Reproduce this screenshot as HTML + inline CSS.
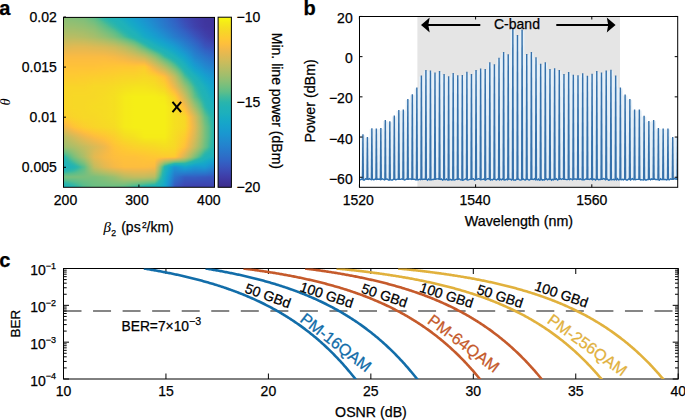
<!DOCTYPE html>
<html><head><meta charset="utf-8"><style>
html,body{margin:0;padding:0;background:#fff;}
#root{position:relative;width:685px;height:420px;overflow:hidden;background:#fff;font-family:"Liberation Sans",sans-serif;}
svg{position:absolute;left:0;top:0;}
text{font-family:"Liberation Sans",sans-serif;stroke:currentColor;stroke-width:0.25px;}
</style></head><body><div id="root">
<div style="position:absolute;left:63.50px;top:17.00px;width:151.00px;height:170.00px;overflow:hidden"><div style="height:1px;background:linear-gradient(90deg,#89bf76,#88bf77,#86bf77,#85bf78,#84bf78,#82bf79,#81bf79,#80bf7a,#7ebf7b,#7dbf7b,#7bbf7c,#76bf7e,#70bf81,#6abe83,#64be86,#5ebe89,#55bd8d,#48bb96,#3cb99e,#33b7a5,#2bb5ab,#26b4af,#23b3b2,#21b3b5,#20b2b7,#20b2b8,#1fb1ba,#1dafbd,#1baec0,#19acc2,#17aac5,#16a8c7,#16a6c9,#16a3cb,#16a1cd,#179ece,#189ccf,#1999cf,#1a96cf,#1c94d0,#1d91d0,#1e8ecf,#208bcf,#2188ce,#2385ce,#2481cd,#267ecd,#277bcc,#2878cb,#2a75ca,#2b71c9,#2d6dc8,#2f6ac7,#3066c5,#3263c4,#345ec2,#365abf,#3855bc,#3a51b9,#3c4db6,#3d49b3,#3d46b0,#3e44ae,#3e41ac,#3f3fa9,#3f3ca7,#3f3ba5,#4039a4,#4037a2,#3f369f,#3f359d,#3f359c,#3f349c,#3f349b,#3f349a,#3e3399)"></div><div style="height:1px;background:linear-gradient(90deg,#8bbf75,#8abf76,#89bf76,#87bf77,#86bf77,#85bf78,#84bf78,#82bf79,#81bf79,#80bf7a,#7ebf7b,#79bf7d,#74bf7f,#6ebf82,#69be84,#63be87,#5abd8b,#4fbc91,#42ba9a,#38b8a1,#2fb6a8,#2ab5ac,#25b4b0,#22b3b3,#20b2b5,#20b2b7,#20b2b8,#1eb0bb,#1cafbe,#1aadc1,#18abc3,#16a9c6,#16a7c8,#16a5ca,#16a2cc,#16a0ce,#179dce,#199acf,#1a98cf,#1b95d0,#1c92d0,#1e8fcf,#1f8ccf,#2189cf,#2286ce,#2483ce,#257fcd,#267ccc,#2879cb,#2976ca,#2b72c9,#2c6ec8,#2e6bc7,#3067c6,#3164c5,#3360c2,#355bc0,#3757bd,#3952ba,#3b4eb7,#3c4ab4,#3d47b1,#3d45af,#3e42ad,#3f3faa,#3f3da8,#3f3ba6,#4039a4,#4038a2,#3f36a0,#3f359e,#3f359d,#3f359c,#3f349b,#3f349a,#3e3399)"></div><div style="height:1px;background:linear-gradient(90deg,#8dbf75,#8cbf75,#8bbf75,#8abf76,#89bf76,#88bf77,#86bf77,#85bf78,#84bf78,#82bf79,#81bf79,#7cbf7b,#77bf7e,#72bf80,#6dbf82,#67be85,#5fbe89,#56bd8d,#49bb95,#3eb99d,#34b7a4,#2db6a9,#28b5ad,#24b4b1,#22b3b4,#20b2b6,#20b2b7,#1fb1b9,#1db0bc,#1baebf,#19acc2,#17aac5,#16a8c7,#16a6c9,#16a3cb,#16a1cd,#179fce,#189ccf,#1999cf,#1a96cf,#1c94d0,#1d91d0,#1f8dcf,#208acf,#2287ce,#2384ce,#2481cd,#267dcc,#277acb,#2977cb,#2a73ca,#2c70c9,#2e6cc7,#2f68c6,#3165c5,#3261c3,#345dc1,#3658be,#3854bb,#3a4fb8,#3c4bb5,#3d48b2,#3d46b0,#3e43ad,#3e40ab,#3f3ea8,#3f3ca6,#403aa5,#4038a3,#4037a0,#3f369e,#3f359d,#3f359c,#3f349b,#3f349a,#3f349a)"></div><div style="height:1px;background:linear-gradient(90deg,#8fbf74,#8ebf74,#8dbf74,#8cbf75,#8bbf75,#8abf76,#89bf76,#88bf77,#86bf77,#85bf78,#84bf78,#7fbf7a,#7abf7c,#76bf7e,#71bf80,#6cbf82,#63be86,#5bbd8b,#51bc90,#44ba98,#3ab8a0,#32b7a6,#2cb6aa,#27b4af,#23b3b2,#21b3b5,#20b2b7,#20b2b8,#1eb1ba,#1cafbd,#1aadc0,#18abc3,#16a9c6,#16a7c8,#16a5ca,#16a2cc,#16a0ce,#179dce,#199bcf,#1a98cf,#1b95d0,#1c92d0,#1e8fcf,#1f8ccf,#2188cf,#2285ce,#2482cd,#257ecd,#277bcc,#2878cb,#2a74ca,#2c71c9,#2d6dc8,#2f69c6,#3066c5,#3262c4,#345ec1,#3659bf,#3855bc,#3a51b9,#3c4cb6,#3d49b4,#3d47b1,#3e44ae,#3e41ab,#3f3ea9,#3f3ca7,#403aa5,#4038a3,#4037a1,#3f369e,#3f359d,#3f359c,#3f349c,#3f349b,#3f349a)"></div><div style="height:1px;background:linear-gradient(90deg,#91bf73,#90bf73,#8fbf74,#8ebf74,#8ebf74,#8dbf74,#8cbf75,#8abf76,#89bf76,#88bf77,#86bf77,#82bf79,#7ebf7b,#79bf7d,#75bf7f,#70bf80,#68be84,#60be88,#57bd8c,#4cbc93,#40ba9b,#37b8a2,#30b6a7,#2ab5ac,#26b4b0,#23b3b3,#20b2b5,#20b2b7,#20b2b8,#1eb0bb,#1baebe,#19acc2,#17aac5,#16a8c7,#16a6c9,#16a3cb,#16a1cd,#179fce,#189ccf,#1999cf,#1a96cf,#1c93d0,#1d90d0,#1f8dcf,#208acf,#2286ce,#2383ce,#2580cd,#267ccc,#2879cb,#2a75ca,#2b72c9,#2d6ec8,#2e6ac7,#3067c6,#3163c4,#335fc2,#355bbf,#3756bd,#3952ba,#3b4eb7,#3c4ab5,#3d48b2,#3d45af,#3e42ac,#3f3fa9,#3f3da7,#3f3ba5,#4039a4,#4037a1,#3f369f,#3f359e,#3f359d,#3f359c,#3f349b,#3f349a)"></div><div style="height:1px;background:linear-gradient(90deg,#93bf72,#92bf72,#91bf73,#91bf73,#90bf73,#90bf73,#8ebf74,#8dbf74,#8cbf75,#8abf76,#89bf76,#85bf78,#81bf79,#7dbf7b,#79bf7d,#75bf7f,#6dbf82,#65be86,#5cbe8a,#54bd8e,#47bb96,#3db99d,#35b7a3,#2eb6a9,#29b5ad,#25b4b1,#22b3b4,#20b2b6,#20b2b8,#1fb1ba,#1dafbd,#1aadc0,#18abc3,#16a9c6,#16a7c8,#16a5ca,#16a2cc,#16a0ce,#179dce,#199acf,#1a98cf,#1b95d0,#1d92d0,#1e8ecf,#208bcf,#2188ce,#2384ce,#2481cd,#267dcc,#287acb,#2976cb,#2b73ca,#2c6fc8,#2e6cc7,#2f68c6,#3164c5,#3360c3,#355cc0,#3758bd,#3953bb,#3b4fb8,#3c4cb6,#3d48b3,#3d45b0,#3e42ad,#3f3faa,#3f3da8,#3f3ba6,#4039a4,#4037a2,#3f369f,#3f369e,#3f359d,#3f359c,#3f349b,#3f349a)"></div><div style="height:1px;background:linear-gradient(90deg,#94bf71,#94bf72,#94bf72,#93bf72,#93bf72,#92bf72,#91bf73,#90bf73,#8ebf74,#8dbf74,#8cbf75,#88bf76,#85bf78,#81bf7a,#7dbf7b,#79bf7d,#71bf80,#69be84,#61be87,#59bd8b,#4fbc91,#44ba99,#3bb99f,#33b7a5,#2cb6aa,#27b4ae,#23b3b2,#21b3b5,#20b2b7,#20b2b8,#1eb0bb,#1baebe,#19acc2,#17aac5,#16a8c7,#16a6c9,#16a4cb,#16a1cd,#179fce,#189ccf,#1999cf,#1b96d0,#1c93d0,#1e90d0,#1f8ccf,#2189cf,#2285ce,#2482cd,#267ecd,#277bcc,#2977cb,#2a74ca,#2c70c9,#2d6dc8,#2f69c6,#3065c5,#3262c4,#345dc1,#3659be,#3855bb,#3a50b9,#3c4db6,#3d49b4,#3d46b1,#3e43ae,#3e40ab,#3f3ea8,#3f3ca6,#4039a4,#4038a2,#3f369f,#3f369e,#3f359d,#3f359c,#3f349c,#3f349b)"></div><div style="height:1px;background:linear-gradient(90deg,#96bf71,#96bf71,#96bf71,#95bf71,#95bf71,#95bf71,#93bf72,#92bf72,#91bf73,#90bf73,#8ebf74,#8bbf75,#88bf77,#84bf78,#81bf79,#7dbf7b,#76bf7e,#6ebf81,#66be85,#5ebe89,#57bd8d,#4cbc94,#41ba9b,#38b8a1,#31b7a7,#2bb5ab,#25b4b0,#22b3b3,#20b2b6,#20b2b7,#1fb1b9,#1dafbd,#1aadc0,#18abc3,#16a9c6,#16a7c8,#16a5ca,#16a2cc,#16a0ce,#179dce,#199acf,#1a97cf,#1b94d0,#1d91d0,#1f8dcf,#208acf,#2287ce,#2383ce,#257fcd,#277ccc,#2878cb,#2a75ca,#2b71c9,#2d6ec8,#2e6ac7,#3067c6,#3263c4,#335fc2,#355abf,#3756bc,#3952ba,#3b4eb7,#3c4ab4,#3d47b1,#3e44ae,#3e41ab,#3f3ea9,#3f3ca7,#403aa5,#4038a2,#3f36a0,#3f369f,#3f359e,#3f359d,#3f359c,#3f349b)"></div><div style="height:1px;background:linear-gradient(90deg,#98bf70,#98bf70,#98bf70,#98bf70,#97bf70,#97bf70,#96bf71,#95bf71,#93bf72,#92bf72,#91bf73,#8ebf74,#8bbf75,#88bf77,#85bf78,#82bf79,#7abf7c,#73bf7f,#6bbf83,#64be86,#5cbe8a,#54bd8e,#48bb96,#3eb99d,#36b8a3,#2fb6a8,#28b5ad,#24b4b1,#21b3b5,#20b2b7,#20b2b8,#1eb0bb,#1baebe,#19acc2,#17aac5,#16a8c7,#16a6c9,#16a4cb,#16a1cd,#179ece,#189bcf,#1a98cf,#1b95d0,#1c92d0,#1e8fcf,#208bcf,#2188ce,#2384ce,#2580cd,#267dcc,#2879cb,#2976ca,#2b72c9,#2c6fc8,#2e6bc7,#3068c6,#3164c5,#3360c3,#355cc0,#3757bd,#3953ba,#3b4fb8,#3c4bb5,#3d48b2,#3d45af,#3e41ac,#3f3fa9,#3f3ca7,#403aa5,#4038a3,#4037a0,#3f369f,#3f369e,#3f359d,#3f359c,#3f349b)"></div><div style="height:1px;background:linear-gradient(90deg,#9abf6f,#9abf6f,#9abf6f,#9abf6f,#9abf6f,#9abf6f,#99bf70,#97bf70,#96bf71,#95bf71,#93bf72,#91bf73,#8ebf74,#8bbf75,#89bf76,#86bf77,#7fbf7a,#78bf7d,#70bf81,#69be84,#61be88,#59bd8b,#50bc90,#45ba98,#3bb99f,#33b7a4,#2cb6aa,#26b4af,#22b3b3,#20b2b6,#20b2b7,#1fb1b9,#1dafbd,#1aadc0,#18abc3,#16a9c6,#16a7c8,#16a5ca,#16a2cc,#16a0ce,#179dce,#199acf,#1a97cf,#1c93d0,#1d90d0,#1f8ccf,#2189cf,#2285ce,#2482cd,#267ecc,#277acb,#2977cb,#2a73ca,#2c70c9,#2d6cc7,#2f69c6,#3165c5,#3261c4,#345dc1,#3659be,#3854bb,#3a50b9,#3c4cb6,#3d49b3,#3d45b0,#3e42ac,#3f3faa,#3f3da8,#3f3ba5,#4038a3,#4037a0,#3f369f,#3f369e,#3f359d,#3f359c,#3f349b)"></div><div style="height:1px;background:linear-gradient(90deg,#9dbf6e,#9dbf6e,#9dbf6e,#9dbf6e,#9dbf6e,#9dbf6e,#9bbf6f,#9abf6f,#99bf70,#98bf70,#96bf71,#94bf72,#91bf73,#8fbf74,#8cbf75,#89bf76,#83bf79,#7cbf7b,#75bf7f,#6ebf82,#66be85,#5fbe89,#57bd8c,#4dbc93,#42ba9a,#39b8a0,#30b7a7,#29b5ac,#24b4b1,#21b3b4,#20b2b7,#20b2b8,#1eb0bb,#1caebe,#19adc2,#17abc5,#16a8c7,#16a6c9,#16a4cb,#16a1cd,#179ece,#189bcf,#1a98cf,#1b95d0,#1d92d0,#1e8ecf,#208acf,#2287ce,#2383ce,#257fcd,#277ccc,#2878cb,#2a75ca,#2b72c9,#2d6ec8,#2e6ac7,#3067c6,#3263c4,#335fc2,#355abf,#3756bc,#3952ba,#3b4eb7,#3c4ab4,#3d47b1,#3e43ad,#3e41ab,#3f3ea9,#3f3ca6,#4039a4,#4037a1,#4037a0,#3f369f,#3f369e,#3f359d,#3f359c)"></div><div style="height:1px;background:linear-gradient(90deg,#a0be6d,#a0be6d,#a0be6d,#a0be6d,#a0be6d,#a0be6d,#9ebe6d,#9dbe6e,#9cbf6e,#9bbf6f,#99bf6f,#97bf70,#94bf71,#92bf72,#8fbf74,#8dbf75,#87bf77,#80bf7a,#79bf7d,#73bf80,#6cbf83,#64be86,#5dbe8a,#56bd8d,#4bbb94,#41ba9b,#36b8a3,#2eb6a9,#28b5ae,#23b3b2,#21b3b5,#20b2b7,#20b2b9,#1db0bc,#1baebf,#18acc3,#16aac6,#16a7c8,#16a5ca,#16a2cc,#16a0ce,#179dce,#199acf,#1a97cf,#1c94d0,#1d90d0,#1f8dcf,#2189cf,#2285ce,#2482cd,#267ecc,#277acc,#2977cb,#2a74ca,#2c70c9,#2d6cc7,#2f69c6,#3165c5,#3261c4,#345dc1,#3659be,#3855bb,#3a50b9,#3c4cb6,#3d49b3,#3d45af,#3e42ad,#3e40aa,#3f3da8,#3f3ba5,#4038a3,#4037a2,#4037a0,#3f369f,#3f359e,#3f359c)"></div><div style="height:1px;background:linear-gradient(90deg,#a3be6c,#a3be6c,#a3be6c,#a3be6c,#a3be6c,#a3be6c,#a1be6c,#a0be6d,#9fbe6d,#9ebe6e,#9dbf6e,#9abf6f,#98bf70,#95bf71,#93bf72,#90bf73,#8abf76,#84bf78,#7ebf7b,#77bf7d,#71bf80,#6abe84,#63be87,#5bbe8a,#54bd8e,#49bb95,#3db99e,#33b7a5,#2bb5ab,#26b4b0,#22b3b3,#20b2b6,#20b2b8,#1fb1ba,#1cafbd,#1aadc0,#17abc4,#16a9c7,#16a6c9,#16a4cb,#16a1cd,#179fce,#189ccf,#1998cf,#1b95d0,#1c92d0,#1e8fcf,#208bcf,#2188ce,#2384ce,#2580cd,#267dcc,#2879cb,#2976ca,#2b72c9,#2d6ec8,#2e6bc7,#3067c6,#3164c5,#3360c2,#355bc0,#3757bd,#3953ba,#3b4fb8,#3c4bb5,#3d47b1,#3e44af,#3e41ac,#3f3fa9,#3f3ca7,#4039a4,#4038a3,#4037a1,#3f36a0,#3f369e,#3f359d)"></div><div style="height:1px;background:linear-gradient(90deg,#a6be6b,#a6be6b,#a6be6b,#a6be6b,#a6be6b,#a6be6b,#a4be6b,#a3be6c,#a2be6c,#a1be6d,#a0be6d,#9dbe6e,#9bbf6f,#98bf70,#96bf71,#93bf72,#8ebf74,#88bf77,#82bf79,#7cbf7b,#76bf7e,#6fbf81,#68be84,#61be88,#5abd8b,#52bd8f,#45ba98,#39b8a0,#30b7a7,#29b5ac,#24b4b1,#21b3b4,#20b2b7,#20b2b8,#1eb0bb,#1caebe,#19acc2,#16aac6,#16a8c8,#16a5ca,#16a2cc,#16a0ce,#179dce,#199acf,#1a97cf,#1b94d0,#1d91d0,#1f8dcf,#208acf,#2286ce,#2482ce,#257fcd,#277bcc,#2878cb,#2a74ca,#2c70c9,#2d6dc8,#2f69c6,#3066c5,#3262c4,#345ec1,#3659bf,#3855bc,#3a51b9,#3c4db6,#3d49b3,#3d46b0,#3e43ae,#3e40ab,#3f3da8,#403aa5,#4039a4,#4038a3,#4037a1,#3f369f,#3f359d)"></div><div style="height:1px;background:linear-gradient(90deg,#a8be69,#a8be69,#a8be69,#a8be69,#a8be69,#a8be69,#a7be6a,#a6be6a,#a5be6b,#a4be6b,#a3be6c,#a0be6d,#9ebe6e,#9bbf6f,#99bf70,#96bf71,#91bf73,#8cbf75,#86bf77,#81bf7a,#7bbf7c,#74bf7f,#6ebf82,#67be85,#60be88,#59bd8b,#4dbc92,#41ba9b,#36b8a3,#2eb6a9,#28b5ae,#23b3b2,#21b3b5,#20b2b7,#20b2b9,#1db0bc,#1baec0,#18abc3,#16a9c7,#16a6c9,#16a4cb,#16a1cd,#169fce,#189ccf,#1999cf,#1b96d0,#1c93d0,#1e8fd0,#1f8ccf,#2188cf,#2385ce,#2481cd,#267dcc,#277acb,#2976cb,#2b72c9,#2c6fc8,#2e6bc7,#2f68c6,#3164c5,#3360c3,#355cc0,#3758bd,#3953bb,#3b4fb8,#3c4bb5,#3d48b2,#3d45af,#3e42ac,#3f3fa9,#3f3ca7,#403aa5,#4039a4,#4037a2,#3f36a0,#3f359e)"></div><div style="height:1px;background:linear-gradient(90deg,#abbe68,#abbe68,#abbe68,#abbe68,#abbe68,#abbe68,#aabe69,#a9be69,#a8be6a,#a7be6a,#a6be6b,#a3be6c,#a1be6d,#9ebe6d,#9cbf6e,#99bf6f,#95bf71,#90bf73,#8abf76,#85bf78,#80bf7a,#7abf7d,#73bf7f,#6dbf82,#66be85,#5fbe88,#56bd8d,#49bb95,#3db99e,#33b7a5,#2bb5ab,#26b4b0,#22b3b3,#20b2b6,#20b2b8,#1fb1ba,#1cafbe,#19adc1,#17aac5,#16a8c8,#16a5ca,#16a3cc,#16a1ce,#179ece,#189bcf,#1a98cf,#1b95d0,#1d92d0,#1e8ecf,#208acf,#2287ce,#2383ce,#257fcd,#277ccc,#2878cb,#2a74ca,#2b71c9,#2d6dc8,#2f6ac7,#3066c5,#3263c4,#345ec2,#365abf,#3856bc,#3a51b9,#3c4db7,#3c4ab4,#3d46b1,#3e43ae,#3e40ab,#3f3da8,#3f3ba6,#403aa4,#4038a3,#4037a0,#3f369e)"></div><div style="height:1px;background:linear-gradient(90deg,#aebe67,#aebe67,#aebe67,#aebe67,#aebe67,#aebe67,#adbe68,#acbe68,#abbe69,#aabe69,#a8be69,#a6be6a,#a4be6b,#a1be6c,#9fbe6d,#9dbf6e,#98bf70,#93bf72,#8fbf74,#8abf76,#85bf78,#7fbf7a,#79bf7d,#72bf80,#6cbf83,#65be86,#5cbe8a,#52bd8f,#45ba98,#39b8a0,#30b7a7,#29b5ac,#24b4b1,#21b3b4,#20b2b7,#20b2b8,#1eb0bb,#1baebf,#18acc3,#16a9c7,#16a6c9,#16a4cb,#16a2cc,#16a0ce,#189dcf,#199acf,#1a97cf,#1c94d0,#1d90d0,#1f8ccf,#2189cf,#2285ce,#2482cd,#267ecc,#277acb,#2976cb,#2b73ca,#2c6fc8,#2e6cc7,#2f68c6,#3165c5,#3261c3,#355cc0,#3758be,#3953bb,#3b4fb8,#3c4bb5,#3d48b2,#3d45af,#3e42ac,#3f3ea9,#3f3ca7,#403aa5,#4038a3,#4037a1,#3f369f)"></div><div style="height:1px;background:linear-gradient(90deg,#b1bd66,#b1bd66,#b1bd66,#b1bd66,#b1bd66,#b1bd66,#b0bd66,#afbe67,#aebe67,#adbe68,#abbe68,#a9be69,#a7be6a,#a4be6b,#a2be6c,#a0be6d,#9bbf6f,#97bf70,#93bf72,#8ebf74,#89bf76,#84bf78,#7ebf7b,#78bf7d,#72bf80,#6bbf83,#62be87,#59bd8b,#4dbc92,#41ba9b,#36b8a3,#2eb6a9,#28b5ae,#23b3b2,#21b3b5,#20b2b7,#1fb1b9,#1cafbd,#19adc1,#16aac5,#16a8c8,#16a5ca,#16a3cb,#16a1cd,#179ece,#189ccf,#1999cf,#1b95d0,#1c92d0,#1e8fcf,#208bcf,#2187ce,#2384ce,#2580cd,#277ccc,#2878cb,#2a75ca,#2b71c9,#2d6ec8,#2e6ac7,#3067c6,#3163c4,#335fc2,#365abf,#3856bc,#3a51b9,#3b4db7,#3c4ab4,#3d46b1,#3e43ad,#3e40aa,#3f3da8,#3f3ba6,#4039a4,#4037a2,#3f369f)"></div><div style="height:1px;background:linear-gradient(90deg,#b4bd65,#b4bd65,#b4bd65,#b4bd65,#b4bd65,#b4bd65,#b3bd65,#b2bd66,#b0bd66,#afbe67,#aebe67,#acbe68,#aabe69,#a7be6a,#a5be6b,#a3be6c,#9fbe6d,#9bbf6f,#96bf71,#92bf72,#8ebf74,#89bf76,#83bf79,#7dbf7b,#77bf7e,#71bf80,#68be84,#5fbe88,#56bd8d,#49bb95,#3db99e,#33b7a5,#2bb5ab,#26b4b0,#22b3b3,#20b2b6,#20b2b8,#1eb0bb,#1baebf,#18abc3,#16a9c7,#16a7c9,#16a5ca,#16a2cc,#16a0ce,#179dce,#199acf,#1a97cf,#1b94d0,#1d91d0,#1f8dcf,#2189cf,#2286ce,#2482cd,#267ecc,#287acb,#2977cb,#2a73ca,#2c70c9,#2d6cc7,#2f69c6,#3165c5,#3261c4,#345dc1,#3758be,#3953bb,#3a4fb8,#3c4cb6,#3d48b2,#3e44af,#3e41ab,#3f3fa9,#3f3ca7,#403aa5,#4038a3,#3f36a0)"></div><div style="height:1px;background:linear-gradient(90deg,#b7bd64,#b7bd64,#b7bd64,#b7bd64,#b7bd64,#b7bd64,#b6bd64,#b4bd65,#b3bd65,#b2bd66,#b1bd66,#afbe67,#adbe68,#aabe69,#a8be6a,#a6be6b,#a2be6c,#9ebe6e,#9abf6f,#96bf71,#93bf72,#8dbf74,#88bf77,#82bf79,#7dbf7b,#77bf7e,#6ebf81,#65be86,#5cbe8a,#52bd8f,#45ba98,#39b8a0,#30b7a7,#29b5ac,#24b4b1,#21b3b4,#20b2b7,#1fb1b9,#1cafbd,#19adc2,#16aac6,#16a8c8,#16a6c9,#16a4cb,#16a2cd,#169fce,#189ccf,#1999cf,#1b96d0,#1c93d0,#1e8fcf,#208bcf,#2188ce,#2384ce,#2580cd,#277bcc,#2878cb,#2975ca,#2b72c9,#2c6ec8,#2e6bc7,#3067c6,#3163c4,#335fc2,#365abf,#3855bc,#3a51b9,#3b4db7,#3c4ab4,#3d46b0,#3e42ad,#3e40aa,#3f3da8,#3f3ba6,#4038a3,#4037a0)"></div><div style="height:1px;background:linear-gradient(90deg,#babd62,#babd62,#babd62,#babd62,#babd62,#babd62,#b9bd63,#b8bd63,#b7bd64,#b6bd64,#b5bd64,#b3bd65,#b1bd66,#aebe67,#acbe68,#aabe69,#a7be6a,#a3be6c,#a0be6d,#9cbf6e,#99bf70,#94bf72,#8fbf74,#89bf76,#84bf78,#7fbf7a,#76bf7e,#6ebf82,#65be86,#5cbe8a,#52bd8f,#45ba98,#39b8a0,#30b7a7,#29b5ac,#24b4b1,#21b3b5,#20b2b7,#1eb1ba,#1baebf,#18acc3,#16aac6,#16a8c8,#16a6c9,#16a3cb,#16a1cd,#179fce,#189bcf,#1a98cf,#1b95d0,#1c92d0,#1e8ecf,#208acf,#2286ce,#2482ce,#267ecd,#277bcc,#2878cb,#2a75ca,#2b71c9,#2d6dc8,#2f6ac7,#3066c5,#3262c4,#345dc1,#3758be,#3854bb,#3a50b8,#3c4bb5,#3d48b2,#3e44ae,#3e41ac,#3f3fa9,#3f3ca7,#403aa5,#4037a2)"></div><div style="height:1px;background:linear-gradient(90deg,#bebc61,#bebc61,#bebc61,#bebc61,#bebc61,#bfbc61,#bebc61,#bdbd61,#bcbd62,#bbbd62,#babd62,#b8bd63,#b6bd64,#b4bd65,#b2bd66,#b0bd67,#adbe68,#a9be69,#a6be6a,#a3be6c,#a0be6d,#9bbf6f,#97bf71,#92bf72,#8dbf74,#88bf76,#81bf7a,#79bf7d,#70bf81,#68be84,#5fbe88,#56bd8d,#49bb95,#3db99e,#33b7a5,#2bb5ab,#25b4b1,#21b3b5,#20b2b7,#1eb1ba,#1baebf,#19acc2,#16aac5,#16a8c7,#16a6c9,#16a3cb,#16a1cd,#179ece,#189bcf,#1a98cf,#1b95d0,#1d91d0,#1f8dcf,#208acf,#2286ce,#2482cd,#267ecd,#277bcc,#2977cb,#2a74ca,#2c70c9,#2d6cc7,#2f68c6,#3164c5,#3360c3,#355bbf,#3756bd,#3952ba,#3b4eb7,#3c4ab4,#3d46b0,#3e43ae,#3e41ab,#3f3ea9,#3f3ca7,#4039a4)"></div><div style="height:1px;background:linear-gradient(90deg,#c2bc5f,#c2bc5f,#c2bc5f,#c2bc5f,#c3bc5f,#c3bc5f,#c2bc5f,#c1bc5f,#c1bc60,#c0bc60,#bfbc60,#bdbd61,#bbbd62,#b9bd63,#b7bd64,#b5bd64,#b2bd65,#b0bd67,#adbe68,#aabe69,#a7be6a,#a3be6c,#9fbe6d,#9abf6f,#96bf71,#92bf73,#8abf76,#83bf79,#7bbf7c,#73bf7f,#6bbf83,#62be87,#59bd8b,#4dbc92,#41ba9b,#36b8a3,#2bb5ab,#24b4b1,#21b3b5,#20b2b7,#1eb0bb,#1caebe,#19acc2,#17aac5,#16a8c8,#16a6ca,#16a3cb,#16a1cd,#179ece,#189bcf,#1a98cf,#1b94d0,#1d91d0,#1f8dcf,#2189cf,#2285ce,#2482cd,#267ecc,#277acc,#2977cb,#2a73ca,#2c6fc8,#2e6bc7,#3067c6,#3263c4,#345ec1,#3659be,#3855bb,#3a50b9,#3c4cb6,#3d48b2,#3d45af,#3e43ad,#3e40ab,#3f3ea9,#3f3ca6)"></div><div style="height:1px;background:linear-gradient(90deg,#c5bc5e,#c6bc5e,#c6bc5e,#c6bc5d,#c7bc5d,#c7bc5d,#c7bc5d,#c6bc5e,#c5bc5e,#c4bc5e,#c4bc5f,#c2bc5f,#c0bc60,#bebc61,#bdbd61,#bbbd62,#b8bd63,#b6bd64,#b3bd65,#b1bd66,#aebe67,#aabe69,#a6be6a,#a2be6c,#9ebe6d,#9abf6f,#94bf72,#8dbf75,#86bf77,#7fbf7a,#77bf7e,#6ebf81,#65be86,#5cbe8a,#52bd8f,#45ba98,#36b8a3,#2bb5ab,#24b4b1,#21b2b5,#20b2b8,#1eb1ba,#1cafbe,#19acc2,#16aac5,#16a8c8,#16a5ca,#16a3cc,#16a1cd,#179ece,#189bcf,#1a97cf,#1c94d0,#1d90d0,#1f8ccf,#2188cf,#2385ce,#2481cd,#267dcc,#2879cb,#2975ca,#2b71c9,#2d6dc8,#2f69c6,#3165c5,#3360c3,#355cc0,#3757bd,#3952ba,#3b4eb7,#3d49b4,#3d47b1,#3d45af,#3e42ad,#3e40ab,#3f3ea8)"></div><div style="height:1px;background:linear-gradient(90deg,#c9bc5c,#cabb5c,#cabb5c,#cbbb5c,#cbbb5c,#cbbb5b,#cbbb5c,#cabb5c,#cabb5c,#c9bc5c,#c9bc5d,#c7bc5d,#c5bc5e,#c4bc5f,#c2bc5f,#c0bc60,#bebc61,#bcbd62,#b9bd63,#b7bd64,#b5bd65,#b1bd66,#aebe67,#aabe69,#a7be6a,#a3be6c,#9dbf6e,#96bf71,#90bf73,#89bf76,#82bf79,#7abf7c,#71bf80,#68be84,#5fbe88,#56bd8d,#44ba99,#35b8a3,#2bb5ab,#24b4b1,#20b2b6,#20b2b8,#1eb1ba,#1caebe,#19acc2,#16aac6,#16a8c8,#16a5ca,#16a3cc,#16a1ce,#179ece,#199acf,#1a97cf,#1c94d0,#1e90d0,#1f8ccf,#2188cf,#2384ce,#2580cd,#277ccc,#2878cb,#2a74ca,#2c70c9,#2e6cc7,#3067c6,#3263c4,#345ec2,#365abf,#3855bc,#3a50b9,#3c4bb5,#3d49b3,#3d47b1,#3e44af,#3e42ad,#3e40ab)"></div><div style="height:1px;background:linear-gradient(90deg,#cdbb5b,#cdbb5b,#cebb5a,#cebb5a,#cfbb5a,#d0bb5a,#cfbb5a,#cfbb5a,#cebb5a,#cebb5a,#cdbb5b,#ccbb5b,#cabb5c,#c9bc5c,#c7bc5d,#c6bc5e,#c4bc5f,#c2bc5f,#c0bc60,#bdbc61,#bbbd62,#b8bd63,#b5bd64,#b2bd66,#aebe67,#abbe68,#a5be6b,#9fbe6d,#9abf6f,#93bf72,#8dbf74,#85bf78,#7dbf7b,#74bf7f,#6bbf83,#62be87,#56bd8d,#43ba99,#34b7a4,#2ab5ac,#23b3b2,#20b2b6,#20b2b8,#1eb0bb,#1baebf,#18acc3,#16aac6,#16a7c8,#16a5ca,#16a3cc,#16a0ce,#179dce,#199acf,#1a96cf,#1c93d0,#1e8fcf,#208bcf,#2287ce,#2383ce,#257fcd,#277acc,#2976cb,#2b72c9,#2d6ec8,#2f6ac7,#3165c5,#3261c3,#355cc0,#3757bd,#3952ba,#3b4db7,#3c4bb5,#3d49b3,#3d47b1,#3e44af,#3e42ad)"></div><div style="height:1px;background:linear-gradient(90deg,#d0bb59,#d1bb59,#d2bb59,#d2bb58,#d3bb58,#d4bb58,#d3bb58,#d3bb58,#d3bb58,#d2bb58,#d2bb59,#d1bb59,#cfbb5a,#cebb5a,#ccbb5b,#cbbb5c,#c9bc5c,#c7bc5d,#c6bc5e,#c4bc5f,#c2bc5f,#bfbc60,#bcbd62,#b9bd63,#b6bd64,#b3bd65,#aebe67,#a8be6a,#a3be6c,#9dbe6e,#97bf70,#90bf73,#88bf77,#80bf7a,#77bf7e,#6ebf81,#61be87,#55bd8e,#41ba9a,#33b7a5,#29b5ad,#23b3b2,#20b2b6,#20b2b8,#1db0bc,#1aadc0,#18acc3,#16aac6,#16a7c8,#16a5ca,#16a3cc,#16a0ce,#189dcf,#1999cf,#1b96d0,#1c92d0,#1e8ecf,#208acf,#2286ce,#2481cd,#267dcc,#2879cb,#2a75ca,#2c71c9,#2e6cc7,#3068c6,#3163c4,#345fc2,#365abf,#3854bb,#3a4fb8,#3c4db7,#3c4bb5,#3d49b3,#3d46b1,#3e44af)"></div><div style="height:1px;background:linear-gradient(90deg,#d4bb58,#d5ba57,#d6ba57,#d6ba57,#d7ba56,#d8ba56,#d8ba56,#d7ba56,#d7ba56,#d7ba57,#d7ba57,#d5ba57,#d4bb58,#d3bb58,#d1bb59,#d0bb59,#cfbb5a,#cdbb5b,#cbbb5b,#cabb5c,#c8bc5d,#c6bc5e,#c3bc5f,#c0bc60,#bebc61,#bbbd62,#b6bd64,#b1bd66,#acbe68,#a6be6a,#a1be6c,#9abf6f,#92bf72,#8abf76,#82bf79,#7abf7c,#6dbf82,#60be88,#52bd8f,#3fb99c,#31b7a6,#28b5ae,#22b3b3,#20b2b6,#20b2b8,#1cafbd,#1aadc0,#18abc4,#16a9c6,#16a7c8,#16a5ca,#16a2cc,#16a0ce,#189ccf,#1999cf,#1b95d0,#1d91d0,#1f8dcf,#2188cf,#2384ce,#257fcd,#277bcc,#2977cb,#2a73ca,#2c6ec8,#2e6ac7,#3066c5,#3261c3,#355cc0,#3757bd,#3a51b9,#3b4fb8,#3c4db7,#3c4bb5,#3d49b3,#3d47b1)"></div><div style="height:1px;background:linear-gradient(90deg,#d8ba56,#d9ba56,#d9ba55,#daba55,#dbba55,#dcba54,#dcba54,#dcba54,#dcba54,#dbba55,#dbba55,#daba55,#d9ba56,#d8ba56,#d7ba57,#d5ba57,#d4bb58,#d3bb58,#d1bb59,#d0bb5a,#cfbb5a,#ccbb5b,#cabb5c,#c7bc5d,#c5bc5e,#c2bc5f,#bebc61,#b9bd63,#b4bd65,#afbe67,#aabe69,#a3be6b,#9cbf6e,#95bf71,#8dbf74,#85bf78,#79bf7d,#6cbf83,#5fbe89,#4fbc91,#3db99e,#30b6a7,#27b4af,#21b3b4,#20b2b7,#1fb1ba,#1cafbd,#1aadc0,#18abc4,#16a9c7,#16a7c8,#16a4ca,#16a2cd,#169fce,#189ccf,#1a98cf,#1b94d0,#1e90d0,#208bcf,#2286ce,#2482cd,#267ecc,#2879cb,#2975ca,#2b71c9,#2d6cc7,#2f68c6,#3163c4,#345ec2,#3659be,#3953bb,#3a51b9,#3b4fb8,#3c4db7,#3c4bb5,#3d49b3)"></div><div style="height:1px;background:linear-gradient(90deg,#dbba55,#dcba54,#ddba54,#deba53,#dfba53,#e0ba52,#e0ba52,#e0ba52,#e0ba53,#e0ba53,#e0ba53,#dfba53,#deba54,#ddba54,#dcba54,#daba55,#d9ba55,#d8ba56,#d7ba56,#d6ba57,#d5ba57,#d3bb58,#d0bb59,#cebb5a,#ccbb5b,#cabb5c,#c6bc5e,#c1bc60,#bdbd61,#b8bd63,#b4bd65,#adbe68,#a6be6a,#9fbe6d,#97bf70,#90bf73,#84bf78,#77bf7e,#6abe83,#5dbe8a,#4cbc93,#3ab9a0,#2db6a9,#25b4b0,#21b3b5,#20b2b8,#1eb1ba,#1cafbd,#1aadc1,#18abc4,#16a9c7,#16a7c9,#16a4cb,#16a1cd,#179fce,#189bcf,#1a97cf,#1c93d0,#1e8ecf,#2189cf,#2384ce,#2580cd,#277ccc,#2878cb,#2a73ca,#2c6fc8,#2e6ac7,#3065c5,#3361c3,#355bc0,#3856bc,#3953bb,#3a51b9,#3b4fb8,#3c4db7,#3c4bb5)"></div><div style="height:1px;background:linear-gradient(90deg,#dfba53,#e0ba53,#e1ba52,#e1b952,#e2b951,#e3b951,#e3b951,#e3b951,#e3b951,#e3b951,#e3b951,#e2b951,#e1b952,#e1ba52,#e0ba53,#dfba53,#deba54,#ddba54,#dcba54,#dbba55,#daba55,#d8ba56,#d6ba57,#d4bb58,#d2bb59,#d0bb5a,#ccbb5b,#c7bc5d,#c3bc5f,#bfbc60,#bbbd62,#b4bd65,#aebe67,#a7be6a,#a0be6d,#99bf70,#8ebf74,#82bf79,#76bf7e,#69be84,#5bbe8a,#4abb95,#38b8a1,#2cb6ab,#24b4b1,#20b2b6,#20b2b8,#1fb1ba,#1cafbd,#1aadc0,#18abc4,#16a9c7,#16a6c9,#16a4cb,#16a1cd,#179ece,#199acf,#1b95d0,#1d91d0,#1f8ccf,#2287ce,#2483ce,#257ecd,#277acb,#2976ca,#2b71c9,#2d6cc7,#2f68c6,#3163c4,#345ec1,#3658be,#3756bc,#3854bb,#3952ba,#3a50b8,#3b4db7)"></div><div style="height:1px;background:linear-gradient(90deg,#e2b952,#e2b951,#e3b951,#e4b950,#e5b950,#e6b950,#e6b950,#e6b950,#e6b950,#e6b950,#e6b950,#e5b950,#e4b950,#e3b951,#e2b951,#e2b952,#e1ba52,#e0ba53,#dfba53,#deba53,#ddba54,#dbba55,#daba55,#d8ba56,#d6ba57,#d4bb58,#d0bb5a,#ccbb5b,#c8bc5d,#c4bc5e,#c0bc60,#babd62,#b4bd65,#aebe67,#a7be6a,#a1be6d,#97bf71,#8cbf75,#81bf7a,#75bf7e,#69be84,#5bbd8a,#49bb95,#38b8a1,#2cb5ab,#24b4b1,#21b3b5,#20b2b7,#1fb2b9,#1dafbc,#1aadc0,#17abc4,#16a9c7,#16a6c9,#16a3cb,#16a1cd,#189dcf,#1a98cf,#1c94d0,#1e8fcf,#208acf,#2286ce,#2481cd,#267dcc,#2878cb,#2a73ca,#2c6fc8,#2e6ac7,#3066c5,#3261c3,#355cc0,#3659be,#3757bd,#3855bb,#3952ba,#3a50b9)"></div><div style="height:1px;background:linear-gradient(90deg,#e5b950,#e5b950,#e6b950,#e7b94f,#e8b94f,#e8b94e,#e8b94e,#e8b94e,#e8b94e,#e8b94e,#e8b94e,#e8b94f,#e7b94f,#e6b950,#e5b950,#e5b950,#e4b951,#e3b951,#e2b951,#e2b952,#e1ba52,#dfba53,#ddba54,#dcba55,#daba55,#d8ba56,#d4bb58,#d1bb59,#cdbb5b,#c9bb5c,#c6bc5e,#c0bc60,#babd62,#b4bd65,#afbe67,#a8be69,#9fbe6d,#96bf71,#8cbf75,#81bf79,#76bf7e,#69be84,#5bbd8b,#49bb95,#38b8a1,#2cb5ab,#25b4b0,#21b3b4,#20b2b7,#20b2b9,#1dafbd,#1aadc0,#17abc4,#16a8c7,#16a6c9,#16a3cc,#169fce,#189bcf,#1a97cf,#1c92d0,#1f8dcf,#2189cf,#2384ce,#257fcd,#277acc,#2976ca,#2b71c9,#2d6dc8,#2f68c6,#3164c5,#335fc2,#355cc0,#365abf,#3758bd,#3855bc,#3953ba)"></div><div style="height:1px;background:linear-gradient(90deg,#e8b94f,#e8b94e,#e9b94e,#eab94e,#eab94d,#ebb94d,#ebb94d,#ebb94d,#ebb94d,#ebb94d,#ebb94d,#eab94d,#eab94e,#e9b94e,#e8b94e,#e8b94f,#e7b94f,#e6b94f,#e6b950,#e5b950,#e4b950,#e3b951,#e1b952,#dfba53,#deba54,#dcba54,#d9ba56,#d5ba57,#d2bb59,#cebb5a,#cbbb5c,#c6bc5e,#c0bc60,#bbbd62,#b6bd64,#b0bd66,#a7be6a,#9fbe6d,#96bf71,#8cbf75,#83bf79,#76bf7e,#68be84,#5bbd8b,#49bb95,#38b8a1,#2db6a9,#26b4b0,#21b3b4,#20b2b7,#1fb1b9,#1cafbd,#1aadc1,#17abc5,#16a8c8,#16a5ca,#16a2cd,#179ece,#199acf,#1b95d0,#1d90d0,#1f8ccf,#2287ce,#2482cd,#267dcc,#2878cb,#2a74ca,#2c6fc8,#2e6bc7,#3067c6,#3262c4,#3360c3,#345dc1,#355abf,#3758be,#3855bc)"></div><div style="height:1px;background:linear-gradient(90deg,#ebb94d,#ebb94d,#ecb94d,#ecb94c,#edb94c,#edb94c,#edb94c,#edb94c,#edb94c,#edb94c,#edb94c,#edb94c,#ecb94c,#ecb94d,#ebb94d,#ebb94d,#eab94d,#eab94e,#e9b94e,#e9b94e,#e8b94f,#e6b94f,#e5b950,#e3b951,#e2b952,#e0ba52,#ddba54,#daba55,#d7ba57,#d3bb58,#d0bb59,#cbbb5b,#c6bc5d,#c1bc5f,#bcbd62,#b7bd64,#b0be67,#a8be6a,#a0be6d,#97bf70,#8ebf74,#82bf79,#76bf7e,#68be84,#5bbd8b,#49bb95,#39b8a0,#2eb6a9,#26b4b0,#21b3b4,#20b2b7,#1fb1ba,#1cafbe,#19adc2,#16aac6,#16a7c8,#16a4cb,#16a1ce,#189ccf,#1a98cf,#1c94d0,#1e8fcf,#208acf,#2385ce,#257fcd,#277acb,#2976ca,#2b72c9,#2d6ec8,#2f69c6,#3165c5,#3263c4,#3360c3,#345dc1,#355bbf,#3758be)"></div><div style="height:1px;background:linear-gradient(90deg,#eeb94b,#eeb94b,#efb94b,#efb94b,#f0b94a,#f0b94a,#f0b94a,#f0b94a,#f0b94a,#f0b94a,#f0b94a,#f0b94a,#efb94b,#efb94b,#eeb94b,#eeb94b,#edb94c,#edb94c,#ecb94c,#ecb94c,#ebb94d,#eab94e,#e9b94e,#e7b94f,#e6b950,#e4b950,#e1b952,#deba53,#dbba55,#d8ba56,#d5ba57,#d1bb59,#ccbb5b,#c8bc5d,#c3bc5f,#bebc61,#b7bd63,#b0bd66,#a9be69,#a1be6c,#9abf6f,#8ebf74,#82bf79,#76bf7e,#69be84,#5bbd8a,#4abb95,#39b8a0,#2db6aa,#25b4b1,#21b2b5,#20b2b7,#1eb1ba,#1baebe,#19acc2,#16aac6,#16a6c9,#16a3cc,#169fce,#189bcf,#1a96cf,#1d92d0,#1f8ccf,#2287ce,#2482cd,#277ccc,#2878cb,#2a74ca,#2c70c9,#2e6cc7,#2f68c6,#3165c5,#3263c4,#3360c3,#345dc1,#355bbf)"></div><div style="height:1px;background:linear-gradient(90deg,#f1b94a,#f1b94a,#f1b949,#f2b949,#f2b949,#f2b949,#f2b949,#f2b949,#f2b949,#f2b949,#f2b949,#f2b949,#f2b949,#f1b949,#f1b94a,#f1b94a,#f0b94a,#f0b94a,#f0b94a,#efb94b,#efb94b,#eeb94c,#ecb94c,#ebb94d,#eab94e,#e8b94f,#e5b950,#e3b951,#e0ba52,#ddba54,#daba55,#d6ba57,#d2bb59,#cebb5a,#cabb5c,#c5bc5e,#bfbc60,#b9bd63,#b2bd66,#abbe68,#a4be6b,#9abf6f,#8ebf74,#82bf79,#76bf7e,#69be84,#5bbd8b,#48bb96,#37b8a2,#2bb5ab,#23b3b2,#20b2b6,#20b2b8,#1eb0bb,#1baebf,#18abc3,#16a8c7,#16a5ca,#16a2cd,#179ece,#1999cf,#1b94d0,#1e8fcf,#208acf,#2384ce,#267ecd,#277acc,#2977cb,#2b73ca,#2c6fc8,#2e6ac7,#2f68c6,#3065c5,#3263c4,#3360c3,#345dc1)"></div><div style="height:1px;background:linear-gradient(90deg,#f4ba48,#f4ba47,#f4ba47,#f4ba47,#f4ba47,#f5ba47,#f5ba47,#f5ba47,#f5ba47,#f5ba47,#f5ba47,#f4ba47,#f4ba47,#f4ba47,#f4ba47,#f4ba48,#f3ba48,#f3ba48,#f3b948,#f3b948,#f2b949,#f1b949,#f0b94a,#efb94b,#edb94c,#ecb94c,#eab94e,#e7b94f,#e5b950,#e2b951,#e0ba53,#dcba54,#d8ba56,#d4bb58,#d0bb59,#ccbb5b,#c7bc5d,#c1bc60,#bbbd62,#b5bd64,#afbe67,#a5be6b,#9abf6f,#8fbf74,#83bf79,#76bf7e,#68be84,#59bd8c,#44ba98,#33b7a5,#28b5ae,#22b3b3,#20b2b6,#20b2b8,#1db0bc,#1aadc0,#17aac5,#16a7c8,#16a4cb,#16a0ce,#189ccf,#1a97cf,#1d92d0,#1f8ccf,#2286ce,#2580cd,#267dcc,#2879cb,#2975ca,#2b71c9,#2d6dc8,#2e6bc7,#2f68c6,#3065c5,#3263c4,#3360c3)"></div><div style="height:1px;background:linear-gradient(90deg,#f6ba46,#f6ba45,#f7ba45,#f7ba45,#f7ba45,#f7ba45,#f7ba45,#f7ba45,#f7ba45,#f7ba45,#f7ba45,#f7ba45,#f7ba45,#f7ba45,#f6ba45,#f6ba46,#f6ba46,#f6ba46,#f6ba46,#f6ba46,#f6ba46,#f5ba47,#f3ba48,#f2b949,#f1b949,#f0b94a,#eeb94b,#ecb94d,#e9b94e,#e7b94f,#e5b950,#e1b952,#deba54,#daba55,#d7ba57,#d3bb58,#cebb5a,#c9bc5c,#c3bc5f,#bebc61,#b9bd63,#afbe67,#a5be6b,#9abf6f,#8fbf74,#83bf79,#74bf7f,#65be86,#55bd8d,#3eb99c,#2eb6a8,#26b4af,#22b3b4,#20b2b7,#1fb2b9,#1cafbd,#19acc2,#16a9c7,#16a6c9,#16a2cc,#179fce,#1999cf,#1b94d0,#1e8ecf,#2188cf,#2482ce,#257fcd,#277bcc,#2878cb,#2a74ca,#2c70c9,#2d6dc8,#2e6ac7,#2f68c6,#3165c5,#3262c4)"></div><div style="height:1px;background:linear-gradient(90deg,#f9bb43,#f9bb43,#f9bb43,#f9bb43,#f9bb43,#f9bb43,#f9bb43,#f9bb43,#f9bb43,#f9bb43,#f9bb43,#f9bb43,#f9bb43,#f9bb43,#f9bb43,#f9bb43,#f9bb43,#f9bb43,#f9bb43,#f9bb43,#f9bb44,#f8ba44,#f7ba45,#f6ba46,#f5ba47,#f4ba47,#f2b949,#f0b94a,#eeb94b,#ecb94d,#eab94e,#e7b94f,#e3b951,#e0ba52,#ddba54,#daba55,#d5ba57,#d1bb59,#ccbb5b,#c7bc5d,#c2bc5f,#b9bd63,#afbe67,#a5be6b,#9abf6f,#8fbf74,#80bf7a,#71bf80,#60be88,#4dbc93,#37b8a2,#2cb6aa,#25b4b0,#21b3b5,#20b2b7,#1eb1ba,#1baebf,#18abc4,#16a8c8,#16a5ca,#16a1cd,#189ccf,#1a97cf,#1d91d0,#208bcf,#2384ce,#2481cd,#267dcc,#277acb,#2976cb,#2b73ca,#2c70c9,#2d6dc8,#2e6ac7,#3067c6,#3165c5)"></div><div style="height:1px;background:linear-gradient(90deg,#fabc42,#fabc42,#fabc42,#fabc42,#fabc42,#fabc42,#fabc42,#fabc42,#fabc42,#fabc42,#fabc42,#fabc42,#fabc42,#fabc42,#fabc42,#fabc42,#fabc42,#fabc41,#fabc41,#fabc41,#fabc41,#fabb42,#f9bb43,#f9bb44,#f8ba44,#f7ba45,#f5ba46,#f3ba48,#f2b949,#f0b94a,#eeb94b,#ebb94d,#e8b94e,#e5b950,#e2b951,#e0ba53,#dcba54,#d8ba56,#d4bb58,#d0bb5a,#cbbb5b,#c2bc5f,#b8bd63,#aebe67,#a4be6b,#99bf6f,#8bbf75,#7cbf7c,#6cbf83,#5bbd8a,#45ba98,#36b8a3,#2bb5ab,#24b4b1,#20b2b5,#20b2b8,#1db0bc,#1aadc1,#16aac6,#16a7c9,#16a3cb,#179fce,#1999cf,#1c94d0,#1f8dcf,#2287ce,#2383ce,#2580cd,#267ccc,#2879cb,#2a75ca,#2b72c9,#2c70c9,#2d6dc8,#2f6ac7,#3067c6)"></div><div style="height:1px;background:linear-gradient(90deg,#fbbc40,#fbbc40,#fbbc40,#fbbc40,#fbbc40,#fbbc40,#fbbc40,#fbbc40,#fbbc40,#fbbc40,#fbbc40,#fbbc40,#fbbc40,#fbbc40,#fbbc40,#fbbc40,#fbbc40,#fbbc40,#fbbc40,#fbbd40,#fbbd40,#fbbc41,#fabc41,#fabc42,#f9bb43,#f9bb43,#f7ba45,#f6ba46,#f4ba47,#f3ba48,#f1b949,#efb94b,#ecb94c,#eab94e,#e7b94f,#e5b950,#e1b952,#deba53,#dbba55,#d7ba56,#d4bb58,#cabb5c,#c1bc60,#b7bd64,#adbe68,#a2be6c,#95bf71,#87bf77,#77bf7e,#67be85,#57bd8d,#44ba99,#35b7a3,#2ab5ac,#23b3b2,#20b2b6,#20b2b8,#1cafbe,#18acc3,#16a9c7,#16a5ca,#16a1cd,#189bcf,#1b96d0,#1d90d0,#2089cf,#2286ce,#2482ce,#257fcd,#277bcc,#2977cb,#2a75ca,#2b72c9,#2c6fc8,#2d6cc7,#2f69c6)"></div><div style="height:1px;background:linear-gradient(90deg,#fcbd3f,#fcbd3f,#fcbd3f,#fcbd3f,#fcbd3f,#fcbd3f,#fcbd3f,#fcbd3f,#fcbd3f,#fcbd3f,#fcbd3f,#fcbd3f,#fcbd3f,#fcbd3f,#fcbd3f,#fcbd3f,#fcbd3f,#fcbd3f,#fcbd3f,#fcbd3f,#fcbd3f,#fcbd3f,#fbbd40,#fbbc40,#fbbc41,#fabc42,#f9bb43,#f8bb44,#f7ba45,#f6ba46,#f5ba47,#f3b948,#f0b94a,#eeb94b,#ecb94c,#eab94e,#e7b94f,#e4b950,#e1b952,#dfba53,#dcba54,#d2bb58,#c9bc5c,#bfbc60,#b5bd64,#abbe68,#9ebe6e,#91bf73,#82bf79,#73bf7f,#63be87,#55bd8d,#42ba9a,#33b7a5,#28b5ad,#22b3b3,#20b2b7,#1eb1ba,#1baec0,#17abc5,#16a7c8,#16a3cc,#179ece,#1a98cf,#1c93d0,#1f8ccf,#2189cf,#2385ce,#2481cd,#267dcc,#287acb,#2977cb,#2a74ca,#2b72c9,#2c6fc8,#2e6cc7)"></div><div style="height:1px;background:linear-gradient(90deg,#fdbe3e,#fdbe3e,#fdbe3e,#fdbe3e,#fdbe3e,#fdbe3e,#fdbe3e,#fdbe3e,#fdbe3e,#fdbe3e,#fdbe3e,#fdbe3e,#fdbe3e,#fdbe3e,#fdbe3e,#fdbe3e,#fdbe3e,#fdbe3e,#fdbe3e,#fdbe3e,#fdbe3e,#fdbe3e,#fdbd3e,#fcbd3f,#fcbd3f,#fcbd40,#fbbc41,#fabc42,#f9bb42,#f9bb43,#f8ba44,#f6ba46,#f4ba47,#f2b948,#f1b94a,#efb94b,#edb94c,#eab94d,#e8b94f,#e6b950,#e4b951,#daba55,#d1bb59,#c7bc5d,#bdbc61,#b3bd65,#a7be6a,#9abf6f,#8dbf75,#7fbf7a,#6fbf81,#61be87,#52bd8f,#3eb99d,#2fb6a7,#26b4af,#21b3b5,#20b2b8,#1dafbd,#19acc2,#16a9c7,#16a4ca,#16a0ce,#199bcf,#1b95d0,#1e8fcf,#208bcf,#2187ce,#2384ce,#2580cd,#277ccc,#2879cb,#2977cb,#2a74ca,#2b71c9,#2c6ec8)"></div><div style="height:1px;background:linear-gradient(90deg,#fdbe3d,#fdbe3d,#fdbe3d,#fdbe3d,#fdbe3d,#fdbe3d,#fdbe3d,#fdbe3d,#fdbe3d,#fdbe3d,#fdbe3d,#fdbe3d,#fdbe3d,#fdbe3d,#fdbe3d,#fdbe3d,#fdbe3d,#fdbe3d,#febf3d,#febf3d,#febf3c,#febf3d,#fdbe3d,#fdbe3d,#fdbe3d,#fdbe3e,#fdbd3e,#fcbd3f,#fbbd40,#fbbc41,#fabc41,#f9bb43,#f8ba44,#f7ba45,#f5ba47,#f4ba48,#f2b949,#f1b94a,#efb94b,#edb94c,#ecb94d,#e2b951,#d9ba56,#cfbb5a,#c5bc5e,#bbbd62,#b0bd67,#a4be6b,#97bf70,#8abf76,#7bbf7c,#6dbf82,#5ebe89,#4dbc93,#39b8a0,#2cb6aa,#23b3b2,#20b2b7,#1fb1ba,#1baebf,#17abc5,#16a6c9,#16a2cc,#179dce,#1a97cf,#1d91d0,#1f8ecf,#208acf,#2286ce,#2482ce,#267ecd,#277ccc,#2879cb,#2976cb,#2a74ca,#2b71c9)"></div><div style="height:1px;background:linear-gradient(90deg,#febf3c,#febf3c,#febf3c,#febf3c,#febf3c,#febf3c,#febf3c,#febf3c,#febf3c,#febf3c,#febf3c,#febf3c,#febf3c,#febf3c,#febf3c,#febf3c,#febf3c,#febf3c,#febf3c,#fec03b,#fec03b,#fec03b,#fec03c,#febf3c,#febf3c,#febf3c,#febf3c,#fdbe3d,#fdbe3d,#fdbe3e,#fdbd3e,#fcbd40,#fbbc41,#fabc42,#f9bb43,#f8ba44,#f7ba45,#f6ba46,#f5ba46,#f4ba47,#f3ba48,#eab94d,#e1ba52,#d7ba56,#cdbb5b,#c3bc5f,#b8bd63,#adbe68,#a1be6d,#94bf72,#87bf77,#78bf7d,#6abe84,#5abd8b,#46bb97,#34b7a4,#28b5ae,#21b3b4,#20b2b8,#1dafbd,#19acc2,#16a8c7,#16a4cb,#169fce,#199acf,#1c94d0,#1d90d0,#1f8ccf,#2188cf,#2384ce,#2580cd,#267ecc,#277bcc,#2879cb,#2976cb,#2a73ca)"></div><div style="height:1px;background:linear-gradient(90deg,#fec03b,#fec03b,#fec03b,#fec03b,#fec03b,#fec03b,#fec03b,#fec03b,#fec03b,#fec03b,#fec03b,#fec03b,#fec03b,#fec03b,#fec03b,#fec03b,#fec03b,#fec03b,#fec03b,#fec13a,#fec13a,#fec13a,#fec13a,#fec13a,#fec13a,#fec13a,#fec03b,#fec03b,#fec03b,#fec03b,#febf3c,#febf3c,#fdbe3d,#fdbe3e,#fcbd3f,#fbbd40,#fbbc40,#fbbc41,#fbbc41,#fabc41,#fabc42,#f2b949,#e9b94e,#dfba53,#d5ba57,#cbbb5b,#c0bc60,#b5bd64,#aabe69,#9ebe6e,#91bf73,#83bf78,#75bf7f,#65be86,#55bd8d,#3fb99c,#2eb6a9,#24b4b1,#20b2b6,#1fb1ba,#1aaec0,#16aac6,#16a6c9,#16a1cd,#189ccf,#1b96d0,#1c93d0,#1e8fcf,#208bcf,#2287ce,#2483ce,#2580cd,#267dcc,#277bcc,#2878cb,#2976ca)"></div><div style="height:1px;background:linear-gradient(90deg,#fec03a,#fec03a,#fec03a,#fec03a,#fec03a,#fec03a,#fec03a,#fec03a,#fec03a,#fec03a,#fec03a,#fec03a,#fec03a,#fec03a,#fec03a,#fec03a,#fec13a,#fec13a,#fec13a,#fec139,#fec239,#fec239,#fec239,#fec239,#fec239,#fec238,#fec239,#fec239,#fec239,#fec239,#fec239,#fec13a,#fec13a,#fec03b,#fec03b,#febf3c,#febf3c,#febf3c,#fec03c,#fec03b,#fec03b,#f9bb43,#f0b94a,#e7b94f,#ddba54,#d3bb58,#c9bc5d,#bebc61,#b3bd65,#a7be6a,#9cbf6f,#8ebf74,#7fbf7a,#70bf81,#5fbe88,#4cbc94,#36b8a2,#28b5ad,#21b3b4,#20b2b8,#1cafbd,#18acc3,#16a7c8,#16a3cc,#179ece,#1998cf,#1b95d0,#1d91d0,#1f8dcf,#2189cf,#2385ce,#2482ce,#2580cd,#267dcc,#277bcc,#2878cb)"></div><div style="height:1px;background:linear-gradient(90deg,#fec139,#fec139,#fec139,#fec139,#fec139,#fec139,#fec139,#fec139,#fec139,#fec139,#fec139,#fec139,#fec139,#fec139,#fec139,#fec139,#fec239,#fec239,#fec238,#ffc238,#ffc338,#ffc338,#ffc337,#ffc337,#ffc337,#ffc437,#ffc437,#ffc437,#ffc437,#ffc437,#ffc436,#ffc437,#ffc337,#ffc337,#ffc338,#ffc238,#ffc337,#ffc337,#ffc436,#ffc436,#fec536,#febf3d,#f7ba45,#eeb94b,#e4b950,#daba55,#d0bb59,#c6bc5e,#bcbd62,#b1bd66,#a5be6b,#98bf70,#89bf76,#7abf7c,#69be84,#58bd8c,#41ba9b,#2fb6a8,#24b4b1,#20b2b7,#1eb1bb,#1aadc1,#16a9c7,#16a5ca,#16a0ce,#189bcf,#1a97cf,#1c93d0,#1e8fd0,#208bcf,#2287ce,#2384ce,#2482cd,#257fcd,#267dcc,#277acc)"></div><div style="height:1px;background:linear-gradient(90deg,#fec238,#fec238,#fec238,#fec238,#fec238,#fec238,#fec238,#fec238,#fec238,#fec238,#fec238,#fec238,#fec238,#fec238,#fec238,#fec238,#ffc238,#ffc338,#ffc337,#ffc337,#ffc437,#ffc436,#ffc436,#ffc436,#fec536,#fec535,#fec535,#fec635,#fec635,#fec634,#fec634,#fec634,#fec634,#fec635,#fec635,#fec635,#fec734,#fec833,#fec832,#fec931,#fdca31,#ffc437,#fdbe3e,#f5ba46,#ecb94c,#e2b952,#d8ba56,#cebb5a,#c4bc5e,#babd63,#afbe67,#a1be6c,#93bf72,#84bf78,#73bf7f,#62be87,#4ebc92,#37b8a2,#28b5ae,#21b3b5,#20b2b8,#1caebe,#17abc4,#16a7c9,#16a2cc,#179dce,#1999cf,#1b96d0,#1d92d0,#1f8dcf,#2189cf,#2287ce,#2384ce,#2482cd,#257fcd,#267ccc)"></div><div style="height:1px;background:linear-gradient(90deg,#ffc338,#ffc338,#ffc338,#ffc338,#ffc338,#ffc338,#ffc338,#ffc337,#ffc337,#ffc337,#ffc337,#ffc337,#ffc337,#ffc337,#ffc337,#ffc337,#ffc337,#ffc437,#ffc436,#ffc436,#fec536,#fec535,#fec535,#fec635,#fec634,#fec634,#fec734,#fec733,#fec733,#fec833,#fec832,#fec832,#fec832,#fec832,#fec832,#fec832,#fec932,#fdca31,#fdcb30,#fccc2f,#fccd2e,#fec733,#fec13a,#fabc42,#f2b949,#e9b94e,#dfba53,#d6ba57,#ccbb5b,#c2bc5f,#b8bd63,#abbe69,#9dbf6e,#8ebf74,#7dbf7b,#6cbf82,#5abd8b,#41ba9b,#2eb6a9,#23b3b2,#20b2b7,#1db0bc,#19acc2,#16a9c7,#16a4cb,#16a0ce,#189ccf,#1a98cf,#1c94d0,#1e90d0,#208bcf,#2189cf,#2286ce,#2384ce,#2481cd,#257fcd)"></div><div style="height:1px;background:linear-gradient(90deg,#ffc437,#ffc437,#ffc437,#ffc437,#ffc437,#ffc437,#ffc437,#ffc437,#ffc437,#ffc436,#ffc436,#ffc436,#ffc436,#ffc436,#ffc436,#ffc436,#ffc536,#fec536,#fec535,#fec635,#fec635,#fec634,#fec734,#fec734,#fec733,#fec833,#fec833,#fec832,#fec932,#fec932,#fdc931,#fdc931,#fdc931,#fdc931,#fdc931,#fdc931,#fdca30,#fdcb30,#fccc2f,#fccd2e,#fcce2d,#fec932,#ffc337,#fdbe3e,#f7ba45,#efb94b,#e6b950,#ddba54,#d3bb58,#cabb5c,#c1bc60,#b3bd65,#a6be6b,#97bf70,#88bf77,#77bf7e,#64be86,#4fbc91,#36b8a3,#27b4af,#20b2b6,#1fb2b9,#1baebf,#17abc5,#16a6c9,#16a2cd,#179ece,#199acf,#1a97cf,#1c93d0,#1e8ecf,#208bcf,#2189cf,#2286ce,#2384ce,#2481cd)"></div><div style="height:1px;background:linear-gradient(90deg,#ffc536,#ffc536,#ffc536,#ffc536,#ffc536,#ffc536,#ffc536,#fec536,#fec536,#fec536,#fec535,#fec535,#fec535,#fec535,#fec535,#fec535,#fec635,#fec634,#fec634,#fec734,#fec734,#fec733,#fec833,#fec833,#fec832,#fec932,#fec932,#fdca31,#fdca31,#fdca31,#fdcb30,#fdcb30,#fdcb30,#fdcb30,#fdcb30,#fdcb30,#fdcc2f,#fccd2f,#fcce2e,#fccf2d,#fbd02c,#fdca30,#fec535,#fec03b,#fbbc41,#f4ba47,#ecb94c,#e3b951,#dbba55,#d2bb59,#c9bc5c,#bcbd62,#afbe67,#a0be6d,#91bf73,#81bf79,#6ebf81,#5abd8b,#40ba9b,#2cb6aa,#22b3b4,#20b2b7,#1db0bc,#19acc2,#16a8c7,#16a4cb,#16a1cd,#179dce,#1999cf,#1b95d0,#1d91d0,#1e8ecf,#208bcf,#2189cf,#2286ce,#2383ce)"></div><div style="height:1px;background:linear-gradient(90deg,#fec535,#fec535,#fec535,#fec535,#fec535,#fec535,#fec535,#fec635,#fec635,#fec635,#fec635,#fec634,#fec634,#fec634,#fec634,#fec734,#fec734,#fec733,#fec833,#fec833,#fec832,#fec932,#fec932,#fec932,#fdca31,#fdca31,#fdca31,#fdcb30,#fdcb30,#fdcc2f,#fdcc2f,#fdcc2f,#fdcc2f,#fdcc2f,#fdcc2f,#fdcc2f,#fccd2e,#fcce2e,#fbcf2d,#fbd02c,#fbd12b,#fdcc2f,#fec833,#ffc337,#febe3d,#f9bb43,#f2b949,#eab94d,#e2b952,#daba55,#d1bb59,#c4bc5e,#b7bd64,#a9be69,#9bbf6f,#8bbf75,#78bf7d,#64be86,#4cbc93,#33b7a5,#25b4b1,#20b2b6,#1fb1b9,#1baebf,#16aac5,#16a6c9,#16a3cc,#16a0ce,#189ccf,#1a97cf,#1c93d0,#1d91d0,#1e8ecf,#208bcf,#2188cf,#2285ce)"></div><div style="height:1px;background:linear-gradient(90deg,#fec634,#fec634,#fec634,#fec634,#fec634,#fec634,#fec634,#fec634,#fec734,#fec734,#fec734,#fec733,#fec733,#fec733,#fec833,#fec833,#fec833,#fec832,#fec932,#fec932,#fec931,#fdca31,#fdca31,#fdca31,#fdcb30,#fdcb30,#fdcb30,#fdcc2f,#fccc2f,#fccd2e,#fccd2e,#fccd2e,#fccd2e,#fccd2e,#fccd2e,#fccd2e,#fcce2d,#fbcf2d,#fbd02c,#fbd12b,#fad22b,#fcce2e,#fdca31,#fec635,#fec239,#fdbe3e,#f8ba44,#f1b94a,#e9b94e,#e1b952,#daba55,#cdbb5b,#c0bc60,#b2bd66,#a4be6b,#95bf71,#82bf79,#6dbf82,#58bd8c,#3bb99f,#28b5ad,#21b3b4,#20b2b8,#1dafbd,#18acc3,#16a8c7,#16a5ca,#16a2cd,#179ece,#199acf,#1b96d0,#1c93d0,#1d90d0,#1f8dcf,#208acf,#2187ce)"></div><div style="height:1px;background:linear-gradient(90deg,#fec734,#fec734,#fec734,#fec734,#fec734,#fec734,#fec733,#fec733,#fec833,#fec833,#fec833,#fec832,#fec832,#fec832,#fec932,#fec932,#fec932,#fdca31,#fdca31,#fdca31,#fdcb30,#fdcb30,#fdcb30,#fdcb30,#fdcc2f,#fdcc2f,#fccd2f,#fccd2e,#fcce2e,#fcce2d,#fbcf2d,#fbcf2d,#fbcf2d,#fbcf2d,#fbcf2d,#fbcf2d,#fbd02c,#fbd02c,#fad12b,#fad22a,#fad32a,#fbcf2c,#fdcc2f,#fec932,#fec535,#fec239,#fcbd3f,#f7ba45,#f0b94a,#e9b94e,#e2b952,#d5ba57,#c8bc5d,#babd62,#acbe68,#9ebe6e,#8bbf75,#77bf7e,#61be88,#45ba98,#2db6a9,#24b4b1,#20b2b6,#1fb1ba,#1baec0,#16aac5,#16a7c8,#16a4cb,#16a0ce,#189ccf,#1a98cf,#1b95d0,#1c93d0,#1e90d0,#1f8dcf,#208acf)"></div><div style="height:1px;background:linear-gradient(90deg,#fec833,#fec833,#fec833,#fec833,#fec833,#fec833,#fec833,#fec832,#fec932,#fec932,#fec932,#fec932,#fec931,#fdca31,#fdca31,#fdca31,#fdca31,#fdcb30,#fdcb30,#fdcb30,#fdcc2f,#fdcc2f,#fccc2f,#fccd2f,#fccd2e,#fccd2e,#fcce2e,#fcce2d,#fbcf2d,#fbcf2c,#fbd02c,#fbd02c,#fbd02c,#fbd02c,#fbd02c,#fbd02c,#fbd12b,#fad22b,#fad22a,#f9d329,#f9d429,#fad12b,#fcce2d,#fdcb30,#fec832,#fec635,#fec13a,#fcbd3f,#f7ba45,#f1b94a,#eab94e,#ddba54,#d0bb5a,#c3bc5f,#b5bd65,#a6be6a,#94bf72,#80bf7a,#69be84,#51bc90,#34b7a4,#27b5ae,#21b3b4,#20b2b8,#1dafbd,#19acc2,#16a9c7,#16a6c9,#16a2cc,#179fce,#199acf,#1a98cf,#1b95d0,#1c92d0,#1e8fcf,#1f8ccf)"></div><div style="height:1px;background:linear-gradient(90deg,#fec932,#fec932,#fec932,#fec932,#fec932,#fec932,#fec932,#fec932,#fdc931,#fdca31,#fdca31,#fdca31,#fdca30,#fdcb30,#fdcb30,#fdcb30,#fdcb30,#fdcc2f,#fdcc2f,#fccc2f,#fccd2e,#fccd2e,#fccd2e,#fcce2e,#fcce2d,#fcce2d,#fbcf2d,#fbd02c,#fbd02c,#fbd12b,#fad12b,#fad12b,#fad12b,#fad12b,#fad12b,#fad12b,#fad22a,#fad32a,#f9d429,#f9d429,#f9d528,#fad32a,#fbd02c,#fcce2d,#fdcc2f,#fdca31,#fec535,#fec13a,#fcbd3f,#f8ba45,#f1b949,#e5b950,#d8ba56,#cbbb5c,#bdbd61,#afbe67,#9cbf6e,#88bf76,#72bf80,#5abd8b,#3bb99f,#2cb6aa,#24b3b2,#20b2b6,#1fb1ba,#1baebf,#17abc4,#16a8c8,#16a4cb,#16a1cd,#179dce,#199acf,#1a97cf,#1b94d0,#1d91d0,#1e8ecf)"></div><div style="height:1px;background:linear-gradient(90deg,#fdca31,#fdca31,#fdca31,#fdca31,#fdca31,#fdca31,#fdca31,#fdca31,#fdca31,#fdcb30,#fdcb30,#fdcb30,#fdcb30,#fdcc2f,#fdcc2f,#fccc2f,#fccd2f,#fccd2e,#fccd2e,#fcce2e,#fcce2e,#fcce2d,#fccf2d,#fbcf2d,#fbcf2c,#fbd02c,#fbd02c,#fbd12b,#fad12b,#fad22a,#fad32a,#fad32a,#fad32a,#fad32a,#fad32a,#fad32a,#f9d329,#f9d429,#f9d528,#f8d628,#f8d627,#f9d528,#fad32a,#fad12b,#fbcf2d,#fccd2e,#fec931,#fec535,#fec13a,#fdbe3e,#f9bb44,#edb94c,#e0ba53,#d2bb58,#c5bc5e,#b7bd64,#a4be6b,#90bf73,#7abf7c,#62be87,#44ba98,#33b7a5,#27b4ae,#21b3b5,#20b2b8,#1dafbc,#19adc1,#16aac6,#16a6c9,#16a3cc,#169fce,#189ccf,#1999cf,#1b96d0,#1c93d0,#1d90d0)"></div><div style="height:1px;background:linear-gradient(90deg,#fdca31,#fdca31,#fdca31,#fdca31,#fdca31,#fdca31,#fdcb30,#fdcb30,#fdcb30,#fdcc2f,#fdcc2f,#fccc2f,#fccd2f,#fccd2e,#fccd2e,#fccd2e,#fcce2e,#fcce2d,#fcce2d,#fbcf2d,#fbcf2d,#fbcf2c,#fbd02c,#fbd02c,#fbd02c,#fbd12b,#fad12b,#fad22a,#fad32a,#f9d329,#f9d429,#f9d429,#f9d429,#f9d429,#f9d429,#f9d429,#f9d528,#f9d528,#f8d627,#f8d727,#f8d726,#f8d627,#f9d528,#f9d429,#fad32a,#fad12b,#fcce2e,#fdca31,#fec635,#fec239,#fdbe3d,#f4ba47,#e7b94f,#daba55,#cdbb5b,#bfbc60,#acbe68,#98bf70,#82bf79,#6abe83,#4fbc91,#3ab99f,#2cb6aa,#23b3b2,#20b2b6,#1fb1b9,#1baebe,#18abc3,#16a8c7,#16a5ca,#16a1cd,#179ece,#189bcf,#1a98cf,#1b95d0,#1c92d0)"></div><div style="height:1px;background:linear-gradient(90deg,#fdcb30,#fdcb30,#fdcb30,#fdcb30,#fdcb30,#fdcb30,#fdcc30,#fdcc2f,#fccc2f,#fccc2f,#fccd2e,#fccd2e,#fcce2e,#fcce2e,#fcce2d,#fccf2d,#fbcf2d,#fbcf2d,#fbcf2c,#fbd02c,#fbd02c,#fbd02c,#fbd12b,#fad12b,#fad12b,#fad22a,#fad32a,#fad329,#f9d429,#f9d528,#f9d528,#f9d528,#f9d528,#f9d528,#f9d528,#f9d528,#f8d627,#f8d727,#f8d726,#f7d826,#f7d925,#f8d826,#f8d727,#f8d627,#f9d528,#f9d429,#fbd02c,#fccd2f,#fec932,#fec535,#fec239,#f9bb43,#edb94c,#e0ba53,#d3bb58,#c5bc5e,#b2bd65,#9fbe6d,#89bf76,#72bf80,#58bd8c,#43ba99,#32b7a6,#27b4af,#21b3b5,#20b2b8,#1db0bc,#1aadc1,#16aac6,#16a6c9,#16a3cc,#16a0ce,#179dce,#199acf,#1a97cf,#1c94d0)"></div><div style="height:1px;background:linear-gradient(90deg,#fccc2f,#fccc2f,#fccc2f,#fccc2f,#fccc2f,#fccc2f,#fccd2f,#fccd2e,#fccd2e,#fccd2e,#fcce2e,#fcce2d,#fcce2d,#fbcf2d,#fbcf2d,#fbd02c,#fbd02c,#fbd02c,#fbd02c,#fbd12b,#fad12b,#fad12b,#fad22b,#fad22a,#fad22a,#fad32a,#f9d429,#f9d429,#f9d528,#f8d628,#f8d627,#f8d627,#f8d627,#f8d727,#f8d727,#f8d727,#f8d726,#f7d826,#f7d825,#f7d925,#f7da25,#f7d925,#f7d826,#f8d727,#f8d627,#f9d528,#fad22b,#fcce2d,#fdcb30,#fec733,#ffc437,#fbbc41,#f0b94a,#e3b951,#d6ba57,#c9bc5c,#b7bd64,#a4be6b,#8fbf73,#79bf7d,#60be88,#4ebc92,#39b8a0,#2bb5ab,#23b3b3,#20b2b7,#1fb1ba,#1baebf,#17abc4,#16a8c8,#16a4cb,#16a2cd,#179fce,#189ccf,#1a98cf,#1b95d0)"></div><div style="height:1px;background:linear-gradient(90deg,#fccd2e,#fccd2e,#fccd2e,#fccd2e,#fccd2e,#fccd2e,#fccd2e,#fcce2e,#fcce2e,#fcce2d,#fcce2d,#fbcf2d,#fbcf2c,#fbd02c,#fbd02c,#fbd12c,#fbd12b,#fad12b,#fad12b,#fad22b,#fad22b,#fad22a,#fad32a,#fad32a,#f9d329,#f9d429,#f9d528,#f9d528,#f8d627,#f8d727,#f8d726,#f8d726,#f8d826,#f8d826,#f7d826,#f7d826,#f7d925,#f7d925,#f7da25,#f7da24,#f6db24,#f7da24,#f7d925,#f7d826,#f8d727,#f8d627,#fad32a,#fbd02c,#fccc2f,#fec932,#fec635,#fdbe3e,#f3ba48,#e7b94f,#daba55,#cdbb5b,#bbbd62,#a9be69,#95bf71,#80bf7a,#68be84,#58bd8c,#41ba9b,#2fb6a7,#25b4b1,#20b2b6,#20b2b8,#1cafbd,#19acc2,#16a9c7,#16a6ca,#16a3cc,#16a0ce,#179dce,#199acf,#1a96cf)"></div><div style="height:1px;background:linear-gradient(90deg,#fcce2d,#fcce2d,#fcce2d,#fcce2d,#fcce2d,#fcce2d,#fcce2d,#fccf2d,#fbcf2d,#fbcf2d,#fbcf2c,#fbd02c,#fbd02c,#fbd12b,#fad12b,#fad22b,#fad22b,#fad22a,#fad22a,#fad22a,#fad32a,#fad32a,#f9d329,#f9d429,#f9d429,#f9d528,#f8d628,#f8d627,#f8d727,#f8d826,#f7d826,#f7d825,#f7d925,#f7d925,#f7d925,#f7d925,#f7da24,#f7da24,#f6db24,#f6db23,#f6dc23,#f6db24,#f7da24,#f7d925,#f7d826,#f8d726,#f9d429,#fad12b,#fcce2e,#fdcb30,#fec733,#febf3c,#f6ba46,#eab94e,#ddba54,#d1bb59,#c0bc60,#aebe67,#9bbf6f,#86bf77,#70bf81,#5fbe89,#4abb94,#35b8a3,#28b5ae,#21b3b5,#20b2b7,#1eb0bb,#1aadc0,#17aac5,#16a7c8,#16a4cb,#16a2cd,#179fce,#189bcf,#1a98cf)"></div><div style="height:1px;background:linear-gradient(90deg,#fbcf2d,#fbcf2d,#fbcf2d,#fbcf2d,#fbcf2d,#fbcf2d,#fbcf2c,#fbd02c,#fbd02c,#fbd02c,#fbd02c,#fbd12b,#fad12b,#fad22b,#fad22a,#fad32a,#fad32a,#fad32a,#fad32a,#f9d329,#f9d329,#f9d429,#f9d429,#f9d528,#f9d528,#f8d627,#f8d727,#f8d726,#f7d826,#f7d925,#f7d925,#f7da25,#f7da24,#f7da24,#f7db24,#f6db24,#f6db23,#f6dc23,#f6dc23,#f6dd22,#f6dd22,#f6dc23,#f6db23,#f7da24,#f7d925,#f7d925,#f9d528,#fad22a,#fbcf2c,#fccc2f,#fec931,#fec139,#f9bb43,#edb94c,#e1b952,#d4bb58,#c4bc5e,#b3bd65,#a1be6d,#8dbf75,#77bf7e,#66be85,#55bd8e,#3cb99e,#2cb6aa,#23b3b3,#20b2b7,#1fb1b9,#1caebe,#18acc3,#16a8c7,#16a6ca,#16a3cc,#16a0ce,#189ccf,#1999cf)"></div><div style="height:1px;background:linear-gradient(90deg,#fbd02c,#fbd02c,#fbd02c,#fbd02c,#fbd02c,#fbd02c,#fbd02c,#fbd02c,#fbd12b,#fbd12b,#fad12b,#fad12b,#fad22a,#fad22a,#fad32a,#f9d429,#f9d429,#f9d429,#f9d429,#f9d429,#f9d429,#f9d528,#f9d528,#f8d627,#f8d627,#f8d727,#f8d826,#f7d826,#f7d925,#f7da25,#f7da24,#f6db24,#f6db23,#f6dc23,#f6dc23,#f6dc23,#f6dd22,#f6dd22,#f6dd22,#f6de22,#f5de21,#f6dd22,#f6dc23,#f6db23,#f7db24,#f7da25,#f8d727,#f9d429,#fbd12b,#fcce2d,#fdcb30,#ffc337,#fbbc41,#f1b94a,#e5b950,#d8ba56,#c8bc5d,#b8bd63,#a6be6a,#93bf72,#7fbf7a,#6ebf82,#5cbe8a,#44ba98,#30b7a7,#25b4b1,#20b2b5,#20b2b8,#1db0bc,#19adc1,#16aac6,#16a7c9,#16a4cb,#16a1cd,#179ece,#199acf)"></div><div style="height:1px;background:linear-gradient(90deg,#fad12b,#fad12b,#fad12b,#fad12b,#fad12b,#fad12b,#fad12b,#fad12b,#fad22b,#fad22b,#fad22b,#fad22a,#fad32a,#f9d329,#f9d429,#f9d528,#f9d528,#f9d528,#f9d528,#f9d528,#f9d528,#f8d628,#f8d627,#f8d727,#f8d726,#f7d826,#f7d925,#f7d925,#f7da24,#f6db24,#f6db23,#f6dc23,#f6dc23,#f6dd22,#f6dd22,#f6de22,#f5de21,#f5de21,#f5df21,#f5df21,#f5df21,#f5de21,#f6dd22,#f6dd22,#f6dc23,#f6db24,#f7d826,#f9d528,#fad22a,#fbd02c,#fccd2e,#fec535,#fdbe3e,#f4ba47,#e8b94f,#dcba54,#ccbb5b,#bcbd62,#abbe68,#99bf70,#86bf77,#75bf7f,#62be87,#4dbc92,#36b8a3,#27b4ae,#22b3b4,#20b2b7,#1eb1ba,#1baebf,#17abc4,#16a8c7,#16a5ca,#16a2cc,#169fce,#189bcf)"></div><div style="height:1px;background:linear-gradient(90deg,#fad22a,#fad22a,#fad22a,#fad22a,#fad22a,#fad22a,#fad22a,#fad22a,#fad22a,#fad32a,#fad32a,#f9d329,#f9d429,#f9d429,#f9d528,#f8d628,#f8d628,#f8d628,#f8d627,#f8d627,#f8d627,#f8d727,#f8d726,#f8d826,#f7d826,#f7d925,#f7da25,#f7da24,#f6db24,#f6dc23,#f6dd22,#f6dd22,#f6de22,#f5de21,#f5df21,#f5df20,#f5e020,#f5e020,#f5e020,#f5e020,#f5e020,#f5df20,#f5df21,#f6de22,#f6dd22,#f6dc23,#f7d925,#f8d727,#f9d429,#fad22b,#fbcf2d,#fec733,#fec03c,#f7ba45,#ecb94d,#e0ba53,#d1bb59,#c1bc60,#b1bd66,#9fbe6d,#8dbf75,#7cbf7c,#69be84,#56bd8d,#3cb99e,#2bb5ab,#23b3b2,#20b2b6,#20b2b8,#1cafbd,#19acc2,#16aac6,#16a7c9,#16a4cb,#16a1ce,#179dce)"></div><div style="height:1px;background:linear-gradient(90deg,#f9d329,#f9d329,#f9d329,#f9d329,#f9d329,#f9d329,#f9d329,#f9d329,#f9d329,#f9d329,#f9d329,#f9d429,#f9d528,#f9d528,#f8d627,#f8d727,#f8d727,#f8d727,#f8d727,#f8d727,#f8d727,#f8d726,#f7d826,#f7d925,#f7d925,#f7da24,#f6db24,#f6db23,#f6dc23,#f6dd22,#f6de22,#f5de21,#f5df21,#f5e020,#f5e020,#f5e11f,#f5e11f,#f5e11f,#f5e11f,#f5e11f,#f5e21f,#f5e11f,#f5e020,#f5df21,#f5de21,#f6dd22,#f6db24,#f7d826,#f8d628,#f9d329,#fbd12b,#fec931,#fec239,#fabb42,#efb94b,#e4b951,#d5ba57,#c5bc5e,#b6bd64,#a5be6b,#93bf72,#82bf79,#70bf81,#5dbe8a,#44ba99,#2fb6a8,#26b4b0,#21b3b5,#20b2b8,#1eb0bb,#1aadc1,#17abc5,#16a8c8,#16a5ca,#16a2cd,#179ece)"></div><div style="height:1px;background:linear-gradient(90deg,#f9d429,#f9d429,#f9d429,#f9d429,#f9d429,#f9d429,#f9d429,#f9d429,#f9d429,#f9d429,#f9d429,#f9d528,#f8d628,#f8d627,#f8d727,#f8d826,#f8d826,#f8d826,#f8d826,#f8d826,#f8d826,#f7d826,#f7d925,#f7da25,#f7da24,#f6db24,#f6dc23,#f6dd22,#f6dd22,#f5de21,#f5df21,#f5e020,#f5e020,#f5e11f,#f5e21f,#f5e21e,#f5e31e,#f5e31e,#f5e31e,#f5e31e,#f5e31e,#f5e21f,#f5e11f,#f5e020,#f5df20,#f5df21,#f6dc23,#f7da25,#f8d726,#f9d528,#fad32a,#fdcb30,#ffc437,#fcbd40,#f3b948,#e7b94f,#d9ba56,#cabb5c,#bbbd62,#abbe69,#9abf6f,#89bf76,#77bf7e,#63be87,#4cbc93,#33b7a4,#29b5ad,#22b3b3,#20b2b7,#1fb1ba,#1baebf,#18acc3,#16a9c7,#16a6c9,#16a3cc,#169fce)"></div><div style="height:1px;background:linear-gradient(90deg,#f9d528,#f9d528,#f9d528,#f9d528,#f9d528,#f9d528,#f9d528,#f9d528,#f9d528,#f9d528,#f9d528,#f8d528,#f8d627,#f8d727,#f8d726,#f7d826,#f7d826,#f7d826,#f7d826,#f7d826,#f7d826,#f7d925,#f7da25,#f7da24,#f6db24,#f6dc23,#f6dd22,#f6dd22,#f5de21,#f5df21,#f5e020,#f5e11f,#f5e11f,#f5e21e,#f5e31e,#f5e41d,#f5e41d,#f5e41d,#f5e41d,#f5e41d,#f5e41d,#f5e31e,#f5e21e,#f5e21f,#f5e11f,#f5e020,#f6de22,#f6db23,#f7d925,#f8d727,#f9d528,#fccd2e,#fec634,#febf3c,#f6ba45,#ecb94d,#ddba54,#cfbb5a,#c0bc60,#b0bd66,#a0be6d,#8fbf74,#7cbf7b,#68be84,#54bd8e,#38b8a1,#2cb5ab,#24b4b1,#20b2b6,#20b2b8,#1cafbd,#19adc2,#16aac6,#16a7c9,#16a4cb,#16a0ce)"></div><div style="height:1px;background:linear-gradient(90deg,#f9d528,#f9d528,#f9d528,#f9d528,#f9d528,#f9d528,#f9d528,#f9d528,#f9d528,#f9d528,#f9d528,#f8d627,#f8d627,#f8d727,#f8d726,#f7d826,#f7d826,#f7d826,#f7d826,#f7d825,#f7d925,#f7d925,#f7da24,#f6db24,#f6db23,#f6dc23,#f6dd22,#f5de21,#f5df21,#f5e020,#f5e11f,#f5e21f,#f5e21e,#f5e31e,#f5e41d,#f5e51c,#f5e51c,#f5e51c,#f5e51c,#f5e51c,#f5e51c,#f5e41d,#f5e31d,#f5e31e,#f5e21e,#f5e11f,#f5df21,#f6dd22,#f6db24,#f7d925,#f8d727,#fbd02c,#fec932,#fec139,#fabc42,#f1b94a,#e3b951,#d4bb58,#c5bc5e,#b5bd64,#a5be6b,#94bf72,#81bf79,#6dbf82,#58bd8c,#3cb99e,#2eb6a9,#25b4b0,#21b3b5,#20b2b8,#1db0bc,#1aadc0,#17abc5,#16a8c8,#16a4ca,#16a1cd)"></div><div style="height:1px;background:linear-gradient(90deg,#f9d528,#f9d528,#f9d528,#f9d528,#f9d528,#f8d628,#f8d628,#f8d628,#f8d628,#f8d628,#f8d628,#f8d627,#f8d727,#f8d727,#f8d826,#f7d826,#f7d826,#f7d826,#f7d925,#f7d925,#f7d925,#f7da25,#f7da24,#f6db24,#f6dc23,#f6dd22,#f6de22,#f5df21,#f5e020,#f5e11f,#f5e21f,#f5e31e,#f5e31d,#f5e41d,#f5e51c,#f5e61c,#f5e61c,#f5e61c,#f5e61c,#f5e61c,#f5e61c,#f5e51c,#f5e51d,#f5e41d,#f5e31d,#f5e31e,#f5e11f,#f5df21,#f6dd22,#f7db24,#f7d925,#fad22b,#fdcb30,#ffc436,#fdbe3e,#f6ba46,#e8b94f,#d9ba56,#cabb5c,#babd62,#aabe69,#99bf70,#86bf77,#72bf80,#5cbe8a,#40ba9b,#31b7a6,#27b4ae,#21b3b4,#20b2b7,#1eb0bb,#1baebf,#18abc4,#16a8c7,#16a5ca,#16a2cc)"></div><div style="height:1px;background:linear-gradient(90deg,#f9d528,#f9d528,#f9d528,#f9d528,#f8d628,#f8d627,#f8d627,#f8d627,#f8d627,#f8d627,#f8d627,#f8d627,#f8d727,#f8d726,#f8d826,#f7d826,#f7d826,#f7d925,#f7d925,#f7d925,#f7d925,#f7da24,#f6db24,#f6db23,#f6dc23,#f6dd22,#f5de21,#f5df21,#f5e020,#f5e21f,#f5e31e,#f5e41d,#f5e41d,#f5e51c,#f5e61c,#f5e71b,#f5e71b,#f5e71b,#f5e71b,#f5e71b,#f5e71b,#f5e61b,#f5e61c,#f5e51c,#f5e51d,#f5e41d,#f5e21e,#f5e020,#f5de21,#f6dc23,#f7db24,#f9d429,#fcce2e,#fec733,#fec13a,#fabc42,#edb94c,#deba53,#cfbb5a,#bfbc60,#afbe67,#9ebe6e,#8bbf75,#77bf7e,#60be88,#45ba98,#34b7a4,#29b5ad,#22b3b3,#20b2b7,#1fb1ba,#1caebe,#18acc3,#16a9c7,#16a6c9,#16a3cc)"></div><div style="height:1px;background:linear-gradient(90deg,#f9d528,#f9d528,#f9d528,#f8d628,#f8d627,#f8d627,#f8d627,#f8d627,#f8d627,#f8d627,#f8d627,#f8d727,#f8d727,#f8d726,#f8d826,#f7d826,#f7d826,#f7d925,#f7d925,#f7d925,#f7da25,#f7da24,#f6db24,#f6dc23,#f6dd22,#f6dd22,#f5df21,#f5e020,#f5e11f,#f5e21e,#f5e41d,#f5e51d,#f5e51c,#f5e61b,#f5e71b,#f5e81a,#f5e81a,#f5e81a,#f5e81a,#f5e81a,#f5e81a,#f5e81b,#f5e71b,#f5e71b,#f5e61c,#f5e61c,#f5e41d,#f5e21e,#f5e020,#f5de21,#f6dd22,#f8d627,#fbd02c,#fdca31,#ffc437,#fdbe3e,#f2b949,#e3b951,#d4bb58,#c4bc5e,#b4bd65,#a3be6c,#90bf73,#7bbf7c,#65be86,#4abb95,#38b8a1,#2bb5ab,#24b3b2,#20b2b6,#20b2b9,#1cafbd,#19adc2,#16aac6,#16a7c9,#16a4cb)"></div><div style="height:1px;background:linear-gradient(90deg,#f9d528,#f9d528,#f9d528,#f8d627,#f8d627,#f8d727,#f8d727,#f8d727,#f8d727,#f8d727,#f8d727,#f8d727,#f8d726,#f8d726,#f7d826,#f7d826,#f7d825,#f7d925,#f7d925,#f7da25,#f7da24,#f6db24,#f6db23,#f6dc23,#f6dd22,#f6de22,#f5df21,#f5e020,#f5e21f,#f5e31e,#f5e51c,#f5e61c,#f5e71b,#f5e71b,#f5e81a,#f5e91a,#f5e91a,#f5e91a,#f5e91a,#f5e91a,#f5e91a,#f5e91a,#f5e81a,#f5e81a,#f5e81b,#f5e71b,#f5e51c,#f5e41d,#f5e21e,#f5e120,#f5df21,#f7d825,#fad32a,#fccd2f,#fec734,#fec13a,#f6ba46,#e8b94f,#d9ba56,#c9bb5c,#b9bd63,#a7be6a,#94bf71,#80bf7a,#69be84,#4fbc91,#3cb99f,#2eb6a9,#25b4b0,#20b2b5,#20b2b8,#1db0bc,#1aadc0,#17abc5,#16a8c8,#16a4ca)"></div><div style="height:1px;background:linear-gradient(90deg,#f9d528,#f9d528,#f8d628,#f8d627,#f8d627,#f8d727,#f8d727,#f8d727,#f8d727,#f8d727,#f8d727,#f8d726,#f8d726,#f8d826,#f7d826,#f7d826,#f7d925,#f7d925,#f7d925,#f7da24,#f7da24,#f6db24,#f6dc23,#f6dd22,#f6dd22,#f5de21,#f5e020,#f5e11f,#f5e31e,#f5e41d,#f5e61c,#f5e71b,#f5e81b,#f5e81a,#f5e919,#f5ea19,#f5ea19,#f5ea19,#f5ea19,#f5ea19,#f5ea19,#f5ea19,#f5ea19,#f5e919,#f5e91a,#f5e91a,#f5e71b,#f5e61c,#f5e41d,#f5e31e,#f5e11f,#f6db24,#f9d528,#fbd02c,#fdca31,#ffc436,#fabc42,#edb94c,#deba54,#cebb5a,#bebc61,#acbe68,#99bf70,#84bf78,#6dbf82,#55bd8e,#40ba9c,#30b7a7,#26b4af,#21b3b5,#20b2b8,#1eb0bb,#1baebf,#18abc4,#16a8c7,#16a5ca)"></div><div style="height:1px;background:linear-gradient(90deg,#f9d528,#f9d528,#f8d628,#f8d627,#f8d727,#f8d726,#f8d726,#f8d726,#f8d726,#f8d726,#f8d726,#f8d726,#f8d826,#f8d826,#f7d826,#f7d826,#f7d925,#f7d925,#f7da25,#f7da24,#f6db24,#f6db23,#f6dc23,#f6dd22,#f6de22,#f5de21,#f5e020,#f5e21f,#f5e31d,#f5e51c,#f5e71b,#f5e81a,#f5e91a,#f5ea19,#f5ea19,#f5eb18,#f5eb18,#f5eb18,#f5eb18,#f5eb18,#f5eb18,#f5eb18,#f5eb18,#f5eb18,#f5ea19,#f5ea19,#f5e91a,#f5e71b,#f5e61c,#f5e51d,#f5e31d,#f6dd22,#f8d826,#fad22a,#fccd2e,#fec833,#fdbe3d,#f1b949,#e2b951,#d3bb58,#c3bc5f,#b1bd66,#9dbe6e,#88bf76,#71bf80,#58bd8c,#44ba99,#34b7a4,#28b5ad,#22b3b4,#20b2b7,#1fb1ba,#1caebe,#18acc3,#16a9c7,#16a6c9)"></div><div style="height:1px;background:linear-gradient(90deg,#f9d528,#f9d528,#f8d627,#f8d627,#f8d727,#f8d826,#f8d826,#f8d826,#f8d826,#f8d826,#f8d826,#f8d826,#f7d826,#f7d826,#f7d826,#f7d826,#f7d925,#f7d925,#f7da24,#f7da24,#f6db24,#f6dc23,#f6dd22,#f6dd22,#f5de21,#f5df21,#f5e120,#f5e21e,#f5e41d,#f5e61c,#f5e81a,#f5e91a,#f5ea19,#f5eb18,#f5ec18,#f5ec17,#f5ec17,#f5ec17,#f5ec17,#f5ec17,#f5ec17,#f5ec17,#f5ec17,#f5ec18,#f5ec18,#f5ec18,#f5eb19,#f5e919,#f5e81a,#f5e71b,#f5e61c,#f5e020,#f7da24,#f9d528,#fbd02c,#fdcb30,#fec13a,#f6ba46,#e7b94f,#d8ba56,#c8bc5d,#b5bd64,#a2be6c,#8cbf75,#75bf7f,#5bbe8a,#49bb95,#37b8a2,#2ab5ac,#23b3b2,#20b2b7,#20b2b9,#1cafbd,#19adc2,#16aac6,#16a7c9)"></div><div style="height:1px;background:linear-gradient(90deg,#f9d528,#f9d528,#f8d627,#f8d727,#f8d726,#f7d826,#f7d826,#f7d826,#f7d826,#f7d826,#f7d826,#f7d826,#f7d826,#f7d826,#f7d826,#f7d826,#f7d925,#f7d925,#f7da24,#f6db24,#f6db23,#f6dc23,#f6dd22,#f6de22,#f5de21,#f5df21,#f5e11f,#f5e31e,#f5e51c,#f5e71b,#f5e91a,#f5ea19,#f5eb18,#f5ec18,#f5ed17,#f5ee16,#f5ee16,#f5ee16,#f5ee16,#f5ee16,#f5ee16,#f5ee17,#f5ee17,#f5ee17,#f5ed17,#f5ed17,#f5ec17,#f5eb18,#f5ea19,#f5e919,#f5e81a,#f5e31e,#f6dd22,#f7d826,#f9d329,#fccf2d,#ffc436,#fabc42,#ecb94d,#dcba54,#ccbb5b,#babd63,#a6be6a,#90bf73,#79bf7d,#5fbe89,#4ebc92,#3ab99f,#2db6aa,#24b4b1,#20b2b6,#20b2b8,#1db0bc,#1aadc0,#17abc5,#16a8c8)"></div><div style="height:1px;background:linear-gradient(90deg,#f9d528,#f9d528,#f8d627,#f8d727,#f8d726,#f7d826,#f7d826,#f7d826,#f7d826,#f7d826,#f7d826,#f7d826,#f7d826,#f7d826,#f7d826,#f7d826,#f7d925,#f7da25,#f7da24,#f6db24,#f6dc23,#f6dc23,#f6dd22,#f6de22,#f5df21,#f5df20,#f5e11f,#f5e31e,#f5e51c,#f5e71b,#f5ea19,#f5eb19,#f5eb18,#f5ec17,#f5ed17,#f5ee16,#f5ee16,#f5ee16,#f5ee16,#f5ee16,#f5ee16,#f5ee16,#f5ee16,#f5ee16,#f5ee16,#f5ee16,#f5ed17,#f5ec17,#f5ec18,#f5eb18,#f5ea19,#f5e41d,#f5df21,#f7da24,#f8d628,#fad12b,#fec734,#fcbd3f,#f0b94a,#e1ba52,#d1bb59,#bebc61,#abbe69,#95bf71,#7ebf7b,#64be86,#55bd8d,#40ba9c,#30b6a7,#26b4b0,#21b3b5,#20b2b8,#1eb0bb,#1baebf,#18abc4,#16a8c7)"></div><div style="height:1px;background:linear-gradient(90deg,#f9d528,#f9d528,#f8d627,#f8d727,#f8d726,#f7d826,#f7d826,#f7d826,#f7d826,#f7d826,#f7d826,#f7d826,#f7d826,#f7d826,#f7d825,#f7d925,#f7d925,#f7da24,#f7da24,#f6db24,#f6dc23,#f6dc23,#f6dd22,#f6de22,#f5df21,#f5df20,#f5e11f,#f5e31e,#f5e51c,#f5e71b,#f5ea19,#f5eb19,#f5eb18,#f5ec17,#f5ed17,#f5ee16,#f5ee16,#f5ee16,#f5ee16,#f5ee16,#f5ee16,#f5ee16,#f5ee16,#f5ee16,#f5ee16,#f5ee16,#f5ed17,#f5ed17,#f5ec18,#f5eb18,#f5ea19,#f5e51c,#f5e020,#f6db23,#f8d727,#fad22a,#fec932,#febf3c,#f3ba48,#e5b950,#d5ba57,#c3bc5f,#b0bd67,#9bbf6f,#85bf78,#6bbf83,#5cbe8a,#47bb96,#34b7a4,#28b5ae,#21b3b4,#20b2b7,#1fb1ba,#1baebe,#18acc3,#16a9c7)"></div><div style="height:1px;background:linear-gradient(90deg,#f9d528,#f9d528,#f8d627,#f8d727,#f8d726,#f7d826,#f7d826,#f7d826,#f7d826,#f7d826,#f7d826,#f7d826,#f7d826,#f7d925,#f7d925,#f7d925,#f7d925,#f7da24,#f7db24,#f6db24,#f6dc23,#f6dc23,#f6dd22,#f6de22,#f5df21,#f5df20,#f5e11f,#f5e31e,#f5e51c,#f5e71b,#f5ea19,#f5eb19,#f5eb18,#f5ec17,#f5ed17,#f5ee16,#f5ee16,#f5ee16,#f5ee16,#f5ee16,#f5ee16,#f5ee16,#f5ee16,#f5ee16,#f5ee16,#f5ee16,#f5ee17,#f5ed17,#f5ec17,#f5eb18,#f5eb18,#f5e61c,#f5e11f,#f6dc23,#f7d826,#f9d429,#fdca30,#fec13a,#f7ba45,#e9b94e,#daba55,#c8bc5d,#b5bd64,#a1be6d,#8bbf75,#72bf80,#62be87,#50bc91,#39b8a0,#2ab5ac,#22b3b3,#20b2b7,#1fb2b9,#1cafbd,#19acc2,#16aac6)"></div><div style="height:1px;background:linear-gradient(90deg,#f9d528,#f9d528,#f8d627,#f8d727,#f8d726,#f7d826,#f7d826,#f7d826,#f7d826,#f7d826,#f7d826,#f7d826,#f7d925,#f7d925,#f7d925,#f7d925,#f7da24,#f7da24,#f7db24,#f6db23,#f6dc23,#f6dc23,#f6dd22,#f6de22,#f5df21,#f5df20,#f5e11f,#f5e31e,#f5e51c,#f5e71b,#f5ea19,#f5eb19,#f5eb18,#f5ec17,#f5ed17,#f5ee16,#f5ee16,#f5ee16,#f5ee16,#f5ee16,#f5ee16,#f5ee16,#f5ee16,#f5ee16,#f5ee16,#f5ee16,#f5ee16,#f5ed17,#f5ec17,#f5ec18,#f5eb18,#f5e61b,#f5e21f,#f6dd22,#f7d925,#f9d528,#fdcc2f,#ffc337,#f9bb43,#edb94c,#deba53,#cdbb5b,#babd62,#a6be6a,#91bf73,#79bf7d,#68be84,#57bd8c,#3fb99c,#2db6a9,#23b3b2,#20b2b6,#20b2b8,#1dafbd,#19adc1,#16aac6)"></div><div style="height:1px;background:linear-gradient(90deg,#f9d528,#f9d528,#f8d627,#f8d727,#f8d726,#f7d826,#f7d826,#f7d826,#f7d826,#f7d826,#f7d826,#f7d826,#f7d925,#f7d925,#f7d925,#f7da25,#f7da24,#f7da24,#f6db24,#f6db23,#f6dc23,#f6dc23,#f6dd22,#f6de22,#f5df21,#f5df20,#f5e11f,#f5e31e,#f5e51c,#f5e71b,#f5ea19,#f5eb19,#f5eb18,#f5ec17,#f5ed17,#f5ee16,#f5ee16,#f5ee16,#f5ee16,#f5ee16,#f5ee16,#f5ee16,#f5ee16,#f5ee16,#f5ee16,#f5ee16,#f5ee16,#f5ed17,#f5ed17,#f5ec17,#f5ec18,#f5e71b,#f5e31e,#f5de21,#f7db24,#f8d727,#fcce2e,#fec535,#fcbd40,#f0b94a,#e3b951,#d1bb59,#bfbc60,#acbe68,#97bf70,#80bf7a,#6fbf81,#5cbe8a,#45ba98,#30b7a7,#24b4b1,#21b2b5,#20b2b8,#1db0bc,#1aadc0,#17abc5)"></div><div style="height:1px;background:linear-gradient(90deg,#f9d528,#f9d528,#f8d627,#f8d727,#f8d726,#f7d826,#f7d826,#f7d826,#f7d826,#f7d826,#f7d826,#f7d825,#f7d925,#f7d925,#f7da25,#f7da24,#f7da24,#f7db24,#f6db24,#f6db23,#f6dc23,#f6dc23,#f6dd22,#f6de22,#f5df21,#f5df20,#f5e11f,#f5e31e,#f5e51c,#f5e71b,#f5ea19,#f5eb19,#f5eb18,#f5ec17,#f5ed17,#f5ee16,#f5ee16,#f5ee16,#f5ee16,#f5ee16,#f5ee16,#f5ee16,#f5ee16,#f5ee16,#f5ee16,#f5ee16,#f5ee16,#f5ed17,#f5ed17,#f5ed17,#f5ec17,#f5e81a,#f5e31d,#f5e020,#f6dc23,#f7d826,#fbd02c,#fec734,#febe3d,#f4ba47,#e7b94f,#d6ba57,#c4bc5f,#b1bd66,#9dbf6e,#87bf77,#75bf7f,#62be87,#4cbc94,#34b7a4,#26b4b0,#21b3b4,#20b2b7,#1eb1bb,#1baebf,#17abc4)"></div><div style="height:1px;background:linear-gradient(90deg,#f9d528,#f9d528,#f8d627,#f8d727,#f8d726,#f7d826,#f7d826,#f7d826,#f7d826,#f7d826,#f7d826,#f7d925,#f7d925,#f7d925,#f7da24,#f7da24,#f7db24,#f6db24,#f6db23,#f6db23,#f6dc23,#f6dc23,#f6dd22,#f6de22,#f5df21,#f5df20,#f5e11f,#f5e31e,#f5e51c,#f5e71b,#f5ea19,#f5eb19,#f5eb18,#f5ec17,#f5ed17,#f5ee16,#f5ee16,#f5ee16,#f5ee16,#f5ee16,#f5ee16,#f5ee16,#f5ee16,#f5ee16,#f5ee16,#f5ee16,#f5ee16,#f5ee17,#f5ed17,#f5ed17,#f5ed17,#f5e81a,#f5e41d,#f5e11f,#f6dd22,#f7da24,#fad12b,#fec932,#fec13a,#f8ba44,#ecb94d,#daba55,#c9bc5d,#b6bd64,#a2be6c,#8dbf75,#7bbf7c,#68be85,#53bd8f,#38b8a1,#28b5ae,#22b3b4,#20b2b7,#1fb1ba,#1baebe,#18acc3)"></div><div style="height:1px;background:linear-gradient(90deg,#f9d528,#f9d528,#f8d627,#f8d727,#f8d726,#f7d826,#f7d826,#f7d826,#f7d826,#f7d826,#f7d826,#f7d925,#f7d925,#f7da25,#f7da24,#f6db24,#f6db24,#f6db24,#f6db23,#f6db23,#f6dc23,#f6dc23,#f6dd22,#f6de22,#f5df21,#f5df20,#f5e11f,#f5e31e,#f5e51c,#f5e71b,#f5ea19,#f5eb19,#f5eb18,#f5ec17,#f5ed17,#f5ee16,#f5ee16,#f5ee16,#f5ee16,#f5ee16,#f5ee16,#f5ee16,#f5ee16,#f5ee16,#f5ee16,#f5ee16,#f5ee16,#f5ee16,#f5ee17,#f5ed17,#f5ed17,#f5e919,#f5e51c,#f5e21f,#f5df21,#f6db23,#fad32a,#fdcb30,#ffc337,#fbbc41,#f0b94a,#dfba53,#cdbb5b,#bbbd62,#a8be6a,#93bf72,#81bf7a,#6dbf82,#58bd8c,#3cb99e,#29b5ac,#23b3b3,#20b2b6,#20b2b9,#1cafbe,#19acc2)"></div><div style="height:1px;background:linear-gradient(90deg,#f9d528,#f9d528,#f8d627,#f8d727,#f8d726,#f7d826,#f7d826,#f7d826,#f7d826,#f7d826,#f7d826,#f7d925,#f7d925,#f7da24,#f7da24,#f6db24,#f6db23,#f6db23,#f6db23,#f6dc23,#f6dc23,#f6dc23,#f6dd22,#f6de22,#f5df21,#f5df20,#f5e11f,#f5e31e,#f5e51c,#f5e71b,#f5ea19,#f5eb19,#f5eb18,#f5ec17,#f5ed17,#f5ee16,#f5ee16,#f5ee16,#f5ee16,#f5ee16,#f5ee16,#f5ee16,#f5ee16,#f5ee16,#f5ee16,#f5ee16,#f5ee16,#f5ee16,#f5ee16,#f5ee16,#f5ee17,#f5ea19,#f5e61b,#f5e31e,#f5e020,#f6dd22,#f9d528,#fccd2e,#fec535,#fdbe3e,#f4ba47,#e4b951,#d2bb59,#c0bc60,#adbe68,#99bf70,#87bf77,#72bf80,#5dbe8a,#41ba9b,#2bb5ab,#24b4b1,#20b2b6,#20b2b8,#1dafbd,#19acc2)"></div><div style="height:1px;background:linear-gradient(90deg,#f9d528,#f9d528,#f8d627,#f8d727,#f8d726,#f7d826,#f7d826,#f7d826,#f7d826,#f7d826,#f7d826,#f7d925,#f7d925,#f7da24,#f6db24,#f6db23,#f6db23,#f6dc23,#f6dc23,#f6dc23,#f6dc23,#f6dc23,#f6dd22,#f6de22,#f5df21,#f5df20,#f5e11f,#f5e31e,#f5e51c,#f5e71b,#f5ea19,#f5eb19,#f5eb18,#f5ec17,#f5ed17,#f5ee16,#f5ee16,#f5ee16,#f5ee16,#f5ee16,#f5ee16,#f5ee16,#f5ee16,#f5ee16,#f5ee16,#f5ee16,#f5ee16,#f5ee16,#f5ee16,#f5ee16,#f5ee16,#f5eb19,#f5e71b,#f5e41d,#f5e11f,#f5df21,#f8d727,#fbcf2d,#fec833,#fec03b,#f8bb44,#e8b94f,#d7ba57,#c5bc5e,#b3bd65,#9fbe6d,#8cbf75,#78bf7d,#62be87,#46bb97,#2eb6a9,#25b4b0,#21b3b5,#20b2b8,#1db0bc,#1aadc1)"></div><div style="height:1px;background:linear-gradient(90deg,#f9d429,#f9d528,#f8d627,#f8d627,#f8d726,#f7d826,#f7d826,#f7d826,#f7d826,#f7d826,#f7d826,#f7d925,#f7d925,#f7da24,#f6db24,#f6db23,#f6db23,#f6dc23,#f6dc23,#f6dc23,#f6dc23,#f6dc23,#f6dd22,#f6de22,#f5df21,#f5df20,#f5e11f,#f5e31e,#f5e51c,#f5e71b,#f5ea19,#f5eb19,#f5eb18,#f5ec17,#f5ed17,#f5ee16,#f5ee16,#f5ee16,#f5ee16,#f5ee16,#f5ee16,#f5ee16,#f5ee16,#f5ee16,#f5ee16,#f5ee16,#f5ee16,#f5ee16,#f5ee16,#f5ee16,#f5ee16,#f5eb18,#f5e81a,#f5e51c,#f5e21e,#f5df20,#f8d826,#fbd12b,#fdca31,#ffc338,#fbbd40,#edb94c,#dcba54,#cabb5c,#b8bd63,#a5be6b,#92bf72,#7dbf7b,#67be85,#4dbc93,#31b7a6,#27b4ae,#21b3b4,#20b2b7,#1eb0bb,#1baec0)"></div><div style="height:1px;background:linear-gradient(90deg,#f9d429,#f9d428,#f9d528,#f8d627,#f8d727,#f8d826,#f8d826,#f7d826,#f7d826,#f7d826,#f7d826,#f7d925,#f7d925,#f7da24,#f7da24,#f6db24,#f6db23,#f6db23,#f6db23,#f6dc23,#f6dc23,#f6dc23,#f6dd22,#f6de22,#f5df21,#f5df20,#f5e11f,#f5e31e,#f5e51c,#f5e71b,#f5ea19,#f5eb19,#f5eb18,#f5ec17,#f5ed17,#f5ee16,#f5ee16,#f5ee16,#f5ee16,#f5ee16,#f5ee16,#f5ee16,#f5ee16,#f5ee16,#f5ee16,#f5ee16,#f5ee16,#f5ee16,#f5ee16,#f5ee16,#f5ee16,#f5eb18,#f5e81a,#f5e51c,#f5e21e,#f5df20,#f7d826,#fad22b,#fdcb30,#fec535,#febf3c,#f1b949,#e0ba52,#cfbb5a,#bdbd61,#aabe69,#98bf70,#83bf79,#6dbf82,#55bd8e,#35b8a3,#2ab5ac,#23b3b3,#20b2b7,#1fb1b9,#1caebe)"></div><div style="height:1px;background:linear-gradient(90deg,#fad32a,#f9d429,#f9d528,#f8d628,#f8d627,#f8d726,#f8d726,#f8d826,#f8d826,#f7d826,#f7d826,#f7d925,#f7d925,#f7da25,#f7da24,#f6db24,#f6db24,#f6db24,#f6db23,#f6db23,#f6dc23,#f6dc23,#f6dd22,#f6de22,#f5df21,#f5df20,#f5e11f,#f5e31e,#f5e51c,#f5e71b,#f5ea19,#f5eb19,#f5eb18,#f5ec17,#f5ed17,#f5ee16,#f5ee16,#f5ee16,#f5ee16,#f5ee16,#f5ee16,#f5ee16,#f5ee16,#f5ee16,#f5ee16,#f5ee16,#f5ee16,#f5ee16,#f5ee16,#f5ee16,#f5ee16,#f5eb18,#f5e81a,#f5e51c,#f5e21e,#f5df20,#f7d925,#fad32a,#fccd2e,#fec733,#fec239,#f5ba46,#e5b950,#d4bb58,#c2bc5f,#b0bd66,#9dbe6e,#89bf76,#72bf80,#5abd8b,#3ab9a0,#2db6aa,#24b4b1,#20b2b6,#20b2b8,#1dafbd)"></div><div style="height:1px;background:linear-gradient(90deg,#fad22a,#f9d329,#f9d429,#f9d528,#f8d627,#f8d727,#f8d726,#f8d726,#f8d826,#f7d826,#f7d826,#f7d925,#f7d925,#f7d925,#f7da24,#f7da24,#f7db24,#f6db24,#f6db23,#f6db23,#f6dc23,#f6dc23,#f6dd22,#f6de22,#f5df21,#f5df20,#f5e11f,#f5e31e,#f5e51c,#f5e71b,#f5ea19,#f5eb19,#f5eb18,#f5ec17,#f5ed17,#f5ee16,#f5ee16,#f5ee16,#f5ee16,#f5ee16,#f5ee16,#f5ee16,#f5ee16,#f5ee16,#f5ee16,#f5ee16,#f5ee16,#f5ee16,#f5ee16,#f5ee16,#f5ee16,#f5eb18,#f5e81a,#f5e51c,#f5e21e,#f5df20,#f7da25,#f9d429,#fbcf2d,#fdca31,#ffc536,#f9bb43,#eab94e,#d9ba56,#c8bc5d,#b6bd64,#a3be6c,#8ebf74,#78bf7d,#5fbe88,#40ba9c,#30b7a7,#26b4af,#21b3b4,#20b2b8,#1eb0bb)"></div><div style="height:1px;background:linear-gradient(90deg,#fad22b,#fad32a,#f9d429,#f9d528,#f8d628,#f8d727,#f8d727,#f8d726,#f8d726,#f7d826,#f7d826,#f7d825,#f7d925,#f7d925,#f7da25,#f7da24,#f7da24,#f7db24,#f6db24,#f6db23,#f6dc23,#f6dc23,#f6dd22,#f6de22,#f5df21,#f5df20,#f5e11f,#f5e31e,#f5e51c,#f5e71b,#f5ea19,#f5eb19,#f5eb18,#f5ec17,#f5ed17,#f5ee16,#f5ee16,#f5ee16,#f5ee16,#f5ee16,#f5ee16,#f5ee16,#f5ee16,#f5ee16,#f5ee16,#f5ee16,#f5ee16,#f5ee16,#f5ee16,#f5ee16,#f5ee16,#f5eb18,#f5e81a,#f5e51c,#f5e21e,#f5df20,#f7da24,#f9d528,#fbd12b,#fccc2f,#fec833,#fcbd3f,#eeb94b,#deba53,#cdbb5b,#bbbd62,#a8be6a,#94bf72,#7dbf7b,#64be86,#46bb98,#35b7a4,#29b5ad,#22b3b3,#20b2b7,#1fb1ba)"></div><div style="height:1px;background:linear-gradient(90deg,#fad12b,#fad22a,#fad32a,#f9d429,#f9d528,#f8d627,#f8d727,#f8d727,#f8d726,#f8d826,#f7d826,#f7d826,#f7d925,#f7d925,#f7d925,#f7da25,#f7da24,#f7da24,#f6db24,#f6db23,#f6dc23,#f6dc23,#f6dd22,#f6de22,#f5df21,#f5df20,#f5e11f,#f5e31e,#f5e51c,#f5e71b,#f5ea19,#f5eb19,#f5eb18,#f5ec17,#f5ed17,#f5ee16,#f5ee16,#f5ee16,#f5ee16,#f5ee16,#f5ee16,#f5ee16,#f5ee16,#f5ee16,#f5ee16,#f5ee16,#f5ee16,#f5ee16,#f5ee16,#f5ee16,#f5ee16,#f5eb18,#f5e81a,#f5e51c,#f5e21e,#f5df20,#f6db24,#f8d727,#fad32a,#fccf2d,#fdcb30,#fec03b,#f3ba48,#e3b951,#d2bb59,#c1bc60,#adbe67,#99bf70,#82bf79,#69be84,#4cbc93,#39b8a0,#2cb6aa,#24b3b2,#20b2b6,#20b2b9)"></div><div style="height:1px;background:linear-gradient(90deg,#fbd02c,#fad12b,#fad32a,#f9d429,#f9d528,#f8d627,#f8d627,#f8d727,#f8d726,#f8d826,#f7d826,#f7d826,#f7d925,#f7d925,#f7d925,#f7d925,#f7da24,#f7da24,#f7db24,#f6db23,#f6dc23,#f6dc23,#f6dd22,#f6de22,#f5df21,#f5df20,#f5e11f,#f5e31e,#f5e51c,#f5e71b,#f5ea19,#f5eb19,#f5eb18,#f5ec17,#f5ed17,#f5ee16,#f5ee16,#f5ee16,#f5ee16,#f5ee16,#f5ee16,#f5ee16,#f5ee16,#f5ee16,#f5ee16,#f5ee16,#f5ee16,#f5ee16,#f5ee16,#f5ee16,#f5ee16,#f5eb18,#f5e81a,#f5e51c,#f5e21e,#f5df20,#f6dc23,#f7d826,#f9d429,#fad12b,#fcce2e,#ffc338,#f7ba45,#e8b94f,#d7ba57,#c6bc5e,#b3bd65,#9ebe6e,#87bf77,#6ebf81,#53bd8e,#3eb99d,#2fb6a8,#26b4b0,#21b3b5,#20b2b8)"></div><div style="height:1px;background:linear-gradient(90deg,#fbd02c,#fbd12b,#fad22a,#f9d329,#f9d429,#f8d628,#f8d627,#f8d727,#f8d727,#f8d826,#f7d826,#f7d826,#f7d826,#f7d925,#f7d925,#f7d925,#f7d925,#f7da24,#f7db24,#f6db24,#f6dc23,#f6dc23,#f6dd22,#f6de22,#f5df21,#f5df20,#f5e11f,#f5e31e,#f5e51c,#f5e71b,#f5ea19,#f5eb19,#f5eb18,#f5ec17,#f5ed17,#f5ee16,#f5ee16,#f5ee16,#f5ee16,#f5ee16,#f5ee16,#f5ee16,#f5ee16,#f5ee16,#f5ee16,#f5ee16,#f5ee16,#f5ee16,#f5ee16,#f5ee16,#f5ee16,#f5eb18,#f5e81a,#f5e51c,#f5e21e,#f5df20,#f6dc23,#f7d925,#f8d627,#f9d329,#fbd12c,#fec635,#fbbc41,#ecb94c,#dcba54,#cbbb5c,#b8bd63,#a3be6c,#8cbf75,#73bf7f,#58bd8c,#44ba99,#33b7a5,#28b5ae,#21b3b4,#20b2b7)"></div><div style="height:1px;background:linear-gradient(90deg,#fbcf2d,#fbd02c,#fad12b,#fad32a,#f9d429,#f9d528,#f8d627,#f8d627,#f8d727,#f8d726,#f7d826,#f7d826,#f7d826,#f7d826,#f7d825,#f7d925,#f7d925,#f7da24,#f7da24,#f6db24,#f6dc23,#f6dc23,#f6dd22,#f6de22,#f5df21,#f5df20,#f5e11f,#f5e31e,#f5e51c,#f5e71b,#f5ea19,#f5eb19,#f5eb18,#f5ec17,#f5ed17,#f5ee16,#f5ee16,#f5ee16,#f5ee16,#f5ee16,#f5ee16,#f5ee16,#f5ee16,#f5ee16,#f5ee16,#f5ee16,#f5ee16,#f5ee16,#f5ee16,#f5ee16,#f5ee16,#f5eb18,#f5e81a,#f5e51c,#f5e21e,#f5df20,#f6dd22,#f7da24,#f7d826,#f8d627,#f9d429,#fec932,#fdbe3d,#f1b94a,#e1ba52,#d0bb59,#bdbd61,#a8be6a,#91bf73,#78bf7d,#5dbe8a,#4abb94,#37b8a2,#2ab5ac,#23b3b3,#20b2b7)"></div><div style="height:1px;background:linear-gradient(90deg,#fcce2d,#fbd02c,#fad12b,#fad22a,#f9d429,#f9d528,#f8d528,#f8d627,#f8d727,#f8d726,#f7d826,#f7d826,#f7d826,#f7d826,#f7d826,#f7d826,#f7d925,#f7da25,#f7da24,#f6db24,#f6dc23,#f6dc23,#f6dd22,#f6de22,#f5df21,#f5df20,#f5e11f,#f5e31e,#f5e51c,#f5e71b,#f5ea19,#f5eb19,#f5eb18,#f5ec17,#f5ed17,#f5ee16,#f5ee16,#f5ee16,#f5ee16,#f5ee16,#f5ee16,#f5ee16,#f5ee16,#f5ee16,#f5ee16,#f5ee16,#f5ee16,#f5ee16,#f5ee16,#f5ee16,#f5ee16,#f5eb18,#f5e81a,#f5e51c,#f5e21e,#f5df20,#f6dd22,#f6dc23,#f7da24,#f7d826,#f8d727,#fdcc2f,#fec139,#f5ba46,#e6b950,#d5ba57,#c2bc5f,#adbe68,#96bf71,#7dbf7b,#61be87,#51bc90,#3cb99e,#2db6a9,#24b4b1,#20b2b6)"></div><div style="height:1px;background:linear-gradient(90deg,#fccd2f,#fcce2d,#fbcf2c,#fad12b,#fad22a,#f9d429,#f9d528,#f9d528,#f8d627,#f8d727,#f8d826,#f8d826,#f8d826,#f7d826,#f7d826,#f7d826,#f7d925,#f7d925,#f7da24,#f6db24,#f6db23,#f6dc23,#f6dd22,#f6de22,#f5de21,#f5df21,#f5e11f,#f5e31e,#f5e51c,#f5e71b,#f5ea19,#f5eb19,#f5eb18,#f5ec17,#f5ed17,#f5ee16,#f5ee16,#f5ee16,#f5ee16,#f5ee16,#f5ee16,#f5ee16,#f5ee16,#f5ee16,#f5ee16,#f5ee16,#f5ee16,#f5ee16,#f5ee16,#f5ee16,#f5ee16,#f5eb18,#f5e81a,#f5e51c,#f5e21e,#f5df20,#f6de22,#f6dc23,#f6db24,#f7d925,#f7d826,#fccd2e,#ffc337,#f8ba44,#e9b94e,#d8ba56,#c5bc5e,#b0bd67,#99bf6f,#81bf7a,#65be86,#56bd8d,#40ba9c,#30b6a7,#25b4b0,#20b2b5)"></div><div style="height:1px;background:linear-gradient(90deg,#fdca31,#fdcb30,#fccd2e,#fbcf2d,#fbd02c,#fad22a,#fad32a,#f9d429,#f9d528,#f8d628,#f8d727,#f8d727,#f8d727,#f8d726,#f8d726,#f8d826,#f7d826,#f7d925,#f7da25,#f7da24,#f6db24,#f6dc23,#f6dd22,#f6dd22,#f5de21,#f5df21,#f5e11f,#f5e31e,#f5e51c,#f5e71b,#f5ea19,#f5eb19,#f5eb18,#f5ec17,#f5ed17,#f5ee16,#f5ee16,#f5ee16,#f5ee16,#f5ee16,#f5ee16,#f5ee16,#f5ee16,#f5ee16,#f5ee16,#f5ee16,#f5ee16,#f5ee16,#f5ee16,#f5ee16,#f5ee16,#f5eb18,#f5e81a,#f5e51c,#f5e21e,#f5df20,#f6de22,#f6dc23,#f6db24,#f7d925,#f7d826,#fcce2e,#ffc337,#f8bb44,#e9b94e,#d9ba55,#c6bc5e,#b1bd66,#9bbf6f,#82bf79,#67be85,#58bd8c,#42ba9a,#31b7a6,#26b4af,#21b3b5)"></div><div style="height:1px;background:linear-gradient(90deg,#fec734,#fec932,#fdcb30,#fccd2f,#fccf2d,#fbd12c,#fad22b,#fad32a,#f9d429,#f9d528,#f8d628,#f8d627,#f8d627,#f8d727,#f8d727,#f8d726,#f7d826,#f7d925,#f7d925,#f7da24,#f6db24,#f6db23,#f6dc23,#f6dd22,#f6de22,#f5de21,#f5e120,#f5e31e,#f5e51c,#f5e71b,#f5ea19,#f5eb19,#f5eb18,#f5ec17,#f5ed17,#f5ee16,#f5ee16,#f5ee16,#f5ee16,#f5ee16,#f5ee16,#f5ee16,#f5ee16,#f5ee16,#f5ee16,#f5ee16,#f5ee16,#f5ee16,#f5ee16,#f5ee16,#f5ee16,#f5eb18,#f5e81a,#f5e51c,#f5e21e,#f5df20,#f6de22,#f6dc23,#f6db24,#f7d925,#f7d826,#fcce2e,#ffc337,#f9bb43,#eab94d,#dbba55,#c7bc5d,#b2bd65,#9dbf6e,#84bf78,#69be84,#5abd8b,#44ba99,#32b7a6,#26b4af,#21b3b5)"></div><div style="height:1px;background:linear-gradient(90deg,#ffc437,#fec635,#fec832,#fdca31,#fccd2f,#fbcf2d,#fbd02c,#fad12b,#fad22a,#f9d329,#f9d528,#f9d528,#f8d528,#f8d627,#f8d627,#f8d727,#f8d826,#f7d826,#f7d925,#f7da25,#f7da24,#f6db24,#f6dc23,#f6dd22,#f6dd22,#f5de21,#f5e020,#f5e21e,#f5e51d,#f5e71b,#f5ea19,#f5eb19,#f5eb18,#f5ec17,#f5ed17,#f5ee16,#f5ee16,#f5ee16,#f5ee16,#f5ee16,#f5ee16,#f5ee16,#f5ee16,#f5ee16,#f5ee16,#f5ee16,#f5ee16,#f5ee16,#f5ee16,#f5ee16,#f5ee16,#f5eb18,#f5e81a,#f5e51c,#f5e21e,#f5df20,#f6de22,#f6dc23,#f6db24,#f7d925,#f7d826,#fcce2e,#ffc437,#f9bb43,#ebb94d,#dcba55,#c8bc5d,#b4bd65,#9ebe6e,#86bf77,#6cbf83,#5bbe8a,#46bb97,#33b7a5,#27b4ae,#21b3b5)"></div><div style="height:1px;background:linear-gradient(90deg,#fec13a,#ffc337,#fec635,#fec832,#fdcb30,#fccd2e,#fcce2d,#fbd02c,#fad12b,#fad22a,#f9d429,#f9d429,#f9d528,#f9d528,#f8d627,#f8d727,#f8d726,#f7d826,#f7d925,#f7d925,#f7da24,#f6db24,#f6db23,#f6dc23,#f6dd22,#f6de22,#f5e020,#f5e21e,#f5e51d,#f5e71b,#f5ea19,#f5eb19,#f5eb18,#f5ec17,#f5ed17,#f5ee16,#f5ee16,#f5ee16,#f5ee16,#f5ee16,#f5ee16,#f5ee16,#f5ee16,#f5ee16,#f5ee16,#f5ee16,#f5ee16,#f5ee16,#f5ee16,#f5ee16,#f5ee16,#f5eb18,#f5e81a,#f5e51c,#f5e21e,#f5df20,#f6de22,#f6dc23,#f6db24,#f7d925,#f7d826,#fcce2e,#ffc436,#fabb42,#ecb94d,#ddba54,#c9bb5c,#b5bd64,#a0be6d,#88bf76,#6ebf82,#5dbe89,#49bb95,#35b7a4,#28b5ae,#21b3b5)"></div><div style="height:1px;background:linear-gradient(90deg,#fdbe3e,#fec13a,#ffc337,#fec634,#fec932,#fdcc30,#fccd2e,#fcce2d,#fbd02c,#fad12b,#fad32a,#f9d329,#f9d429,#f9d528,#f8d528,#f8d627,#f8d727,#f8d826,#f7d826,#f7d925,#f7da25,#f7da24,#f6db24,#f6dc23,#f6dd22,#f6dd22,#f5e020,#f5e21e,#f5e41d,#f5e71b,#f5ea19,#f5eb19,#f5eb18,#f5ec17,#f5ed17,#f5ee16,#f5ee16,#f5ee16,#f5ee16,#f5ee16,#f5ee16,#f5ee16,#f5ee16,#f5ee16,#f5ee16,#f5ee16,#f5ee16,#f5ee16,#f5ee16,#f5ee16,#f5ee16,#f5eb18,#f5e81a,#f5e51c,#f5e21e,#f5df20,#f6de22,#f6dc23,#f6db24,#f7d925,#f7d826,#fcce2d,#ffc436,#fabc42,#edb94c,#deba54,#cabb5c,#b7bd64,#a1be6c,#8abf76,#70bf81,#5fbe88,#4bbb94,#36b8a3,#28b5ad,#21b3b4)"></div><div style="height:1px;background:linear-gradient(90deg,#fabc41,#fdbe3e,#fec13a,#ffc437,#fec734,#fdca31,#fdcb30,#fccd2e,#fcce2d,#fbd02c,#fad22b,#fad22a,#f9d329,#f9d429,#f9d528,#f8d627,#f8d727,#f8d726,#f7d826,#f7d925,#f7d925,#f7da24,#f6db24,#f6db23,#f6dc23,#f6dd22,#f5df20,#f5e21f,#f5e41d,#f5e71b,#f5ea19,#f5eb19,#f5eb18,#f5ec17,#f5ed17,#f5ee16,#f5ee16,#f5ee16,#f5ee16,#f5ee16,#f5ee16,#f5ee16,#f5ee16,#f5ee16,#f5ee16,#f5ee16,#f5ee16,#f5ee16,#f5ee16,#f5ee16,#f5ee16,#f5eb18,#f5e81a,#f5e51c,#f5e21e,#f5df20,#f6de22,#f6dc23,#f6db24,#f7d925,#f7d826,#fcce2d,#ffc536,#fabc41,#edb94c,#dfba53,#ccbb5b,#b8bd63,#a3be6c,#8cbf75,#72bf80,#61be87,#4ebc92,#37b8a2,#29b5ad,#21b3b4)"></div><div style="height:1px;background:linear-gradient(90deg,#f7ba45,#fbbc41,#febe3d,#fec239,#fec535,#fec832,#fdca31,#fdcc30,#fccd2e,#fbcf2d,#fbd12c,#fad22b,#fad32a,#f9d429,#f9d528,#f8d628,#f8d627,#f8d727,#f8d826,#f7d826,#f7d925,#f7da25,#f7da24,#f6db24,#f6dc23,#f6dd22,#f5df21,#f5e21f,#f5e41d,#f5e71b,#f5ea19,#f5eb19,#f5eb18,#f5ec17,#f5ed17,#f5ee16,#f5ee16,#f5ee16,#f5ee16,#f5ee16,#f5ee16,#f5ee16,#f5ee16,#f5ee16,#f5ee16,#f5ee16,#f5ee16,#f5ee16,#f5ee16,#f5ee16,#f5ee16,#f5eb18,#f5e81a,#f5e51c,#f5e21e,#f5df20,#f6de22,#f6dc23,#f6db24,#f7d925,#f7d826,#fcce2d,#fec536,#fbbc41,#eeb94b,#e0ba53,#cdbb5b,#b9bd63,#a4be6b,#8ebf74,#74bf7f,#63be86,#50bc90,#39b8a0,#2ab5ac,#22b3b4)"></div><div style="height:1px;background:linear-gradient(90deg,#f3b948,#f8ba44,#fbbd40,#fec03c,#ffc337,#fec734,#fec832,#fdca31,#fdcc2f,#fcce2e,#fbd02c,#fbd12b,#fad22b,#fad32a,#f9d429,#f9d528,#f8d627,#f8d727,#f8d726,#f7d826,#f7d925,#f7d925,#f7da24,#f6db24,#f6db23,#f6dc23,#f5df21,#f5e11f,#f5e41d,#f5e71b,#f5ea19,#f5eb19,#f5eb18,#f5ec17,#f5ed17,#f5ee16,#f5ee16,#f5ee16,#f5ee16,#f5ee16,#f5ee16,#f5ee16,#f5ee16,#f5ee16,#f5ee16,#f5ee16,#f5ee16,#f5ee16,#f5ee16,#f5ee16,#f5ee16,#f5eb18,#f5e81a,#f5e51c,#f5e21e,#f5df20,#f6de22,#f6dc23,#f6db24,#f7d925,#f7d826,#fccf2d,#fec535,#fbbc40,#efb94b,#e1ba52,#cebb5a,#babd62,#a6be6a,#90bf73,#77bf7e,#65be86,#53bd8f,#3ab99f,#2ab5ac,#22b3b4)"></div><div style="height:1px;background:linear-gradient(90deg,#eeb94b,#f4ba47,#f9bb43,#fdbe3e,#fec13a,#fec535,#fec734,#fec932,#fdcb30,#fccd2f,#fccf2d,#fbd02c,#fad12b,#fad22a,#f9d429,#f9d528,#f8d628,#f8d627,#f8d727,#f8d826,#f7d826,#f7d925,#f7da25,#f7da24,#f6db24,#f6dc23,#f5de21,#f5e11f,#f5e41d,#f5e71b,#f5ea19,#f5eb19,#f5eb18,#f5ec17,#f5ed17,#f5ee16,#f5ee16,#f5ee16,#f5ee16,#f5ee16,#f5ee16,#f5ee16,#f5ee16,#f5ee16,#f5ee16,#f5ee16,#f5ee16,#f5ee16,#f5ee16,#f5ee16,#f5ee16,#f5eb18,#f5e81a,#f5e51c,#f5e21e,#f5df20,#f6de22,#f6dc23,#f6db24,#f7d925,#f7d826,#fccf2d,#fec535,#fcbd40,#f0b94a,#e2b952,#cfbb5a,#bcbd62,#a7be6a,#91bf73,#79bf7d,#67be85,#55bd8d,#3cb99e,#2bb5ab,#22b3b3)"></div><div style="height:1px;background:linear-gradient(90deg,#eab94e,#f0b94a,#f5ba46,#fabc42,#febf3d,#ffc238,#ffc436,#fec634,#fec832,#fdcb30,#fccd2f,#fcce2e,#fbcf2c,#fbd12b,#fad22a,#f9d329,#f9d429,#f9d528,#f8d628,#f8d627,#f8d727,#f7d826,#f7d925,#f7d925,#f7da24,#f6db24,#f6dd22,#f5e020,#f5e31e,#f5e61c,#f5e91a,#f5ea19,#f5eb18,#f5ec18,#f5ed17,#f5ee17,#f5ee16,#f5ee16,#f5ee16,#f5ee16,#f5ee16,#f5ee16,#f5ee16,#f5ee16,#f5ee16,#f5ee16,#f5ee16,#f5ee16,#f5ee16,#f5ee16,#f5ee16,#f5eb18,#f5e81a,#f5e51d,#f5e21f,#f5df21,#f6de22,#f6dc23,#f7da24,#f7d925,#f8d726,#fcce2d,#fec535,#fbbd40,#f0b94a,#e2b952,#cfbb5a,#bcbd62,#a8be6a,#92bf72,#7abf7c,#68be84,#56bd8d,#3db99e,#2bb5ab,#22b3b3)"></div><div style="height:1px;background:linear-gradient(90deg,#e5b950,#ebb94d,#f0b94a,#f6ba46,#fabc41,#febf3c,#fec13a,#ffc337,#fec535,#fec733,#fdca31,#fdcb30,#fccd2f,#fcce2d,#fbcf2c,#fad12b,#fad22b,#fad32a,#f9d329,#f9d429,#f9d528,#f8d627,#f8d727,#f8d826,#f7d925,#f7d925,#f6dc23,#f5df21,#f5e11f,#f5e41d,#f5e71b,#f5e81a,#f5e919,#f5ea19,#f5eb18,#f5ec17,#f5ec17,#f5ed17,#f5ed17,#f5ee17,#f5ee16,#f5ee16,#f5ee16,#f5ee16,#f5ee16,#f5ee16,#f5ee16,#f5ee16,#f5ee16,#f5ee16,#f5ee16,#f5eb19,#f5e71b,#f5e41d,#f5e21f,#f5df21,#f6dd22,#f6db23,#f7da25,#f7d826,#f8d627,#fccd2e,#ffc436,#fabc41,#eeb94b,#e1ba52,#cebb5a,#bbbd62,#a7be6a,#92bf72,#7abf7c,#68be84,#56bd8d,#3db99e,#2bb5ab,#22b3b3)"></div><div style="height:1px;background:linear-gradient(90deg,#e0ba53,#e5b950,#ebb94d,#f1b94a,#f6ba46,#fbbc41,#fdbe3e,#fec03b,#fec239,#ffc436,#fec734,#fec832,#fdca31,#fdcb30,#fccd2e,#fcce2d,#fbcf2c,#fbd02c,#fad12b,#fad22a,#fad32a,#f9d429,#f9d528,#f8d627,#f8d727,#f7d826,#f7db24,#f6dd22,#f5e020,#f5e31e,#f5e61c,#f5e71b,#f5e81a,#f5e91a,#f5ea19,#f5eb18,#f5eb18,#f5ec18,#f5ec17,#f5ed17,#f5ee16,#f5ee16,#f5ee16,#f5ee16,#f5ee16,#f5ee16,#f5ee16,#f5ee16,#f5ee16,#f5ee16,#f5ee16,#f5ea19,#f5e71b,#f5e41d,#f5e11f,#f5de21,#f6dc23,#f7db24,#f7d925,#f8d727,#f9d528,#fdcc2f,#ffc337,#fabb42,#edb94c,#e0ba53,#cebb5b,#bbbd62,#a7be6a,#92bf73,#7abf7c,#68be84,#56bd8d,#3db99e,#2bb5ab,#22b3b3)"></div><div style="height:1px;background:linear-gradient(90deg,#daba55,#e0ba52,#e6b950,#ecb94d,#f1b949,#f7ba45,#f9bb43,#fcbd3f,#febf3c,#fec13a,#ffc437,#fec535,#fec734,#fec932,#fdca31,#fdcc2f,#fccd2e,#fcce2d,#fbcf2d,#fbd02c,#fad12b,#fad22a,#f9d329,#f9d429,#f8d628,#f8d727,#f7d925,#f6dc23,#f5df21,#f5e11f,#f5e41d,#f5e51c,#f5e61b,#f5e71b,#f5e81a,#f5e919,#f5ea19,#f5eb18,#f5ec18,#f5ed17,#f5ed17,#f5ed17,#f5ed17,#f5ed17,#f5ed17,#f5ed17,#f5ed17,#f5ed17,#f5ed17,#f5ed17,#f5ed17,#f5ea19,#f5e71b,#f5e41d,#f5e11f,#f5de21,#f6dc23,#f7da24,#f7d826,#f8d627,#f9d429,#fdcb30,#fec238,#f9bb43,#ecb94c,#dfba53,#cdbb5b,#babd62,#a7be6a,#91bf73,#7abf7c,#68be84,#56bd8d,#3db99e,#2bb5ab,#22b3b3)"></div><div style="height:1px;background:linear-gradient(90deg,#d5ba57,#dbba55,#e1ba52,#e6b94f,#ecb94c,#f1b949,#f5ba47,#f9bb44,#fbbc40,#fdbe3d,#fec13a,#ffc238,#ffc436,#fec635,#fec833,#fdca31,#fdcb30,#fdcc2f,#fccd2e,#fcce2e,#fbcf2d,#fbd02c,#fad22b,#fad32a,#f9d429,#f9d528,#f7d826,#f7db24,#f6dd22,#f5e020,#f5e31e,#f5e41d,#f5e51c,#f5e61c,#f5e71b,#f5e81a,#f5e91a,#f5ea19,#f5eb18,#f5ec17,#f5ed17,#f5ed17,#f5ed17,#f5ed17,#f5ed17,#f5ed17,#f5ed17,#f5ed17,#f5ed17,#f5ed17,#f5ed17,#f5ea19,#f5e71b,#f5e31d,#f5e120,#f6de22,#f6db23,#f7d925,#f8d727,#f9d528,#fad32a,#fdca31,#fec13a,#f8ba44,#ebb94d,#deba54,#ccbb5b,#b9bd63,#a6be6a,#91bf73,#7abf7c,#68be84,#56bd8d,#3db99e,#2bb5ab,#22b3b3)"></div><div style="height:1px;background:linear-gradient(90deg,#d0bb59,#d6ba57,#dbba55,#e1b952,#e6b94f,#ecb94c,#f0b94a,#f4ba47,#f8ba44,#fbbc41,#fdbe3e,#fec03b,#fec139,#ffc337,#fec535,#fec734,#fec832,#fdc931,#fdcb30,#fdcc2f,#fccd2e,#fcce2d,#fbd02c,#fad12b,#fad32a,#f9d429,#f8d727,#f7d925,#f6dc23,#f5df21,#f5e21f,#f5e31e,#f5e41d,#f5e51d,#f5e61c,#f5e71b,#f5e81a,#f5e919,#f5ea19,#f5ec18,#f5ed17,#f5ed17,#f5ed17,#f5ed17,#f5ed17,#f5ed17,#f5ed17,#f5ed17,#f5ed17,#f5ed17,#f5ed17,#f5ea19,#f5e61b,#f5e31e,#f5e020,#f6dd22,#f6db24,#f7d826,#f8d627,#f9d429,#fad22b,#fec932,#fec03b,#f7ba45,#eab94e,#ddba54,#cbbb5c,#b9bd63,#a6be6b,#91bf73,#7abf7c,#68be84,#56bd8d,#3db99e,#2bb5ab,#22b3b3)"></div><div style="height:1px;background:linear-gradient(90deg,#cbbb5c,#d1bb59,#d6ba57,#dcba54,#e1b952,#e6b94f,#ebb94d,#efb94b,#f3ba48,#f7ba45,#fabc41,#fcbd3f,#febf3c,#fec13a,#ffc338,#ffc536,#fec635,#fec733,#fec832,#fdca31,#fdcb30,#fccd2f,#fcce2d,#fbd02c,#fad12b,#fad32a,#f9d528,#f7d826,#f7db24,#f6dd22,#f5e020,#f5e11f,#f5e21e,#f5e31d,#f5e41d,#f5e61c,#f5e71b,#f5e81a,#f5ea19,#f5eb18,#f5ed17,#f5ed17,#f5ed17,#f5ed17,#f5ed17,#f5ed17,#f5ed17,#f5ed17,#f5ed17,#f5ed17,#f5ed17,#f5e919,#f5e61c,#f5e31e,#f5e020,#f6dd22,#f7da24,#f8d826,#f9d528,#fad32a,#fbd02c,#fec833,#febf3c,#f5ba46,#e9b94e,#dcba55,#cabb5c,#b8bd63,#a5be6b,#91bf73,#7abf7c,#68be84,#56bd8d,#3db99e,#2bb5ab,#22b3b3)"></div><div style="height:1px;background:linear-gradient(90deg,#c6bc5e,#cbbb5b,#d1bb59,#d6ba57,#dcba55,#e1ba52,#e5b950,#eab94e,#eeb94b,#f3b948,#f7ba45,#f9bb43,#fbbd40,#fdbe3d,#fec03b,#fec238,#ffc337,#fec536,#fec634,#fec833,#fec932,#fdcb30,#fccc2f,#fcce2d,#fbd02c,#fad12b,#f9d429,#f8d727,#f7d925,#f6dc23,#f5df21,#f5e020,#f5e11f,#f5e21e,#f5e31e,#f5e41d,#f5e61c,#f5e71b,#f5e91a,#f5eb18,#f5ec17,#f5ec17,#f5ec17,#f5ec17,#f5ec17,#f5ec17,#f5ec17,#f5ec17,#f5ec17,#f5ec17,#f5ec17,#f5e91a,#f5e61c,#f5e21e,#f5df20,#f6dd22,#f7da25,#f8d727,#f9d429,#fad22a,#fbcf2c,#fec734,#fdbe3d,#f4ba47,#e8b94f,#dbba55,#c9bb5c,#b8bd63,#a5be6b,#90bf73,#7abf7c,#68be84,#56bd8d,#3db99e,#2bb5ab,#22b3b3)"></div><div style="height:1px;background:linear-gradient(90deg,#c0bc60,#c6bc5e,#cbbb5b,#d1bb59,#d6ba57,#dbba55,#e0ba52,#e5b950,#eab94e,#eeb94b,#f3b948,#f6ba46,#f9bb43,#fbbc41,#fdbe3e,#fec03b,#fec13a,#ffc338,#ffc436,#fec635,#fec733,#fec932,#fdcb30,#fccc2f,#fcce2d,#fbd02c,#fad32a,#f9d528,#f7d826,#f7db24,#f6de22,#f5df21,#f5e020,#f5e11f,#f5e21f,#f5e31e,#f5e51c,#f5e71b,#f5e81a,#f5ea19,#f5ec17,#f5ec17,#f5ec17,#f5ec17,#f5ec17,#f5ec17,#f5ec17,#f5ec17,#f5ec17,#f5ec17,#f5ec17,#f5e91a,#f5e51c,#f5e21e,#f5df21,#f6dc23,#f7d925,#f8d627,#f9d429,#fbd12b,#fcce2d,#fec635,#fdbe3e,#f3ba48,#e6b94f,#d9ba55,#c9bc5d,#b7bd64,#a4be6b,#90bf73,#7abf7c,#68be84,#56bd8d,#3db99e,#2bb5ab,#22b3b3)"></div><div style="height:1px;background:linear-gradient(90deg,#bbbd62,#c0bc60,#c6bc5e,#cbbb5c,#d0bb59,#d6ba57,#dbba55,#e0ba53,#e5b950,#eab94e,#eeb94b,#f2b949,#f5ba47,#f8ba44,#fabc41,#fdbe3e,#febf3c,#fec03b,#fec239,#ffc337,#fec535,#fec733,#fec932,#fdcb30,#fccd2e,#fbcf2d,#fad12b,#f9d429,#f8d727,#f7d925,#f6dc23,#f6dd22,#f5de21,#f5e020,#f5e11f,#f5e21f,#f5e41d,#f5e61c,#f5e81a,#f5ea19,#f5ec18,#f5ec18,#f5ec18,#f5ec18,#f5ec18,#f5ec18,#f5ec18,#f5ec18,#f5ec18,#f5ec18,#f5ec18,#f5e81a,#f5e51c,#f5e21f,#f5df21,#f6dc23,#f7d925,#f8d628,#fad32a,#fbd02c,#fccd2e,#ffc536,#fcbd3f,#f2b949,#e5b950,#d8ba56,#c8bc5d,#b6bd64,#a4be6b,#90bf73,#7abf7c,#68be84,#56bd8d,#3db99e,#2bb5ab,#22b3b3)"></div><div style="height:1px;background:linear-gradient(90deg,#b7bd64,#bcbd62,#c1bc5f,#c7bc5d,#ccbb5b,#d1bb59,#d6ba57,#dbba55,#e0ba52,#e5b950,#eab94d,#eeb94b,#f1b949,#f5ba47,#f8ba44,#fabc42,#fcbd3f,#fdbe3d,#fec03b,#fec139,#ffc337,#fec535,#fec733,#fec931,#fdcb30,#fccd2e,#fbd02c,#fad32a,#f9d528,#f7d826,#f6db24,#f6dc23,#f6dd22,#f5de21,#f5df20,#f5e020,#f5e21e,#f5e41d,#f5e61b,#f5e81a,#f5eb19,#f5eb19,#f5eb18,#f5eb18,#f5eb18,#f5eb18,#f5eb18,#f5eb18,#f5eb18,#f5eb18,#f5eb18,#f5e81a,#f5e41d,#f5e11f,#f5de21,#f6db23,#f7d826,#f9d528,#fad22a,#fbcf2d,#fdcc2f,#ffc437,#fbbc41,#f0b94a,#e4b951,#d7ba57,#c6bc5d,#b5bd64,#a3be6c,#8fbf74,#79bf7d,#68be84,#56bd8d,#3cb99e,#2bb5ab,#22b3b3)"></div><div style="height:1px;background:linear-gradient(90deg,#b4bd65,#b9bd63,#bebc61,#c3bc5f,#c8bc5d,#cdbb5b,#d2bb58,#d7ba56,#dcba54,#e1b952,#e6b950,#eab94e,#edb94c,#f1b94a,#f4ba47,#f8ba45,#fabb42,#fbbd40,#fdbe3e,#febf3c,#fec13a,#ffc337,#fec635,#fec833,#fdca31,#fccc2f,#fbcf2d,#fad12b,#f9d429,#f8d627,#f7d925,#f7da24,#f6db23,#f6dc23,#f6dd22,#f5df21,#f5e020,#f5e21e,#f5e41d,#f5e61c,#f5e81a,#f5e81a,#f5e81a,#f5e81a,#f5e81a,#f5e91a,#f5e91a,#f5e91a,#f5e919,#f5e919,#f5ea19,#f5e61b,#f5e31d,#f5e120,#f6de22,#f6db24,#f8d826,#f9d429,#fad12b,#fcce2e,#fdcb30,#ffc238,#fabb42,#eeb94b,#e2b952,#d5ba57,#c4bc5e,#b3bd65,#a1be6c,#8dbf74,#78bf7d,#66be85,#54bd8e,#3bb99f,#2ab5ab,#22b3b4)"></div><div style="height:1px;background:linear-gradient(90deg,#b1bd66,#b6bd64,#bbbd62,#c0bc60,#c5bc5e,#cabb5c,#cfbb5a,#d4bb58,#d8ba56,#ddba54,#e2b951,#e6b950,#e9b94e,#edb94c,#f1b94a,#f4ba47,#f7ba45,#f9bb43,#fbbc41,#fdbe3e,#febf3c,#fec239,#ffc436,#fec634,#fec932,#fdcb30,#fcce2e,#fbd02c,#fad22a,#f9d528,#f8d726,#f7d826,#f7d925,#f7db24,#f6dc23,#f6dd22,#f5df21,#f5e020,#f5e21f,#f5e41d,#f5e51c,#f5e61c,#f5e61c,#f5e61c,#f5e61c,#f5e61b,#f5e71b,#f5e71b,#f5e71b,#f5e81a,#f5e81a,#f5e51c,#f5e21e,#f5e020,#f6dd22,#f6db24,#f8d726,#f9d429,#fbd02c,#fccd2e,#fdca31,#fec13a,#f8bb44,#ecb94c,#e0ba53,#d3bb58,#c2bc5f,#b1bd66,#9fbe6d,#8cbf75,#76bf7e,#65be86,#52bd8f,#3ab8a0,#2ab5ac,#22b3b4)"></div><div style="height:1px;background:linear-gradient(90deg,#aebe67,#b3bd65,#b8bd63,#bdbd61,#c1bc60,#c6bc5e,#cbbb5c,#d0bb5a,#d5bb58,#d9ba56,#deba53,#e2b952,#e6b950,#e9b94e,#edb94c,#f1b94a,#f3ba48,#f6ba46,#f9bb43,#fbbc41,#fdbe3e,#fec03b,#ffc238,#fec536,#fec733,#fdca31,#fccc2f,#fccf2d,#fbd12b,#f9d329,#f8d628,#f8d727,#f7d826,#f7d925,#f7da24,#f6db23,#f6dd22,#f5de21,#f5e020,#f5e11f,#f5e31e,#f5e31e,#f5e31d,#f5e41d,#f5e41d,#f5e41d,#f5e51d,#f5e51c,#f5e61c,#f5e61c,#f5e71b,#f5e41d,#f5e11f,#f5df21,#f6dd22,#f7da24,#f8d727,#fad32a,#fbcf2c,#fdcc2f,#fec832,#fec03b,#f7ba45,#ebb94d,#deba54,#d1bb59,#c0bc60,#b0be67,#9ebe6e,#8abf76,#75bf7f,#63be86,#50bc91,#38b8a1,#29b5ad,#21b3b4)"></div><div style="height:1px;background:linear-gradient(90deg,#abbe68,#b0bd66,#b5bd65,#b9bd63,#bebc61,#c2bc5f,#c7bc5d,#ccbb5b,#d1bb59,#d5ba57,#daba55,#deba53,#e2b952,#e5b950,#e9b94e,#edb94c,#f0b94a,#f3ba48,#f6ba46,#f9bb43,#fbbc41,#fdbe3d,#fec13a,#ffc337,#fec634,#fec932,#fdcb30,#fccd2e,#fbcf2c,#fad22b,#f9d429,#f9d528,#f8d627,#f8d726,#f7d925,#f7da25,#f6db24,#f6dc23,#f6de22,#f5df21,#f5e120,#f5e11f,#f5e11f,#f5e21f,#f5e21f,#f5e21e,#f5e31e,#f5e31d,#f5e41d,#f5e41d,#f5e51c,#f5e31e,#f5e020,#f5de21,#f6dc23,#f7da24,#f8d627,#fad22a,#fccf2d,#fdcb30,#fec733,#febf3c,#f5ba46,#e9b94e,#dcba54,#cfbb5a,#bfbc61,#aebe67,#9cbf6e,#89bf76,#73bf7f,#62be87,#4ebc92,#37b8a2,#29b5ad,#21b3b4)"></div><div style="height:1px;background:linear-gradient(90deg,#a8be69,#adbe68,#b1bd66,#b6bd64,#babd62,#bebc61,#c3bc5f,#c8bc5d,#cdbb5b,#d1bb59,#d6ba57,#daba55,#deba54,#e1b952,#e5b950,#e9b94e,#ecb94c,#f0b94a,#f3ba48,#f6ba46,#f9bb43,#fcbd40,#febf3c,#fec239,#fec536,#fec833,#fdca31,#fdcc2f,#fcce2e,#fbd02c,#fad22a,#f9d329,#f9d528,#f8d628,#f8d727,#f7d826,#f7d925,#f7db24,#f6dc23,#f6dd22,#f5de21,#f5df21,#f5df21,#f5df20,#f5e020,#f5e020,#f5e11f,#f5e21f,#f5e21e,#f5e31e,#f5e41d,#f5e21f,#f5df20,#f6dd22,#f6dc23,#f7da25,#f8d628,#fad22b,#fcce2e,#fdca31,#fec634,#fdbe3e,#f3ba48,#e7b94f,#daba55,#cdbb5b,#bdbd61,#acbe68,#9abf6f,#87bf77,#72bf80,#61be88,#4cbc93,#36b8a2,#28b5ad,#21b3b5)"></div><div style="height:1px;background:linear-gradient(90deg,#a6be6b,#aabe69,#aebe67,#b2bd66,#b6bd64,#bbbd62,#bfbc60,#c4bc5e,#c9bc5d,#cdbb5b,#d2bb59,#d6ba57,#daba55,#deba54,#e1b952,#e5b950,#e9b94e,#ecb94c,#f0b94a,#f3ba48,#f6ba46,#fabc42,#fdbe3e,#fec03a,#ffc337,#fec734,#fec932,#fdcb30,#fccd2f,#fccf2d,#fbd12c,#fad22b,#fad32a,#f9d429,#f9d528,#f8d727,#f8d826,#f7d925,#f7da24,#f6db24,#f6dc23,#f6dc22,#f6dd22,#f6dd22,#f5de21,#f5de21,#f5df21,#f5e020,#f5e11f,#f5e11f,#f5e21e,#f5e020,#f5de21,#f6dd22,#f6db24,#f7d925,#f9d528,#fad12b,#fccd2e,#fec932,#fec536,#fcbd3f,#f2b949,#e5b950,#d8ba56,#cabb5c,#bbbd62,#aabe69,#98bf70,#85bf78,#70bf80,#5fbe88,#4bbb94,#35b8a3,#28b5ae,#21b3b5)"></div><div style="height:1px;background:linear-gradient(90deg,#a3be6c,#a7be6a,#abbe69,#afbe67,#b3bd65,#b7bd64,#bbbd62,#c0bc60,#c5bc5e,#c9bc5c,#cebb5b,#d2bb59,#d6ba57,#daba55,#deba54,#e2b952,#e5b950,#e9b94e,#ecb94c,#f0b94a,#f4ba48,#f8ba44,#fbbd40,#febf3c,#fec238,#fec535,#fec733,#fec932,#fdcb30,#fccd2e,#fbcf2d,#fbd02c,#fad12b,#fad32a,#f9d429,#f9d528,#f8d627,#f8d727,#f7d826,#f7d925,#f7da24,#f7da24,#f6db24,#f6db23,#f6dc23,#f6dd22,#f6dd22,#f5de21,#f5df21,#f5e020,#f5e11f,#f5df21,#f6de22,#f6dc23,#f7da24,#f7d925,#f9d528,#fbd02c,#fdcc2f,#fec833,#ffc437,#fbbc41,#f0b94a,#e3b951,#d6ba57,#c8bc5d,#b9bd63,#a8be6a,#97bf71,#84bf78,#6fbf81,#5ebe89,#49bb95,#34b7a4,#27b4ae,#21b3b5)"></div><div style="height:1px;background:linear-gradient(90deg,#a0be6d,#a4be6b,#a7be6a,#abbe68,#afbe67,#b3bd65,#b7bd63,#bcbd62,#c0bc60,#c5bc5e,#c9bb5c,#cdbb5b,#d2bb59,#d6ba57,#daba55,#deba54,#e2b952,#e5b950,#e9b94e,#edb94c,#f1b94a,#f5ba46,#fabb42,#fdbe3e,#fec13a,#ffc436,#fec634,#fec833,#fdca31,#fdcb30,#fccd2e,#fcce2d,#fbd02c,#fad12b,#fad22a,#f9d429,#f9d429,#f9d528,#f8d627,#f8d727,#f8d826,#f7d826,#f7d925,#f7da25,#f7da24,#f6db24,#f6dc23,#f6dd22,#f6dd22,#f5de21,#f5df20,#f5de21,#f6dd22,#f6db23,#f7da24,#f7d925,#f9d429,#fbd02c,#fdcb30,#fec734,#ffc338,#fabb42,#eeb94b,#e1b952,#d4bb58,#c6bc5e,#b7bd64,#a6be6a,#95bf71,#82bf79,#6dbf82,#5dbe8a,#47bb97,#33b7a5,#27b4af,#21b3b5)"></div><div style="height:1px;background:linear-gradient(90deg,#9dbf6e,#a0be6d,#a4be6b,#a8be6a,#abbe68,#afbe67,#b3bd65,#b8bd63,#bcbd62,#c1bc60,#c5bc5e,#c9bb5c,#cebb5b,#d2bb59,#d6ba57,#daba55,#deba53,#e2b952,#e6b950,#eab94e,#eeb94b,#f3ba48,#f8ba44,#fbbd40,#fec03b,#ffc337,#fec536,#fec634,#fec832,#fdca31,#fdcc30,#fccd2e,#fcce2d,#fbcf2c,#fbd12b,#fad22a,#fad32a,#f9d429,#f9d429,#f9d528,#f8d628,#f8d627,#f8d727,#f8d826,#f7d826,#f7d925,#f7da24,#f6db24,#f6dc23,#f6dd22,#f5de21,#f6dd22,#f6dc23,#f7db24,#f7d925,#f7d826,#f9d429,#fbcf2d,#fdcb30,#fec635,#fec139,#f8bb44,#ecb94c,#dfba53,#d2bb59,#c4bc5e,#b5bd65,#a4be6b,#93bf72,#80bf7a,#6cbf82,#5bbe8a,#45bb98,#32b7a5,#26b4af,#20b2b5)"></div><div style="height:1px;background:linear-gradient(90deg,#96bf71,#9bbf6f,#9fbe6d,#a3be6c,#a7be6a,#aabe69,#afbe67,#b4bd65,#b9bd63,#bdbc61,#c2bc5f,#c6bc5d,#cbbb5c,#d0bb5a,#d4bb58,#d8ba56,#ddba54,#e1ba52,#e5b950,#e9b94e,#edb94c,#f2b949,#f7ba45,#fbbc41,#febf3c,#ffc238,#ffc437,#fec535,#fec733,#fec932,#fdca31,#fdcc30,#fccd2f,#fcce2d,#fbcf2c,#fbd12c,#fad12b,#fad22a,#fad32a,#fad329,#f9d429,#f9d528,#f9d528,#f8d627,#f8d727,#f8d726,#f7d826,#f7d925,#f7da24,#f6db23,#f6dc23,#f6db23,#f7da24,#f7d925,#f7d826,#f8d726,#fad22a,#fcce2e,#fec932,#ffc436,#febf3c,#f5ba46,#e9b94e,#dbba55,#cebb5a,#c0bc60,#b0bd66,#a0be6d,#8fbf74,#7cbf7c,#67be85,#57bd8c,#40ba9b,#2fb6a8,#25b4b1,#20b2b6)"></div><div style="height:1px;background:linear-gradient(90deg,#8dbf75,#92bf72,#97bf70,#9cbf6e,#a1be6c,#a6be6a,#abbe68,#b0bd66,#b6bd64,#bbbd62,#c0bc60,#c5bc5e,#cabb5c,#cfbb5a,#d4bb58,#d9ba55,#deba54,#e2b952,#e6b950,#eab94e,#eeb94b,#f3b948,#f7ba45,#fbbc41,#febf3d,#fec239,#ffc337,#fec536,#fec634,#fec833,#fec931,#fdca31,#fdcc30,#fccd2f,#fcce2e,#fbcf2d,#fbd02c,#fbd02c,#fbd12b,#fad22b,#fad22a,#fad32a,#f9d429,#f9d429,#f9d528,#f8d628,#f8d627,#f8d726,#f7d825,#f7d925,#f7da24,#f7da25,#f7d925,#f7d826,#f8d727,#f8d627,#fbd12b,#fdcc30,#fec634,#fec13a,#fbbd40,#f0b94a,#e3b951,#d5ba57,#c8bc5d,#b9bd63,#a9be69,#99bf70,#87bf77,#74bf7f,#5fbe89,#4dbc93,#38b8a1,#2bb5ab,#23b3b2,#20b2b7)"></div><div style="height:1px;background:linear-gradient(90deg,#83bf79,#89bf76,#8fbf74,#95bf71,#9bbf6f,#a1be6c,#a7be6a,#adbe68,#b2bd65,#b8bd63,#bebc61,#c3bc5f,#c9bb5c,#cfbb5a,#d5ba57,#daba55,#dfba53,#e3b951,#e7b94f,#ebb94d,#efb94b,#f3ba48,#f7ba45,#fbbc41,#fdbe3d,#fec139,#ffc338,#ffc436,#fec535,#fec734,#fec832,#fec931,#fdca31,#fdcb30,#fccc2f,#fccd2e,#fcce2e,#fccf2d,#fbcf2d,#fbd02c,#fbd12c,#fad12b,#fad22a,#fad32a,#fad329,#f9d429,#f9d528,#f8d628,#f8d727,#f8d826,#f7d825,#f8d826,#f8d727,#f8d627,#f9d528,#f9d528,#fbcf2d,#fdc931,#ffc437,#fdbe3d,#f8ba44,#ebb94d,#deba54,#d0bb5a,#c1bc5f,#b2bd65,#a3be6c,#92bf73,#7fbf7a,#6bbf83,#57bd8d,#42ba9a,#32b7a6,#27b4ae,#21b3b4,#20b2b7)"></div><div style="height:1px;background:linear-gradient(90deg,#78bf7d,#80bf7a,#87bf77,#8ebf74,#95bf71,#9cbf6e,#a3be6c,#a9be69,#afbe67,#b5bd64,#bbbd62,#c2bc5f,#c9bc5d,#cfbb5a,#d5ba57,#dcba55,#e0ba53,#e4b951,#e8b94f,#ecb94d,#f0b94a,#f4ba47,#f8ba44,#fbbc41,#fdbe3d,#fec13a,#fec239,#ffc337,#ffc536,#fec635,#fec733,#fec832,#fec932,#fdca31,#fdcb30,#fdcc30,#fccc2f,#fccd2e,#fcce2e,#fcce2d,#fbcf2d,#fbd02c,#fbd02c,#fbd12b,#fad22b,#fad22a,#fad32a,#f9d429,#f9d528,#f8d628,#f8d727,#f8d627,#f9d528,#f9d528,#f9d429,#f9d329,#fccd2e,#fec733,#fec139,#fbbc41,#f4ba48,#e6b950,#d8ba56,#cabb5c,#bbbd62,#acbe68,#9bbf6f,#8abf76,#77bf7e,#63be87,#4abb94,#39b8a0,#2cb6aa,#24b4b1,#20b2b5,#20b2b8)"></div><div style="height:1px;background:linear-gradient(90deg,#6dbf82,#76bf7e,#7fbf7a,#87bf77,#8fbf73,#97bf70,#9ebe6d,#a5be6b,#acbe68,#b3bd65,#b9bd63,#c0bc60,#c8bc5d,#cfbb5a,#d6ba57,#ddba54,#e1ba52,#e5b950,#e9b94e,#edb94c,#f1b94a,#f4ba47,#f8ba44,#fbbc41,#fdbe3e,#fec03b,#fec139,#ffc338,#ffc437,#fec535,#fec634,#fec734,#fec833,#fec832,#fec932,#fdca31,#fdcb30,#fdcb30,#fdcc2f,#fccd2f,#fccd2e,#fcce2e,#fccf2d,#fbcf2d,#fbd02c,#fbd12c,#fad12b,#fad22a,#fad32a,#f9d429,#f9d528,#f9d429,#f9d429,#fad32a,#fad32a,#fad22a,#fdcc2f,#fec535,#febf3c,#f8ba44,#efb94b,#e1ba52,#d2bb58,#c4bc5e,#b5bd65,#a5be6b,#94bf72,#82bf79,#6fbf81,#5abd8b,#3fb99c,#32b7a6,#28b5ae,#22b3b3,#20b2b7,#20b2b9)"></div><div style="height:1px;background:linear-gradient(90deg,#62be87,#6cbf82,#76bf7e,#80bf7a,#89bf76,#92bf72,#9abf6f,#a2be6c,#a9be69,#b0bd66,#b7bd64,#bfbc60,#c7bc5d,#cebb5a,#d6ba57,#deba54,#e2b952,#e6b950,#eab94e,#eeb94b,#f2b949,#f5ba47,#f8ba44,#fbbc41,#fdbe3e,#fec03b,#fec13a,#fec239,#ffc337,#ffc436,#fec535,#fec635,#fec634,#fec733,#fec833,#fec832,#fec932,#fdca31,#fdca31,#fdcb30,#fdcc30,#fccc2f,#fccd2e,#fcce2e,#fcce2d,#fbcf2d,#fbd02c,#fbd02c,#fad12b,#fad22a,#fad32a,#fad22a,#fad22a,#fad22b,#fad12b,#fbd12b,#fdca31,#ffc337,#fcbd3f,#f4ba47,#eab94e,#dbba55,#cdbb5b,#bebc61,#aebe67,#9dbe6e,#8cbf75,#7abf7c,#66be85,#50bc91,#36b8a3,#2bb5ab,#25b4b1,#21b3b5,#20b2b7,#1fb1ba)"></div><div style="height:1px;background:linear-gradient(90deg,#57bd8d,#62be87,#6dbf82,#78bf7d,#83bf79,#8dbf74,#96bf71,#9ebe6e,#a6be6b,#adbe68,#b5bd65,#bdbc61,#c6bc5e,#cebb5a,#d6ba57,#dfba53,#e3b951,#e7b94f,#ebb94d,#efb94b,#f3b948,#f6ba46,#f9bb44,#fbbc41,#fdbe3e,#febf3c,#fec03b,#fec139,#ffc238,#ffc337,#ffc436,#fec536,#fec535,#fec635,#fec634,#fec734,#fec733,#fec833,#fec932,#fec931,#fdca31,#fdcb30,#fdcb30,#fdcc2f,#fccd2f,#fccd2e,#fcce2d,#fbcf2d,#fbd02c,#fbd02c,#fad12b,#fbd12b,#fbd02c,#fbd02c,#fbd02c,#fbcf2c,#fec832,#fec13a,#f9bb43,#f0b94a,#e5b950,#d6ba57,#c7bc5d,#b8bd63,#a7be6a,#96bf71,#85bf78,#72bf80,#5ebe89,#44ba99,#2eb6a9,#27b4af,#22b3b3,#20b2b6,#20b2b8,#1eb0bb)"></div><div style="height:1px;background:linear-gradient(90deg,#46bb97,#58bd8c,#64be86,#70bf80,#7cbf7b,#88bf77,#91bf73,#9abf6f,#a2be6c,#aabe69,#b2bd65,#bcbd62,#c5bc5e,#cebb5a,#d7ba57,#e0ba53,#e4b951,#e8b94f,#ecb94d,#f0b94a,#f4ba48,#f6ba46,#f9bb44,#fbbc41,#fcbd3f,#febf3c,#fec03b,#fec13a,#fec239,#ffc238,#ffc337,#ffc437,#ffc436,#ffc436,#ffc536,#fec535,#fec635,#fec634,#fec734,#fec833,#fec832,#fec932,#fdca31,#fdca31,#fdcb30,#fdcc30,#fccc2f,#fccd2e,#fcce2e,#fccf2d,#fbcf2c,#fbcf2d,#fbcf2d,#fccf2d,#fcce2d,#fcce2d,#fec634,#febf3c,#f6ba46,#ebb94d,#e0ba53,#d1bb59,#c1bc5f,#b1bd66,#a0be6d,#8ebf74,#7cbf7b,#69be84,#55bd8d,#39b8a0,#28b5ad,#23b3b2,#21b3b5,#20b2b7,#1fb1b9,#1dafbd)"></div><div style="height:1px;background:linear-gradient(90deg,#38b8a1,#49bb95,#5bbd8b,#68be84,#76bf7e,#82bf79,#8cbf75,#96bf71,#9fbe6d,#a8be6a,#b0bd66,#babd62,#c4bc5e,#cebb5a,#d7ba56,#e1ba52,#e5b950,#e9b94e,#edb94c,#f1b94a,#f4ba47,#f7ba45,#f9bb43,#fabc41,#fcbd3f,#fdbe3d,#febf3c,#fec03b,#fec13a,#fec239,#ffc238,#ffc338,#ffc338,#ffc338,#ffc337,#ffc337,#ffc436,#ffc536,#fec535,#fec635,#fec734,#fec733,#fec833,#fec932,#fec931,#fdca31,#fdcb30,#fdcb30,#fdcc2f,#fccd2f,#fccd2e,#fccd2e,#fccd2e,#fccd2e,#fccd2e,#fccd2f,#fec536,#fcbd3f,#f3b948,#e7b94f,#dbba55,#cbbb5b,#bbbd62,#abbe68,#99bf6f,#86bf77,#74bf7f,#60be88,#48bb96,#31b7a6,#24b4b1,#21b3b5,#20b2b7,#20b2b8,#1eb0bb,#1caebe)"></div><div style="height:1px;background:linear-gradient(90deg,#2db6a9,#3cb99e,#50bc91,#60be88,#6fbf81,#7dbf7b,#88bf77,#92bf73,#9cbf6f,#a5be6b,#aebe67,#b9bd63,#c3bc5f,#cebb5a,#d8ba56,#e2b952,#e6b950,#eab94e,#eeb94b,#f2b949,#f5ba46,#f7ba45,#f9bb43,#fabc41,#fcbd3f,#fdbe3e,#febf3d,#febf3c,#fec03b,#fec13a,#fec139,#fec139,#fec139,#fec239,#fec239,#fec239,#ffc238,#ffc337,#ffc437,#ffc436,#fec535,#fec635,#fec634,#fec734,#fec833,#fec832,#fec932,#fdca31,#fdca31,#fdcb30,#fdcc2f,#fdcc2f,#fdcc30,#fdcc30,#fdcb30,#fdcb30,#ffc337,#fabc42,#efb94b,#e2b951,#d5ba57,#c6bc5e,#b6bd64,#a4be6b,#92bf72,#7ebf7b,#6bbf83,#57bd8c,#3db99e,#2ab5ac,#21b3b4,#20b2b6,#20b2b8,#1fb1ba,#1dafbd,#1baec0)"></div><div style="height:1px;background:linear-gradient(90deg,#28b5ae,#33b7a5,#44ba99,#58bd8c,#67be85,#76bf7e,#81bf79,#8cbf75,#96bf71,#a0be6d,#a9be69,#b5bd64,#c0bc60,#cbbb5b,#d6ba57,#e1ba52,#e5b950,#e9b94e,#edb94c,#f1b94a,#f5ba47,#f7ba45,#f9bb44,#fabc42,#fbbd40,#fdbe3e,#fdbe3d,#febf3d,#febf3c,#fec03b,#fec13a,#fec13a,#fec13a,#fec13a,#fec13a,#fec13a,#fec139,#fec239,#ffc338,#ffc337,#ffc437,#ffc436,#fec535,#fec635,#fec634,#fec734,#fec634,#fec635,#fec535,#ffc536,#ffc436,#ffc437,#ffc337,#ffc238,#fec239,#fec13a,#f9bb43,#eeb94b,#e2b952,#d5ba57,#c9bc5c,#b9bd63,#a9be69,#97bf70,#84bf78,#70bf81,#5dbe89,#45bb98,#30b7a7,#24b4b1,#20b2b7,#20b2b8,#1eb1ba,#1cafbd,#1aadc0,#18acc3)"></div><div style="height:1px;background:linear-gradient(90deg,#25b4b0,#2eb6a9,#3bb99f,#4fbc92,#5fbe89,#6dbf82,#78bf7d,#84bf78,#8ebf74,#99bf70,#a2be6c,#afbe67,#bbbd62,#c7bc5d,#d2bb58,#deba54,#e2b952,#e6b94f,#ebb94d,#efb94b,#f3ba48,#f5ba46,#f7ba45,#f9bb43,#fbbc41,#fcbd3f,#fdbe3e,#fdbe3d,#febf3c,#fec03b,#fec03b,#fec03b,#fec03b,#fec03b,#fec03b,#fec03b,#fec13a,#fec139,#fec239,#ffc338,#ffc337,#ffc437,#ffc436,#ffc536,#fec535,#fec535,#ffc338,#fec03b,#fcbd3f,#f9bb43,#f6ba46,#f3ba48,#f1b94a,#eeb94b,#ebb94d,#e9b94e,#dfba53,#d4bb58,#cabb5c,#bfbc60,#b4bd65,#a5be6b,#94bf72,#82bf79,#6fbf81,#5bbd8b,#45ba98,#32b7a6,#26b4af,#20b2b5,#20b2b8,#1eb0bb,#1baebe,#19adc1,#17abc4,#16a9c7)"></div><div style="height:1px;background:linear-gradient(90deg,#23b3b3,#29b5ac,#34b7a4,#44ba99,#57bd8d,#64be86,#70bf81,#7bbf7c,#86bf77,#91bf73,#9bbf6f,#a9be69,#b6bd64,#c2bc5f,#cfbb5a,#daba55,#dfba53,#e4b951,#e8b94f,#edb94c,#f1b949,#f4ba48,#f6ba46,#f8ba44,#fabc42,#fbbd40,#fcbd3f,#fdbe3e,#febe3d,#febf3c,#fec03b,#fec03b,#fec03b,#fec03b,#fec03b,#fec03b,#fec13a,#fec13a,#fec239,#fec239,#ffc238,#ffc338,#ffc337,#ffc337,#ffc437,#ffc436,#febf3c,#f9bb43,#f2b949,#eab94d,#e2b951,#deba54,#d9ba56,#d4bb58,#d0bb5a,#cbbb5c,#c2bc5f,#babd63,#b1bd66,#a8be6a,#9ebe6e,#8ebf74,#7dbf7b,#6bbf83,#58bd8c,#3fb99c,#30b6a7,#26b4b0,#21b3b5,#20b2b8,#1db0bc,#1baebf,#18acc3,#16aac6,#16a8c8,#16a6ca)"></div><div style="height:1px;background:linear-gradient(90deg,#21b3b4,#26b4b0,#2eb6a9,#3ab9a0,#4abb94,#5bbd8b,#67be85,#73bf80,#7ebf7b,#89bf76,#93bf72,#a2be6c,#b0bd66,#bebc61,#cbbb5c,#d7ba56,#dcba54,#e1b952,#e6b950,#ebb94d,#efb94b,#f2b949,#f4ba47,#f7ba45,#f9bb43,#fbbc41,#fcbd40,#fcbd3f,#fdbe3d,#febf3c,#fec03b,#fec03b,#fec03b,#fec03b,#fec03b,#fec03b,#fec03b,#fec13a,#fec13a,#fec139,#fec239,#fec239,#ffc238,#ffc238,#ffc338,#ffc338,#fbbc41,#f1b94a,#e5b950,#daba55,#cebb5b,#c7bc5d,#c0bc60,#b9bd63,#b2bd66,#abbe68,#a4be6b,#9dbf6e,#95bf71,#8ebf74,#86bf77,#76bf7e,#64be86,#52bd8f,#3ab9a0,#2ab5ac,#24b4b2,#20b2b6,#20b2b8,#1db0bc,#1aadc0,#18abc4,#16a9c7,#16a7c8,#16a5ca,#16a2cc)"></div><div style="height:1px;background:linear-gradient(90deg,#20b2b6,#23b3b2,#29b5ad,#32b7a5,#3fb99c,#50bc91,#5ebe89,#6abe84,#76bf7e,#81bf79,#8cbf75,#9cbf6e,#abbe68,#b9bd63,#c7bc5d,#d4bb58,#d9ba55,#deba53,#e3b951,#e8b94e,#edb94c,#f0b94a,#f3ba48,#f6ba46,#f8ba44,#fabc42,#fbbc40,#fcbd3f,#fdbe3e,#febf3d,#febf3c,#febf3c,#febf3c,#febf3c,#febf3c,#febf3c,#fec03b,#fec03b,#fec03a,#fec13a,#fec13a,#fec139,#fec139,#fec139,#fec139,#fec239,#f7ba45,#e8b94f,#d8ba56,#c9bc5d,#b8bd63,#afbe67,#a6be6b,#9cbf6e,#92bf73,#87bf77,#82bf79,#7cbf7b,#76bf7e,#70bf80,#6abe83,#5bbd8b,#46bb98,#33b7a5,#27b4ae,#21b3b5,#20b2b7,#1fb2b9,#1dafbd,#1aadc0,#17abc4,#16a9c7,#16a6c9,#16a4cb,#16a1cd,#179ece)"></div><div style="height:1px;background:linear-gradient(90deg,#20b2b7,#21b3b4,#25b4b0,#2cb6aa,#36b8a3,#43ba9a,#55bd8e,#61be88,#6dbf82,#78bf7d,#84bf78,#95bf71,#a5be6b,#b5bd65,#c3bc5f,#d1bb59,#d6ba57,#dcba54,#e1ba52,#e6b950,#ebb94d,#eeb94b,#f1b949,#f4ba47,#f7ba45,#f9bb42,#fabc41,#fbbd40,#fcbd3f,#fdbe3d,#febf3c,#febf3c,#febf3c,#febf3c,#febf3c,#febf3c,#febf3c,#fec03b,#fec03b,#fec03b,#fec13a,#fec03a,#fec03a,#fec03b,#fec03b,#fec03b,#f1b949,#deba53,#cbbb5c,#b7bd64,#a1be6c,#95bf71,#88bf76,#7abf7c,#6cbf83,#5dbe8a,#5abd8b,#57bd8d,#53bd8e,#4fbc92,#4abb95,#38b8a1,#2bb5ab,#23b3b2,#20b2b6,#1fb1b9,#1db0bc,#1baebf,#19acc2,#17abc5,#16a9c7,#16a6c9,#16a3cb,#16a1ce,#179dce,#199acf)"></div><div style="height:1px;background:linear-gradient(90deg,#20b2b8,#20b2b6,#23b3b3,#27b4ae,#2eb6a9,#38b8a1,#47bb97,#58bd8c,#64be86,#70bf81,#7bbf7c,#8ebf74,#a0be6d,#b0bd66,#bfbc60,#cebb5a,#d4bb58,#d9ba56,#deba53,#e4b951,#e9b94e,#edb94c,#f0b94a,#f3ba48,#f6ba46,#f9bb43,#fabc42,#fbbc41,#fcbd3f,#fdbe3e,#febf3c,#febf3c,#febf3c,#febf3c,#febf3c,#febf3c,#febf3c,#febf3c,#febf3c,#fec03b,#fec03b,#fec03b,#fec03c,#febf3c,#febf3c,#febf3c,#ecb94d,#d5ba57,#bdbc61,#a4be6b,#88bf77,#77bf7d,#66be85,#54bd8e,#3bb99f,#2bb5ab,#2bb5ab,#2bb5ab,#2bb5ab,#2bb5ab,#2bb5ab,#24b4b2,#20b2b6,#20b2b8,#1db0bc,#1aadc1,#18acc3,#16aac5,#16a9c7,#16a7c8,#16a6c9,#16a3cc,#16a0ce,#189dcf,#1999cf,#1b95d0)"></div><div style="height:1px;background:linear-gradient(90deg,#20b2b9,#20b2b7,#21b3b5,#23b3b2,#28b5ad,#2fb6a8,#3bb99f,#4bbb94,#5bbd8b,#67be85,#73bf80,#87bf77,#9abf6f,#abbe68,#bbbd62,#cbbb5c,#d1bb59,#d6ba57,#dcba54,#e2b952,#e7b94f,#ebb94d,#eeb94b,#f2b949,#f5ba47,#f8ba44,#f9bb43,#fabc41,#fcbd40,#fdbe3e,#febe3d,#febe3d,#febe3d,#febe3d,#febe3d,#febe3d,#febf3d,#febf3c,#febf3c,#febf3c,#febf3c,#febf3c,#febf3d,#fdbe3d,#fdbe3d,#fdbe3e,#e6b94f,#cbbb5b,#afbe67,#90bf73,#6bbf83,#57bd8d,#3bb99f,#29b5ad,#21b3b5,#1fb1b9,#20b2b8,#20b2b8,#20b2b7,#20b2b7,#20b2b6,#20b2b8,#1db0bc,#1aadc0,#17abc5,#16a8c8,#16a7c8,#16a6c9,#16a5ca,#16a4cb,#16a3cc,#16a0ce,#189ccf,#1999cf,#1b95d0,#1d91d0)"></div><div style="height:1px;background:linear-gradient(90deg,#1eb0bb,#20b2b8,#20b2b7,#21b3b4,#24b4b1,#28b5ad,#32b7a6,#3fb99c,#50bc91,#5ebe89,#6abe84,#80bf7a,#94bf72,#a6be6a,#b7bd63,#c8bc5d,#cebb5a,#d4bb58,#daba55,#dfba53,#e5b950,#e9b94e,#edb94c,#f0b94a,#f4ba47,#f7ba45,#f9bb43,#fabc42,#fbbc40,#fcbd3f,#fdbe3d,#fdbe3d,#fdbe3d,#fdbe3d,#fdbe3d,#fdbe3d,#fdbe3d,#fdbe3d,#febe3d,#febf3d,#febf3d,#fdbe3d,#fdbe3e,#fdbe3e,#fcbd3f,#fcbd40,#e1ba52,#c2bc5f,#a0be6d,#79bf7d,#49bb95,#2fb6a8,#22b3b4,#20b2b9,#1aadc1,#16a7c8,#16a9c7,#17aac5,#18acc3,#1aadc1,#1baebe,#19acc2,#16aac6,#16a8c8,#16a5ca,#16a2cc,#16a2cc,#16a2cd,#16a1cd,#16a1cd,#16a0ce,#189ccf,#1a98cf,#1b94d0,#1d90d0,#1f8ccf)"></div><div style="height:1px;background:linear-gradient(90deg,#1dafbd,#1fb1ba,#20b2b8,#20b2b6,#21b3b4,#24b4b2,#2ab5ac,#34b7a4,#43ba9a,#55bd8e,#61be88,#78bf7d,#8ebf74,#a1be6c,#b3bd65,#c5bc5e,#cbbb5c,#d1bb59,#d7ba56,#ddba54,#e3b951,#e7b94f,#ebb94d,#efb94b,#f3b948,#f6ba46,#f8ba44,#f9bb43,#fbbc41,#fcbd3f,#fdbe3e,#fdbe3e,#fdbe3e,#fdbe3e,#fdbe3e,#fdbe3e,#fdbe3e,#fdbe3e,#fdbe3d,#fdbe3d,#fdbe3d,#fdbe3e,#fcbd3f,#fcbd40,#fbbc40,#fabc41,#dbba55,#b8bd63,#90bf73,#61be88,#29b5ac,#20b2b6,#1cafbd,#16a9c6,#16a3cc,#199bcf,#179ece,#16a1ce,#16a3cc,#16a5ca,#16a8c8,#16a6ca,#16a3cb,#16a1cd,#179fce,#189ccf,#189ccf,#189ccf,#189ccf,#189ccf,#189dcf,#1999cf,#1b94d0,#1d90d0,#208bcf,#2287ce)"></div><div style="height:1px;background:linear-gradient(90deg,#1eb0bb,#20b2b9,#20b2b7,#20b2b6,#21b3b4,#24b4b2,#2ab5ac,#33b7a5,#40ba9b,#51bc90,#5ebe89,#74bf7f,#8abf76,#9dbe6e,#afbe67,#c0bc60,#c6bc5e,#ccbb5b,#d2bb59,#d8ba56,#deba53,#e2b952,#e6b950,#eab94e,#eeb94b,#f2b949,#f4ba47,#f6ba46,#f8ba44,#f9bb43,#fbbc41,#fbbc41,#fbbc41,#fbbc41,#fbbc40,#fbbc40,#fbbc40,#fbbc40,#fbbc40,#fbbc40,#fbbc40,#fabc41,#fabc42,#f9bb43,#f8bb44,#f7ba45,#d5ba57,#b0bd67,#85bf78,#50bc91,#21b3b4,#1eb0bb,#17abc5,#16a4cb,#189bcf,#1d92d0,#1b95d0,#1a98cf,#189ccf,#179fce,#16a2cd,#16a0ce,#179dce,#189bcf,#1a98cf,#1b96d0,#1a96cf,#1a97cf,#1a97cf,#1a98cf,#1a98cf,#1b94d0,#1d90d0,#208bcf,#2287ce,#2482cd)"></div><div style="height:1px;background:linear-gradient(90deg,#20b2b8,#20b2b7,#21b3b5,#22b3b3,#25b4b0,#28b5ad,#30b6a7,#3ab99f,#47bb96,#56bd8d,#61be88,#75bf7f,#88bf76,#9abf6f,#aabe69,#b9bd63,#bfbc60,#c5bc5e,#cbbb5c,#d0bb59,#d6ba57,#daba55,#deba54,#e2b952,#e6b950,#e9b94e,#ecb94c,#eeb94b,#f1b94a,#f3ba48,#f5ba46,#f6ba46,#f6ba46,#f6ba46,#f6ba45,#f7ba45,#f7ba45,#f7ba45,#f7ba45,#f7ba45,#f7ba45,#f6ba46,#f5ba47,#f4ba48,#f2b948,#f1b949,#cfbb5a,#aabe69,#7fbf7a,#48bb96,#21b2b5,#1dafbd,#16a9c7,#16a2cc,#1999cf,#1e8fcf,#1d92d0,#1b94d0,#1a97cf,#199acf,#189ccf,#199acf,#1a98cf,#1b96d0,#1c93d0,#1d91d0,#1d91d0,#1d92d0,#1c92d0,#1c93d0,#1c93d0,#1e8fcf,#208bcf,#2286ce,#2482ce,#267ecc)"></div><div style="height:1px;background:linear-gradient(90deg,#21b3b5,#22b3b3,#24b4b1,#27b4ae,#2bb5ab,#2fb6a8,#38b8a1,#43ba9a,#50bc91,#5bbd8b,#64be86,#76bf7e,#86bf77,#96bf71,#a5be6b,#b2bd65,#b8bd63,#bebc61,#c3bc5f,#c8bc5d,#cebb5b,#d1bb59,#d5ba57,#d9ba56,#ddba54,#e1ba52,#e4b951,#e6b94f,#e9b94e,#ecb94c,#efb94b,#efb94b,#f0b94a,#f0b94a,#f1b94a,#f1b949,#f1b949,#f1b949,#f1b949,#f1b949,#f1b949,#f0b94a,#efb94b,#edb94c,#ecb94c,#ebb94d,#c9bc5c,#a4be6b,#78bf7d,#40ba9b,#20b2b6,#1baebe,#16a8c8,#16a0ce,#1a96cf,#1f8ccf,#1e8ecf,#1d90d0,#1c92d0,#1b94d0,#1b96d0,#1b94d0,#1c92d0,#1d90d0,#1e8ecf,#1f8ccf,#1f8ccf,#1f8ccf,#1f8ccf,#1f8dcf,#1f8dcf,#2189cf,#2286ce,#2482cd,#267ecc,#287acb)"></div><div style="height:1px;background:linear-gradient(90deg,#25b4b0,#28b5ae,#2bb5ab,#2eb6a8,#33b7a5,#38b8a1,#41ba9b,#4cbc93,#57bd8c,#5fbe89,#67be85,#76bf7e,#85bf78,#92bf72,#9fbe6d,#acbe68,#b1bd66,#b6bd64,#bbbd62,#c0bc60,#c5bc5e,#c9bc5c,#cdbb5b,#d1bb59,#d4bb58,#d8ba56,#dbba55,#deba53,#e2b952,#e5b950,#e8b94f,#e8b94e,#e9b94e,#eab94e,#ebb94d,#ebb94d,#ebb94d,#ebb94d,#ebb94d,#ebb94d,#ebb94d,#eab94e,#e9b94e,#e7b94f,#e6b950,#e4b950,#c3bc5f,#9ebe6e,#72bf80,#39b8a0,#20b2b7,#1aadc0,#16a6c9,#179ece,#1c94d0,#2189cf,#208acf,#208bcf,#1f8dcf,#1e8ecf,#1d90d0,#1e8ecf,#1f8ccf,#208acf,#2188cf,#2286ce,#2286ce,#2286ce,#2287ce,#2287ce,#2287ce,#2384ce,#2580cd,#267dcc,#2879cb,#2975ca)"></div><div style="height:1px;background:linear-gradient(90deg,#2db6aa,#30b7a7,#34b7a4,#38b8a1,#3db99d,#43ba9a,#4cbc93,#56bd8d,#5cbe8a,#63be87,#6abe84,#77bf7e,#83bf79,#8fbf74,#9abf6f,#a5be6b,#aabe69,#aebe67,#b3bd65,#b8bd63,#bcbd61,#c0bc60,#c4bc5e,#c8bc5d,#ccbb5b,#cfbb5a,#d3bb58,#d6ba57,#daba55,#ddba54,#e1ba52,#e2b952,#e2b951,#e3b951,#e4b950,#e5b950,#e5b950,#e5b950,#e5b950,#e5b950,#e5b950,#e4b951,#e2b951,#e1ba52,#dfba53,#deba53,#bcbd62,#97bf70,#6cbf83,#34b7a4,#20b2b8,#19acc2,#16a5ca,#189ccf,#1d91d0,#2286ce,#2286ce,#2287ce,#2188ce,#2188cf,#2189cf,#2187ce,#2286ce,#2384ce,#2482ce,#2580cd,#2581cd,#2481cd,#2481cd,#2481cd,#2481cd,#267ecc,#277bcc,#2877cb,#2a74ca,#2b71c9)"></div><div style="height:1px;background:linear-gradient(90deg,#39b8a0,#3db99e,#41ba9b,#46bb98,#4abb94,#50bc91,#57bd8c,#5cbe8a,#62be87,#67be85,#6dbf82,#77bf7e,#81bf79,#8bbf75,#94bf71,#9dbe6e,#a2be6c,#a7be6a,#abbe68,#afbe67,#b4bd65,#b7bd63,#bbbd62,#bfbc60,#c3bc5f,#c6bc5d,#cabb5c,#cebb5a,#d2bb59,#d6ba57,#d9ba55,#dbba55,#dcba54,#ddba54,#deba53,#dfba53,#dfba53,#dfba53,#dfba53,#dfba53,#dfba53,#deba54,#dcba54,#daba55,#d9ba56,#d7ba56,#b6bd64,#91bf73,#65be86,#2eb6a8,#1fb2b9,#17abc4,#16a3cb,#199acf,#1e8fcf,#2482ce,#2482ce,#2482ce,#2482ce,#2482ce,#2482cd,#2580cd,#257fcd,#267ecc,#267ccc,#277bcc,#277bcc,#277bcc,#277bcc,#277acc,#277acc,#2878cb,#2a75ca,#2b72c9,#2c6fc8,#2d6cc7)"></div><div style="height:1px;background:linear-gradient(90deg,#49bb95,#4dbc92,#52bc90,#55bd8d,#58bd8c,#5bbd8b,#5fbe89,#63be87,#67be85,#6cbf83,#70bf81,#78bf7d,#80bf7a,#88bf77,#8fbf74,#96bf71,#9abf6f,#9ebe6d,#a2be6c,#a7be6a,#aabe69,#aebe67,#b2bd66,#b6bd64,#babd63,#bdbd61,#c2bc5f,#c6bc5e,#cabb5c,#cebb5a,#d2bb59,#d4bb58,#d5ba57,#d6ba57,#d8ba56,#d9ba56,#d9ba56,#d9ba56,#d9ba56,#d9ba56,#d9ba56,#d7ba56,#d6ba57,#d4bb58,#d2bb59,#d0bb59,#afbe67,#8abf76,#5ebe89,#2ab5ac,#1eb1bb,#16aac6,#16a2cd,#1a98cf,#1f8ccf,#257fcd,#267ecd,#267dcc,#267ccc,#277bcc,#277bcc,#2879cb,#2878cb,#2977cb,#2976cb,#2a75ca,#2a75ca,#2a75ca,#2a74ca,#2a74ca,#2a74ca,#2b72c9,#2c6fc8,#2d6dc8,#2e6ac7,#3068c6)"></div><div style="height:1px;background:linear-gradient(90deg,#5abd8b,#5cbe8a,#5ebe89,#60be88,#62be87,#64be86,#67be85,#6abe84,#6dbf82,#70bf81,#73bf80,#78bf7d,#7ebf7b,#84bf78,#89bf76,#8ebf74,#92bf72,#96bf71,#9abf6f,#9dbe6e,#a1be6c,#a5be6b,#a9be69,#adbe68,#b0bd66,#b4bd65,#b9bd63,#bdbd61,#c2bc5f,#c6bc5d,#cbbb5c,#cdbb5b,#cebb5a,#d0bb5a,#d1bb59,#d3bb58,#d3bb58,#d3bb58,#d3bb58,#d3bb58,#d3bb58,#d1bb59,#cfbb5a,#cdbb5b,#cbbb5b,#cabb5c,#a9be69,#83bf78,#58bd8c,#27b4af,#1db0bc,#16a9c7,#16a0ce,#1b95d0,#2189cf,#267ccc,#277acc,#2878cb,#2977cb,#2a75ca,#2a73ca,#2b72c9,#2b71c9,#2c70c9,#2c70c9,#2c6fc8,#2d6ec8,#2d6ec8,#2d6ec8,#2d6dc8,#2d6dc8,#2e6bc7,#2f69c6,#3067c6,#3165c5,#3263c4)"></div><div style="height:1px;background:linear-gradient(90deg,#67be85,#68be84,#69be84,#6abe83,#6cbf83,#6dbf82,#6fbf81,#70bf81,#72bf80,#74bf7f,#76bf7e,#79bf7d,#7dbf7b,#80bf7a,#83bf79,#86bf77,#8abf76,#8dbf74,#91bf73,#94bf72,#97bf70,#9bbf6f,#9fbe6d,#a3be6c,#a7be6a,#aabe69,#afbe67,#b5bd65,#babd63,#bfbc61,#c3bc5f,#c5bc5e,#c7bc5d,#c9bc5c,#cbbb5c,#cdbb5b,#cdbb5b,#cdbb5b,#cdbb5b,#cdbb5b,#cdbb5b,#cbbb5c,#c9bc5d,#c7bc5d,#c5bc5e,#c3bc5f,#a2be6c,#7cbf7b,#4fbc91,#24b4b1,#1cafbe,#16a7c8,#179ece,#1c93d0,#2286ce,#2879cb,#2976cb,#2a74ca,#2b71c9,#2d6ec8,#2e6bc7,#2e6ac7,#2f6ac7,#2f69c6,#2f69c6,#2f68c6,#3068c6,#3067c6,#3067c6,#3066c5,#3066c5,#3164c5,#3263c4,#3261c3,#335fc2,#345dc1)"></div><div style="height:1px;background:linear-gradient(90deg,#74bf7f,#74bf7f,#74bf7f,#75bf7f,#75bf7e,#76bf7e,#76bf7e,#77bf7e,#77bf7e,#78bf7d,#78bf7d,#7abf7d,#7bbf7c,#7cbf7c,#7dbf7b,#7ebf7b,#81bf79,#84bf78,#87bf77,#8abf76,#8dbf74,#91bf73,#95bf71,#99bf70,#9cbf6e,#a0be6d,#a6be6a,#acbe68,#b1bd66,#b7bd64,#bcbd62,#bebc61,#c0bc60,#c2bc5f,#c4bc5e,#c6bc5e,#c6bc5e,#c6bc5e,#c6bc5e,#c6bc5e,#c6bc5e,#c4bc5e,#c2bc5f,#c0bc60,#bebc61,#bcbd62,#9bbf6f,#75bf7f,#45ba98,#22b3b3,#1baec0,#16a6c9,#189ccf,#1d91d0,#2384ce,#2976ca,#2b72c9,#2d6ec8,#2e6ac7,#3066c5,#3263c4,#3262c4,#3262c4,#3262c4,#3262c4,#3262c4,#3361c3,#3360c3,#335fc2,#345ec2,#345ec1,#355cc0,#355bc0,#365abf,#3659be,#3758bd)"></div><div style="height:1px;background:linear-gradient(90deg,#74bf7f,#75bf7f,#75bf7e,#76bf7e,#76bf7e,#76bf7e,#77bf7e,#77bf7e,#77bf7d,#78bf7d,#78bf7d,#78bf7d,#79bf7d,#79bf7d,#79bf7d,#79bf7d,#7cbf7c,#7fbf7a,#81bf79,#84bf78,#86bf77,#8abf76,#8ebf74,#92bf73,#95bf71,#99bf70,#9fbe6d,#a4be6b,#aabe69,#afbe67,#b4bd65,#b6bd64,#b8bd63,#babd63,#bcbd62,#bebc61,#bdbc61,#bdbd61,#bdbd61,#bdbd61,#bcbd61,#babd62,#b8bd63,#b6bd64,#b3bd65,#b1bd66,#91bf73,#6bbe83,#3bb99f,#21b3b5,#1aadc1,#16a5ca,#189bcf,#1e8ecf,#2481cd,#2b73ca,#2d6ec8,#2e6ac7,#3066c5,#3261c4,#355cc0,#355cc0,#355cc0,#355cc0,#355cc0,#355cc0,#355bc0,#355abf,#365abf,#3659be,#3758be,#3757bd,#3756bd,#3856bc,#3855bc,#3854bb)"></div><div style="height:1px;background:linear-gradient(90deg,#69be84,#6abe83,#6cbf83,#6dbf82,#6ebf82,#6fbf81,#70bf81,#71bf80,#72bf80,#73bf7f,#74bf7f,#75bf7e,#76bf7e,#76bf7e,#77bf7e,#78bf7d,#7abf7c,#7dbf7b,#7fbf7a,#81bf79,#84bf78,#87bf77,#8bbf75,#8ebf74,#91bf73,#94bf71,#99bf6f,#9ebe6e,#a3be6c,#a8be6a,#acbe68,#adbe67,#afbe67,#b0bd66,#b1bd66,#b2bd65,#b2bd66,#b1bd66,#b0bd66,#b0bd67,#afbe67,#adbe68,#aabe69,#a8be6a,#a5be6b,#a3be6c,#83bf79,#5ebe89,#31b7a6,#20b2b7,#19acc2,#16a4cb,#1999cf,#1f8dcf,#257fcd,#2c70c9,#2e6cc7,#3067c6,#3163c4,#345fc2,#365abf,#365abf,#3659bf,#3659be,#3659be,#3659be,#3658be,#3757bd,#3757bd,#3756bc,#3855bc,#3855bb,#3854bb,#3953bb,#3953ba,#3952ba)"></div><div style="height:1px;background:linear-gradient(90deg,#5ebe89,#60be88,#62be87,#64be86,#66be85,#67be85,#69be84,#6bbf83,#6dbf82,#6fbf81,#71bf80,#72bf80,#73bf7f,#74bf7f,#75bf7e,#76bf7e,#78bf7d,#7bbf7c,#7dbf7b,#7fbf7a,#81bf79,#84bf78,#87bf77,#8abf76,#8dbf74,#90bf73,#94bf72,#98bf70,#9cbf6e,#a0be6d,#a4be6b,#a5be6b,#a5be6b,#a6be6a,#a6be6a,#a7be6a,#a6be6a,#a5be6b,#a3be6b,#a2be6c,#a1be6c,#9ebe6d,#9cbf6f,#99bf70,#96bf71,#93bf72,#74bf7f,#50bc90,#2ab5ac,#20b2b8,#18acc3,#16a3cc,#1a98cf,#208bcf,#267ccc,#2d6dc8,#2f69c6,#3165c5,#3361c3,#355cc0,#3757bd,#3757bd,#3757bd,#3756bd,#3756bc,#3756bc,#3855bc,#3855bb,#3854bb,#3953bb,#3953ba,#3952ba,#3952ba,#3a51b9,#3a51b9,#3a50b9)"></div><div style="height:1px;background:linear-gradient(90deg,#52bc90,#55bd8d,#58bd8c,#5bbd8b,#5dbe89,#60be88,#63be87,#65be86,#68be84,#6abe83,#6dbf82,#6fbf81,#70bf81,#72bf80,#73bf7f,#75bf7f,#77bf7e,#79bf7d,#7abf7c,#7cbf7b,#7ebf7b,#81bf79,#84bf78,#86bf77,#89bf76,#8bbf75,#8fbf74,#92bf72,#95bf71,#98bf70,#9cbf6f,#9cbf6f,#9bbf6f,#9bbf6f,#9bbf6f,#9bbf6f,#99bf6f,#98bf70,#96bf71,#94bf72,#92bf72,#8fbf74,#8cbf75,#89bf76,#86bf77,#83bf79,#65be86,#3fb99c,#25b4b1,#1fb2b9,#17abc4,#16a2cd,#1b96d0,#2189cf,#277acc,#2e6ac7,#3066c5,#3262c4,#345ec1,#3659be,#3854bb,#3854bb,#3854bb,#3953bb,#3953bb,#3953ba,#3952ba,#3952ba,#3a51b9,#3a51b9,#3a50b9,#3a50b8,#3a4fb8,#3b4fb8,#3b4fb8,#3b4fb8)"></div><div style="height:1px;background:linear-gradient(90deg,#41ba9b,#46bb98,#4abb94,#50bc91,#55bd8d,#58bd8c,#5cbe8a,#5fbe88,#63be87,#66be85,#69be84,#6bbf83,#6dbf82,#6fbf81,#71bf80,#73bf7f,#75bf7f,#77bf7e,#78bf7d,#7abf7c,#7bbf7c,#7ebf7b,#80bf7a,#82bf79,#85bf78,#87bf77,#89bf76,#8cbf75,#8ebf74,#91bf73,#93bf72,#92bf72,#91bf73,#90bf73,#8fbf74,#8ebf74,#8cbf75,#8abf76,#87bf77,#85bf78,#82bf79,#7fbf7a,#7cbf7c,#78bf7d,#74bf7f,#71bf80,#55bd8e,#31b7a6,#21b3b4,#1eb0bb,#16aac5,#16a1cd,#1b95d0,#2287ce,#2878cb,#3067c6,#3163c4,#335fc2,#355bbf,#3756bc,#3952ba,#3a51b9,#3a51b9,#3a51b9,#3a50b9,#3a50b8,#3b4fb8,#3b4fb8,#3b4eb7,#3b4eb7,#3b4db7,#3b4db7,#3b4db7,#3c4db7,#3c4db7,#3c4db7)"></div><div style="height:1px;background:linear-gradient(90deg,#34b7a4,#38b8a1,#3db99d,#43ba9a,#48bb96,#4fbc92,#55bd8d,#59bd8b,#5dbe89,#61be87,#66be85,#68be84,#6bbe83,#6dbf82,#70bf81,#72bf80,#73bf7f,#75bf7f,#76bf7e,#77bf7e,#78bf7d,#7abf7c,#7cbf7b,#7ebf7b,#80bf7a,#82bf79,#84bf78,#85bf78,#87bf77,#88bf76,#8abf76,#88bf76,#86bf77,#85bf78,#83bf79,#81bf79,#7ebf7b,#7bbf7c,#78bf7d,#74bf7f,#71bf80,#6dbf82,#6abe84,#66be85,#62be87,#5ebe89,#3eb99d,#28b5ae,#20b2b7,#1cafbd,#16aac6,#16a0ce,#1c93d0,#2385ce,#2975ca,#3164c5,#3360c3,#355cc0,#3758bd,#3953bb,#3b4fb8,#3b4fb8,#3b4eb7,#3b4eb7,#3b4db7,#3c4db6,#3c4cb6,#3c4cb6,#3c4cb6,#3c4bb5,#3c4bb5,#3c4bb5,#3c4bb5,#3c4bb5,#3c4bb5,#3c4bb5)"></div><div style="height:1px;background:linear-gradient(90deg,#2bb5ab,#2eb6a8,#33b7a5,#38b8a1,#3db99d,#44ba99,#4abb94,#52bd8f,#58bd8c,#5dbe8a,#62be87,#65be86,#68be84,#6bbe83,#6ebf82,#70bf80,#72bf80,#73bf80,#74bf7f,#75bf7f,#76bf7e,#77bf7e,#79bf7d,#7abf7c,#7cbf7c,#7dbf7b,#7ebf7b,#7ebf7b,#7fbf7a,#80bf7a,#80bf7a,#7ebf7b,#7bbf7c,#78bf7d,#75bf7e,#73bf80,#6fbf81,#6bbe83,#67be85,#63be87,#5fbe88,#5bbd8a,#57bd8c,#52bd8f,#4cbc93,#46bb97,#2eb6a8,#22b3b3,#20b2b8,#1baec0,#16a9c7,#179fce,#1d92d0,#2483ce,#2a73ca,#3261c3,#345dc1,#3659be,#3855bc,#3a51b9,#3c4cb6,#3c4cb6,#3c4bb5,#3c4bb5,#3c4ab4,#3c4ab4,#3c4ab4,#3d49b3,#3d49b3,#3d49b3,#3d48b3,#3d49b3,#3d49b3,#3d49b3,#3d49b3,#3c4ab4)"></div><div style="height:1px;background:linear-gradient(90deg,#24b4b1,#27b4ae,#2bb5ab,#2fb6a8,#34b7a4,#3ab9a0,#41ba9b,#49bb95,#52bc90,#58bd8c,#5ebe89,#61be87,#65be86,#68be84,#6cbf83,#6fbf81,#70bf81,#70bf80,#71bf80,#72bf80,#73bf80,#74bf7f,#75bf7f,#76bf7e,#77bf7e,#78bf7d,#78bf7d,#77bf7d,#77bf7e,#77bf7e,#76bf7e,#73bf80,#6fbf81,#6bbf83,#67be85,#64be86,#5fbe88,#5bbd8b,#56bd8d,#50bc91,#49bb95,#43ba99,#3eb99d,#39b8a0,#34b7a4,#31b7a7,#24b4b1,#20b2b7,#1eb0bb,#19acc2,#16a8c8,#179dce,#1d90d0,#2481cd,#2c70c9,#345ec1,#365abf,#3856bc,#3952ba,#3b4eb7,#3c4ab4,#3d49b4,#3d49b3,#3d48b2,#3d48b2,#3d47b1,#3d47b1,#3d47b1,#3d46b1,#3d46b0,#3d46b0,#3d46b1,#3d47b1,#3d47b1,#3d48b2,#3d48b2)"></div><div style="height:1px;background:linear-gradient(90deg,#21b3b5,#22b3b3,#25b4b0,#28b5ad,#2db6aa,#32b7a5,#39b8a0,#41ba9b,#49bb95,#53bd8e,#5abd8b,#5ebe89,#62be87,#66be85,#6abe84,#6dbf82,#6ebf82,#6ebf81,#6fbf81,#6fbf81,#70bf81,#70bf80,#71bf80,#72bf80,#72bf80,#73bf7f,#72bf80,#70bf81,#6fbf81,#6dbf82,#6cbf82,#67be85,#63be87,#5ebe89,#59bd8b,#55bd8e,#4cbc93,#45ba98,#3eb99d,#38b8a1,#33b7a5,#2fb6a8,#2cb6aa,#29b5ad,#26b4af,#24b4b1,#20b2b6,#1fb2b9,#1baebf,#17abc4,#16a7c8,#189ccf,#1e8ecf,#257fcd,#2d6ec8,#365abf,#3756bd,#3953ba,#3b4fb8,#3c4bb5,#3d48b2,#3d47b1,#3d46b1,#3d46b0,#3d45af,#3e44af,#3e44ae,#3e44ae,#3e44ae,#3e44ae,#3e44ae,#3e44af,#3d45af,#3d45b0,#3d46b0,#3d46b1)"></div><div style="height:1px;background:linear-gradient(90deg,#20b2b7,#20b2b6,#21b3b4,#24b4b2,#27b4ae,#2cb6aa,#32b7a6,#39b8a0,#42ba9a,#4cbc93,#57bd8d,#5bbd8b,#5fbe88,#63be86,#68be84,#6cbf82,#6cbf82,#6cbf82,#6cbf82,#6dbf82,#6dbf82,#6dbf82,#6dbf82,#6dbf82,#6ebf82,#6ebf82,#6bbf83,#69be84,#66be85,#64be86,#61be87,#5cbe8a,#56bd8d,#4ebc92,#46bb97,#3fb99c,#38b8a1,#32b7a5,#2db6a9,#29b5ad,#26b4b0,#24b4b1,#22b3b3,#21b3b5,#20b2b6,#20b2b7,#1fb1b9,#1cafbe,#19acc2,#16aac6,#16a6c9,#189bcf,#1f8dcf,#267dcc,#2e6bc7,#3757bd,#3953ba,#3a4fb8,#3c4cb6,#3d48b3,#3d45b0,#3e44af,#3e44ae,#3e43ad,#3e42ad,#3e41ac,#3e41ac,#3e41ac,#3e41ac,#3e41ac,#3e41ac,#3e42ac,#3e43ad,#3e43ae,#3e44ae,#3d45af)"></div></div>
<svg width="685" height="420" viewBox="0 0 685 420">
<text x="-0.80" y="14.80" font-size="20.00" text-anchor="start" fill="#000" color="#000" font-weight="bold">a</text>
<rect x="63.50" y="17.40" width="151.00" height="169.90" fill="none" stroke="#000" stroke-width="1"/>
<line x1="63.50" y1="17.00" x2="66.00" y2="17.00" stroke="#000" stroke-width="1.00" />
<text x="56.80" y="22.00" font-size="14.00" text-anchor="end" fill="#000" color="#000" >0.02</text>
<line x1="63.50" y1="67.10" x2="66.00" y2="67.10" stroke="#000" stroke-width="1.00" />
<text x="56.80" y="72.10" font-size="14.00" text-anchor="end" fill="#000" color="#000" >0.015</text>
<line x1="63.50" y1="117.20" x2="66.00" y2="117.20" stroke="#000" stroke-width="1.00" />
<text x="56.80" y="122.20" font-size="14.00" text-anchor="end" fill="#000" color="#000" >0.01</text>
<line x1="63.50" y1="167.30" x2="66.00" y2="167.30" stroke="#000" stroke-width="1.00" />
<text x="56.80" y="172.30" font-size="14.00" text-anchor="end" fill="#000" color="#000" >0.005</text>
<line x1="63.50" y1="187.00" x2="63.50" y2="184.50" stroke="#000" stroke-width="1.00" />
<text x="65.50" y="205.10" font-size="14.00" text-anchor="middle" fill="#000" color="#000" >200</text>
<line x1="138.90" y1="187.00" x2="138.90" y2="184.50" stroke="#000" stroke-width="1.00" />
<text x="137.00" y="205.10" font-size="14.00" text-anchor="middle" fill="#000" color="#000" >300</text>
<line x1="214.50" y1="187.00" x2="214.50" y2="184.50" stroke="#000" stroke-width="1.00" />
<text x="208.80" y="205.10" font-size="14.00" text-anchor="middle" fill="#000" color="#000" >400</text>
<text x="103.6" y="231.7" font-size="15" font-style="italic" style="font-family:'Liberation Serif';stroke-width:0.1">&#946;</text>
<text x="111.3" y="235.9" font-size="8.7">2</text>
<text x="121.2" y="231.7" font-size="14">(ps</text>
<text x="141.9" y="227.6" font-size="8.5">2</text>
<text x="146.5" y="231.7" font-size="14">/km)</text>
<text transform="translate(10.1,102.0) rotate(-90)" x="0" y="0" font-size="14.5" text-anchor="middle" font-family="Liberation Serif" font-style="italic" style="font-family:'Liberation Serif';stroke-width:0">&#952;</text>
<line x1="172.50" y1="101.90" x2="181.10" y2="112.10" stroke="#000" stroke-width="2.00" />
<line x1="172.50" y1="112.10" x2="181.10" y2="101.90" stroke="#000" stroke-width="2.00" />
<defs><linearGradient id="cbg" x1="0" y1="1" x2="0" y2="0"><stop offset="0.000" stop-color="#3c2c8a"/><stop offset="0.031" stop-color="#3e349a"/><stop offset="0.062" stop-color="#3f3da8"/><stop offset="0.094" stop-color="#3c4ab4"/><stop offset="0.125" stop-color="#3757bd"/><stop offset="0.156" stop-color="#3164c5"/><stop offset="0.188" stop-color="#2c70c8"/><stop offset="0.219" stop-color="#277acc"/><stop offset="0.250" stop-color="#2384ce"/><stop offset="0.281" stop-color="#1f8dcf"/><stop offset="0.312" stop-color="#1a96d0"/><stop offset="0.344" stop-color="#179ece"/><stop offset="0.375" stop-color="#16a5ca"/><stop offset="0.406" stop-color="#17abc4"/><stop offset="0.438" stop-color="#1db0bc"/><stop offset="0.469" stop-color="#20b2b6"/><stop offset="0.500" stop-color="#29b5ac"/><stop offset="0.531" stop-color="#40ba9c"/><stop offset="0.562" stop-color="#5ebe89"/><stop offset="0.594" stop-color="#75bf7e"/><stop offset="0.625" stop-color="#8bbf75"/><stop offset="0.656" stop-color="#9fbe6d"/><stop offset="0.688" stop-color="#b1bd66"/><stop offset="0.719" stop-color="#c2bc5f"/><stop offset="0.750" stop-color="#d3bb58"/><stop offset="0.781" stop-color="#e3b951"/><stop offset="0.812" stop-color="#f2b949"/><stop offset="0.844" stop-color="#febf3c"/><stop offset="0.875" stop-color="#fec932"/><stop offset="0.906" stop-color="#f9d329"/><stop offset="0.938" stop-color="#f5de21"/><stop offset="0.969" stop-color="#f5eb18"/><stop offset="1.000" stop-color="#f9fb0e"/></linearGradient></defs>
<rect x="218.10" y="17.20" width="13.30" height="170.10" fill="url(#cbg)" stroke="#000" stroke-width="1"/>
<text x="236.60" y="22.20" font-size="14.00" text-anchor="start" fill="#000" color="#000" >&#8722;10</text>
<text x="236.60" y="107.25" font-size="14.00" text-anchor="start" fill="#000" color="#000" >&#8722;15</text>
<text x="236.60" y="192.30" font-size="14.00" text-anchor="start" fill="#000" color="#000" >&#8722;20</text>
<text transform="translate(271.6,32.8) rotate(90)" x="0" y="0" font-size="14">Min. line power (dBm)</text>
<text x="303.50" y="14.80" font-size="20.00" text-anchor="start" fill="#000" color="#000" font-weight="bold">b</text>
<rect x="417.40" y="16.50" width="202.60" height="170.80" fill="#e5e5e5"/>
<clipPath id="cpb"><rect x="359.50" y="16.50" width="318.20" height="170.80"/></clipPath>
<g clip-path="url(#cpb)">
<path d="M360.73,179.40 L360.73,135.30 L365.13,135.30 L365.20,138.10 L369.60,138.10 L369.67,129.20 L374.07,129.20 L374.15,129.60 L378.55,129.60 L378.64,129.00 L383.04,129.00 L383.12,121.00 L387.52,121.00 L387.62,122.30 L392.02,122.30 L392.11,116.60 L396.51,116.60 L396.61,110.90 L401.01,110.90 L401.12,110.50 L405.52,110.50 L405.63,100.00 L410.03,100.00 L410.14,95.30 L414.54,95.30 L414.66,88.60 L419.06,88.60 L419.19,76.60 L423.59,76.60 L423.72,71.00 L428.12,71.00 L428.25,71.50 L432.65,71.50 L432.79,73.40 L437.19,73.40 L437.33,72.00 L441.73,72.00 L441.88,74.90 L446.28,74.90 L446.43,77.20 L450.83,77.20 L450.99,74.00 L455.39,74.00 L455.55,76.20 L459.95,76.20 L460.11,75.90 L464.51,75.90 L464.69,72.80 L469.09,72.80 L469.26,74.90 L473.66,74.90 L473.84,70.90 L478.24,70.90 L478.43,69.60 L482.83,69.60 L483.01,70.10 L487.41,70.10 L487.61,63.30 L492.01,63.30 L492.21,65.20 L496.61,65.20 L496.81,58.70 L501.21,58.70 L501.42,53.00 L505.82,53.00 L506.03,55.30 L510.43,55.30 L510.65,29.80 L515.05,29.80 L515.27,36.00 L519.67,36.00 L519.90,30.50 L524.30,30.50 L524.53,54.90 L528.93,54.90 L529.17,53.00 L533.57,53.00 L533.81,58.30 L538.21,58.30 L538.46,64.80 L542.86,64.80 L543.11,63.30 L547.51,63.30 L547.76,70.10 L552.16,70.10 L552.42,69.20 L556.82,69.20 L557.09,70.90 L561.49,70.90 L561.76,75.00 L566.16,75.00 L566.44,73.00 L570.84,73.00 L571.12,75.70 L575.52,75.70 L575.80,76.20 L580.20,76.20 L580.49,74.30 L584.89,74.30 L585.19,76.80 L589.59,76.80 L589.88,74.70 L594.28,74.70 L594.59,72.00 L598.99,72.00 L599.30,73.40 L603.70,73.40 L604.01,71.50 L608.41,71.50 L608.73,70.70 L613.13,70.70 L613.46,76.60 L617.86,76.60 L618.18,88.60 L622.58,88.60 L622.92,95.50 L627.32,95.50 L627.66,100.10 L632.06,100.10 L632.40,110.50 L636.80,110.50 L637.15,110.50 L641.55,110.50 L641.90,116.80 L646.30,116.80 L646.66,122.10 L651.06,122.10 L651.43,121.00 L655.83,121.00 L656.19,129.00 L660.59,129.00 L660.97,129.60 L665.37,129.60 L665.75,129.60 L670.15,129.60 L670.53,138.10 L674.93,138.10 L675.32,137.80 L679.72,137.80 L679.72,179.40 Z" fill="#e6f0f8"/>
<polyline points="359.5,179.48 360.5,179.73 361.5,179.07 362.5,179.42 363.5,180.03 364.5,180.03 365.5,178.80 366.5,178.93 367.5,178.68 368.5,179.31 369.5,178.65 370.5,179.33 371.5,179.64 372.5,179.05 373.5,179.68 374.5,179.55 375.5,178.64 376.5,179.49 377.5,179.01 378.5,179.26 379.5,179.05 380.5,179.71 381.5,179.30 382.5,178.85 383.5,179.47 384.5,179.85 385.5,179.09 386.5,178.96 387.5,179.22 388.5,180.10 389.5,180.16 390.5,179.68 391.5,180.04 392.5,179.95 393.5,179.20 394.5,178.75 395.5,179.65 396.5,179.49 397.5,179.18 398.5,178.96 399.5,179.25 400.5,179.35 401.5,179.03 402.5,179.07 403.5,179.33 404.5,179.98 405.5,179.54 406.5,179.05 407.5,179.04 408.5,179.33 409.5,178.93 410.5,178.92 411.5,179.42 412.5,178.74 413.5,179.37 414.5,179.18 415.5,179.73 416.5,179.79 417.5,179.71 418.5,179.70 419.5,179.20 420.5,179.67 421.5,179.14 422.5,179.52 423.5,179.12 424.5,179.31 425.5,178.70 426.5,178.99 427.5,180.15 428.5,178.97 429.5,179.71 430.5,179.64 431.5,179.76 432.5,179.36 433.5,179.55 434.5,178.71 435.5,178.72 436.5,178.92 437.5,178.84 438.5,178.76 439.5,178.81 440.5,179.49 441.5,178.90 442.5,180.12 443.5,179.69 444.5,179.47 445.5,179.73 446.5,179.02 447.5,180.08 448.5,179.94 449.5,179.76 450.5,179.37 451.5,179.95 452.5,179.79 453.5,179.66 454.5,180.06 455.5,179.61 456.5,179.19 457.5,179.48 458.5,178.91 459.5,178.91 460.5,179.76 461.5,179.86 462.5,180.16 463.5,179.96 464.5,179.47 465.5,178.74 466.5,179.38 467.5,180.08 468.5,179.86 469.5,179.38 470.5,179.33 471.5,178.95 472.5,178.88 473.5,178.72 474.5,180.03 475.5,179.62 476.5,178.83 477.5,179.26 478.5,178.68 479.5,178.93 480.5,179.77 481.5,179.64 482.5,179.37 483.5,179.04 484.5,179.64 485.5,180.13 486.5,179.30 487.5,178.71 488.5,178.69 489.5,178.73 490.5,180.14 491.5,179.47 492.5,179.94 493.5,178.87 494.5,179.02 495.5,179.71 496.5,180.03 497.5,179.15 498.5,178.70 499.5,179.98 500.5,179.07 501.5,179.79 502.5,178.85 503.5,179.71 504.5,179.95 505.5,179.76 506.5,179.17 507.5,179.76 508.5,178.82 509.5,179.10 510.5,179.27 511.5,180.00 512.5,178.85 513.5,180.01 514.5,179.88 515.5,180.15 516.5,179.19 517.5,178.93 518.5,178.98 519.5,179.92 520.5,180.14 521.5,179.72 522.5,179.37 523.5,179.06 524.5,179.93 525.5,180.00 526.5,178.75 527.5,178.95 528.5,179.93 529.5,179.96 530.5,179.10 531.5,179.05 532.5,179.29 533.5,179.46 534.5,178.75 535.5,179.94 536.5,179.46 537.5,179.84 538.5,178.97 539.5,180.14 540.5,179.80 541.5,179.15 542.5,180.12 543.5,179.72 544.5,179.94 545.5,178.67 546.5,178.69 547.5,179.79 548.5,179.09 549.5,179.43 550.5,178.85 551.5,180.16 552.5,179.40 553.5,179.93 554.5,178.72 555.5,179.37 556.5,178.70 557.5,180.01 558.5,179.31 559.5,178.71 560.5,178.72 561.5,179.46 562.5,178.72 563.5,178.89 564.5,179.30 565.5,179.40 566.5,179.53 567.5,179.59 568.5,179.20 569.5,179.59 570.5,178.85 571.5,179.04 572.5,179.88 573.5,178.84 574.5,178.96 575.5,178.99 576.5,179.37 577.5,178.60 578.5,178.65 579.5,179.34 580.5,178.86 581.5,179.69 582.5,179.87 583.5,179.53 584.5,179.71 585.5,179.23 586.5,178.67 587.5,179.30 588.5,179.20 589.5,179.56 590.5,178.81 591.5,178.96 592.5,179.90 593.5,179.02 594.5,179.26 595.5,180.10 596.5,179.04 597.5,178.83 598.5,179.72 599.5,179.51 600.5,179.58 601.5,178.67 602.5,179.27 603.5,178.61 604.5,178.99 605.5,179.73 606.5,178.70 607.5,179.07 608.5,180.18 609.5,180.15 610.5,179.37 611.5,179.78 612.5,179.61 613.5,179.35 614.5,179.97 615.5,178.88 616.5,179.93 617.5,178.67 618.5,179.99 619.5,179.68 620.5,179.31 621.5,179.67 622.5,179.34 623.5,179.85 624.5,178.78 625.5,179.41 626.5,179.99 627.5,180.08 628.5,178.95 629.5,179.00 630.5,180.05 631.5,179.15 632.5,178.69 633.5,179.74 634.5,179.26 635.5,179.78 636.5,179.36 637.5,179.40 638.5,179.27 639.5,179.06 640.5,180.04 641.5,179.67 642.5,179.86 643.5,180.03 644.5,179.00 645.5,180.07 646.5,179.98 647.5,179.41 648.5,179.51 649.5,178.78 650.5,179.82 651.5,178.88 652.5,179.45 653.5,178.80 654.5,178.72 655.5,179.57 656.5,179.39 657.5,179.68 658.5,179.87 659.5,180.17 660.5,178.73 661.5,179.61 662.5,179.52 663.5,179.64 664.5,179.47 665.5,179.49 666.5,179.99 667.5,179.32 668.5,179.46 669.5,179.71 670.5,178.74 671.5,179.29 672.5,178.76 673.5,178.82 674.5,178.60 675.5,178.94 676.5,178.95 677.5,179.43 678.5,179.51" fill="none" stroke="#2a72b5" stroke-width="1.4"/>
<path d="M361.78,179.90 L362.23,134.30 L363.63,134.30 L364.08,179.90 Z" fill="#3671ab"/>
<path d="M366.25,179.90 L366.70,137.10 L368.10,137.10 L368.55,179.90 Z" fill="#3671ab"/>
<path d="M370.72,179.90 L371.17,128.20 L372.57,128.20 L373.02,179.90 Z" fill="#3671ab"/>
<path d="M375.20,179.90 L375.65,128.60 L377.05,128.60 L377.50,179.90 Z" fill="#3671ab"/>
<path d="M379.69,179.90 L380.14,128.00 L381.54,128.00 L381.99,179.90 Z" fill="#3671ab"/>
<path d="M384.17,179.90 L384.62,120.00 L386.02,120.00 L386.47,179.90 Z" fill="#3671ab"/>
<path d="M388.67,179.90 L389.12,121.30 L390.52,121.30 L390.97,179.90 Z" fill="#3671ab"/>
<path d="M393.16,179.90 L393.61,115.60 L395.01,115.60 L395.46,179.90 Z" fill="#3671ab"/>
<path d="M397.66,179.90 L398.11,109.90 L399.51,109.90 L399.96,179.90 Z" fill="#3671ab"/>
<path d="M402.17,179.90 L402.62,109.50 L404.02,109.50 L404.47,179.90 Z" fill="#3671ab"/>
<path d="M406.68,179.90 L407.13,99.00 L408.53,99.00 L408.98,179.90 Z" fill="#3671ab"/>
<path d="M411.19,179.90 L411.64,94.30 L413.04,94.30 L413.49,179.90 Z" fill="#3671ab"/>
<path d="M415.71,179.90 L416.16,87.60 L417.56,87.60 L418.01,179.90 Z" fill="#3671ab"/>
<path d="M420.24,179.90 L420.69,75.60 L422.09,75.60 L422.54,179.90 Z" fill="#3671ab"/>
<path d="M424.77,179.90 L425.22,70.00 L426.62,70.00 L427.07,179.90 Z" fill="#3671ab"/>
<path d="M429.30,179.90 L429.75,70.50 L431.15,70.50 L431.60,179.90 Z" fill="#3671ab"/>
<path d="M433.84,179.90 L434.29,72.40 L435.69,72.40 L436.14,179.90 Z" fill="#3671ab"/>
<path d="M438.38,179.90 L438.83,71.00 L440.23,71.00 L440.68,179.90 Z" fill="#3671ab"/>
<path d="M442.93,179.90 L443.38,73.90 L444.78,73.90 L445.23,179.90 Z" fill="#3671ab"/>
<path d="M447.48,179.90 L447.93,76.20 L449.33,76.20 L449.78,179.90 Z" fill="#3671ab"/>
<path d="M452.04,179.90 L452.49,73.00 L453.89,73.00 L454.34,179.90 Z" fill="#3671ab"/>
<path d="M456.60,179.90 L457.05,75.20 L458.45,75.20 L458.90,179.90 Z" fill="#3671ab"/>
<path d="M461.16,179.90 L461.61,74.90 L463.01,74.90 L463.46,179.90 Z" fill="#3671ab"/>
<path d="M465.74,179.90 L466.19,71.80 L467.59,71.80 L468.04,179.90 Z" fill="#3671ab"/>
<path d="M470.31,179.90 L470.76,73.90 L472.16,73.90 L472.61,179.90 Z" fill="#3671ab"/>
<path d="M474.89,179.90 L475.34,69.90 L476.74,69.90 L477.19,179.90 Z" fill="#3671ab"/>
<path d="M479.48,179.90 L479.93,68.60 L481.33,68.60 L481.78,179.90 Z" fill="#3671ab"/>
<path d="M484.06,179.90 L484.51,69.10 L485.91,69.10 L486.36,179.90 Z" fill="#3671ab"/>
<path d="M488.66,179.90 L489.11,62.30 L490.51,62.30 L490.96,179.90 Z" fill="#3671ab"/>
<path d="M493.26,179.90 L493.71,64.20 L495.11,64.20 L495.56,179.90 Z" fill="#3671ab"/>
<path d="M497.86,179.90 L498.31,57.70 L499.71,57.70 L500.16,179.90 Z" fill="#3671ab"/>
<path d="M502.47,179.90 L502.92,52.00 L504.32,52.00 L504.77,179.90 Z" fill="#3671ab"/>
<path d="M507.08,179.90 L507.53,54.30 L508.93,54.30 L509.38,179.90 Z" fill="#3671ab"/>
<path d="M511.70,179.90 L512.15,28.80 L513.55,28.80 L514.00,179.90 Z" fill="#3671ab"/>
<path d="M516.32,179.90 L516.77,35.00 L518.17,35.00 L518.62,179.90 Z" fill="#3671ab"/>
<path d="M520.95,179.90 L521.40,29.50 L522.80,29.50 L523.25,179.90 Z" fill="#3671ab"/>
<path d="M525.58,179.90 L526.03,53.90 L527.43,53.90 L527.88,179.90 Z" fill="#3671ab"/>
<path d="M530.22,179.90 L530.67,52.00 L532.07,52.00 L532.52,179.90 Z" fill="#3671ab"/>
<path d="M534.86,179.90 L535.31,57.30 L536.71,57.30 L537.16,179.90 Z" fill="#3671ab"/>
<path d="M539.51,179.90 L539.96,63.80 L541.36,63.80 L541.81,179.90 Z" fill="#3671ab"/>
<path d="M544.16,179.90 L544.61,62.30 L546.01,62.30 L546.46,179.90 Z" fill="#3671ab"/>
<path d="M548.81,179.90 L549.26,69.10 L550.66,69.10 L551.11,179.90 Z" fill="#3671ab"/>
<path d="M553.47,179.90 L553.92,68.20 L555.32,68.20 L555.77,179.90 Z" fill="#3671ab"/>
<path d="M558.14,179.90 L558.59,69.90 L559.99,69.90 L560.44,179.90 Z" fill="#3671ab"/>
<path d="M562.81,179.90 L563.26,74.00 L564.66,74.00 L565.11,179.90 Z" fill="#3671ab"/>
<path d="M567.49,179.90 L567.94,72.00 L569.34,72.00 L569.79,179.90 Z" fill="#3671ab"/>
<path d="M572.17,179.90 L572.62,74.70 L574.02,74.70 L574.47,179.90 Z" fill="#3671ab"/>
<path d="M576.85,179.90 L577.30,75.20 L578.70,75.20 L579.15,179.90 Z" fill="#3671ab"/>
<path d="M581.54,179.90 L581.99,73.30 L583.39,73.30 L583.84,179.90 Z" fill="#3671ab"/>
<path d="M586.24,179.90 L586.69,75.80 L588.09,75.80 L588.54,179.90 Z" fill="#3671ab"/>
<path d="M590.93,179.90 L591.38,73.70 L592.78,73.70 L593.23,179.90 Z" fill="#3671ab"/>
<path d="M595.64,179.90 L596.09,71.00 L597.49,71.00 L597.94,179.90 Z" fill="#3671ab"/>
<path d="M600.35,179.90 L600.80,72.40 L602.20,72.40 L602.65,179.90 Z" fill="#3671ab"/>
<path d="M605.06,179.90 L605.51,70.50 L606.91,70.50 L607.36,179.90 Z" fill="#3671ab"/>
<path d="M609.78,179.90 L610.23,69.70 L611.63,69.70 L612.08,179.90 Z" fill="#3671ab"/>
<path d="M614.51,179.90 L614.96,75.60 L616.36,75.60 L616.81,179.90 Z" fill="#3671ab"/>
<path d="M619.23,179.90 L619.68,87.60 L621.08,87.60 L621.53,179.90 Z" fill="#3671ab"/>
<path d="M623.97,179.90 L624.42,94.50 L625.82,94.50 L626.27,179.90 Z" fill="#3671ab"/>
<path d="M628.71,179.90 L629.16,99.10 L630.56,99.10 L631.01,179.90 Z" fill="#3671ab"/>
<path d="M633.45,179.90 L633.90,109.50 L635.30,109.50 L635.75,179.90 Z" fill="#3671ab"/>
<path d="M638.20,179.90 L638.65,109.50 L640.05,109.50 L640.50,179.90 Z" fill="#3671ab"/>
<path d="M642.95,179.90 L643.40,115.80 L644.80,115.80 L645.25,179.90 Z" fill="#3671ab"/>
<path d="M647.71,179.90 L648.16,121.10 L649.56,121.10 L650.01,179.90 Z" fill="#3671ab"/>
<path d="M652.48,179.90 L652.93,120.00 L654.33,120.00 L654.78,179.90 Z" fill="#3671ab"/>
<path d="M657.24,179.90 L657.69,128.00 L659.09,128.00 L659.54,179.90 Z" fill="#3671ab"/>
<path d="M662.02,179.90 L662.47,128.60 L663.87,128.60 L664.32,179.90 Z" fill="#3671ab"/>
<path d="M666.80,179.90 L667.25,128.60 L668.65,128.60 L669.10,179.90 Z" fill="#3671ab"/>
<path d="M671.58,179.90 L672.03,137.10 L673.43,137.10 L673.88,179.90 Z" fill="#3671ab"/>
<path d="M676.37,179.90 L676.82,136.80 L678.22,136.80 L678.67,179.90 Z" fill="#3671ab"/>
</g>
<rect x="359.50" y="16.50" width="318.20" height="170.80" fill="none" stroke="#000" stroke-width="1"/>
<line x1="359.50" y1="16.45" x2="362.50" y2="16.45" stroke="#000" stroke-width="1.00" />
<line x1="677.70" y1="16.45" x2="674.70" y2="16.45" stroke="#000" stroke-width="1.00" />
<text x="352.70" y="23.05" font-size="14.00" text-anchor="end" fill="#000" color="#000" >20</text>
<line x1="359.50" y1="56.65" x2="362.50" y2="56.65" stroke="#000" stroke-width="1.00" />
<line x1="677.70" y1="56.65" x2="674.70" y2="56.65" stroke="#000" stroke-width="1.00" />
<text x="352.70" y="63.25" font-size="14.00" text-anchor="end" fill="#000" color="#000" >0</text>
<line x1="359.50" y1="96.85" x2="362.50" y2="96.85" stroke="#000" stroke-width="1.00" />
<line x1="677.70" y1="96.85" x2="674.70" y2="96.85" stroke="#000" stroke-width="1.00" />
<text x="352.70" y="103.45" font-size="14.00" text-anchor="end" fill="#000" color="#000" >&#8722;20</text>
<line x1="359.50" y1="137.05" x2="362.50" y2="137.05" stroke="#000" stroke-width="1.00" />
<line x1="677.70" y1="137.05" x2="674.70" y2="137.05" stroke="#000" stroke-width="1.00" />
<text x="352.70" y="143.65" font-size="14.00" text-anchor="end" fill="#000" color="#000" >&#8722;40</text>
<line x1="359.50" y1="177.25" x2="362.50" y2="177.25" stroke="#000" stroke-width="1.00" />
<line x1="677.70" y1="177.25" x2="674.70" y2="177.25" stroke="#000" stroke-width="1.00" />
<text x="352.70" y="183.85" font-size="14.00" text-anchor="end" fill="#000" color="#000" >&#8722;60</text>
<line x1="359.40" y1="187.30" x2="359.40" y2="184.30" stroke="#000" stroke-width="1.00" />
<line x1="359.40" y1="16.50" x2="359.40" y2="19.50" stroke="#000" stroke-width="1.00" />
<text x="358.30" y="205.40" font-size="14.00" text-anchor="middle" fill="#000" color="#000" >1520</text>
<line x1="475.60" y1="187.30" x2="475.60" y2="184.30" stroke="#000" stroke-width="1.00" />
<line x1="475.60" y1="16.50" x2="475.60" y2="19.50" stroke="#000" stroke-width="1.00" />
<text x="475.00" y="205.40" font-size="14.00" text-anchor="middle" fill="#000" color="#000" >1540</text>
<line x1="591.80" y1="187.30" x2="591.80" y2="184.30" stroke="#000" stroke-width="1.00" />
<line x1="591.80" y1="16.50" x2="591.80" y2="19.50" stroke="#000" stroke-width="1.00" />
<text x="591.80" y="205.40" font-size="14.00" text-anchor="middle" fill="#000" color="#000" >1560</text>
<text x="464.80" y="226.00" font-size="14.30" text-anchor="start" fill="#000" color="#000" >Wavelength (nm)</text>
<text transform="translate(314.6,142.6) rotate(-90)" x="0" y="0" font-size="14.3">Power (dBm)</text>
<text x="494.00" y="29.20" font-size="14.00" text-anchor="start" fill="#000" color="#000" >C-band</text>
<line x1="427.00" y1="25.00" x2="480.30" y2="25.00" stroke="#000" stroke-width="1.90" />
<line x1="556.30" y1="25.00" x2="610.00" y2="25.00" stroke="#000" stroke-width="1.90" />
<path d="M421,25 Q425.6,21.2 429.7,17.5 L428.3,25 L429.7,32.5 Q425.6,28.8 421,25 Z" fill="#000"/>
<path d="M615.6,25 Q611,21.2 606.8,17.5 L608.2,25 L606.8,32.5 Q611,28.8 615.6,25 Z" fill="#000"/>
<text x="-0.80" y="267.00" font-size="20.00" text-anchor="start" fill="#000" color="#000" font-weight="bold">c</text>
<line x1="63.50" y1="311.04" x2="678.20" y2="311.04" stroke="#5f5f5f" stroke-width="1.40" stroke-dasharray="18 11.55"/>
<rect x="63.50" y="268.50" width="614.70" height="110.50" fill="none" stroke="#000" stroke-width="1"/>
<line x1="63.50" y1="379.00" x2="63.50" y2="373.50" stroke="#000" stroke-width="1.00" />
<line x1="63.50" y1="268.50" x2="63.50" y2="274.00" stroke="#000" stroke-width="1.00" />
<text x="63.50" y="396.00" font-size="14.00" text-anchor="middle" fill="#000" color="#000" >10</text>
<line x1="165.95" y1="379.00" x2="165.95" y2="373.50" stroke="#000" stroke-width="1.00" />
<line x1="165.95" y1="268.50" x2="165.95" y2="274.00" stroke="#000" stroke-width="1.00" />
<text x="165.95" y="396.00" font-size="14.00" text-anchor="middle" fill="#000" color="#000" >15</text>
<line x1="268.40" y1="379.00" x2="268.40" y2="373.50" stroke="#000" stroke-width="1.00" />
<line x1="268.40" y1="268.50" x2="268.40" y2="274.00" stroke="#000" stroke-width="1.00" />
<text x="268.40" y="396.00" font-size="14.00" text-anchor="middle" fill="#000" color="#000" >20</text>
<line x1="370.85" y1="379.00" x2="370.85" y2="373.50" stroke="#000" stroke-width="1.00" />
<line x1="370.85" y1="268.50" x2="370.85" y2="274.00" stroke="#000" stroke-width="1.00" />
<text x="370.85" y="396.00" font-size="14.00" text-anchor="middle" fill="#000" color="#000" >25</text>
<line x1="473.30" y1="379.00" x2="473.30" y2="373.50" stroke="#000" stroke-width="1.00" />
<line x1="473.30" y1="268.50" x2="473.30" y2="274.00" stroke="#000" stroke-width="1.00" />
<text x="473.30" y="396.00" font-size="14.00" text-anchor="middle" fill="#000" color="#000" >30</text>
<line x1="575.75" y1="379.00" x2="575.75" y2="373.50" stroke="#000" stroke-width="1.00" />
<line x1="575.75" y1="268.50" x2="575.75" y2="274.00" stroke="#000" stroke-width="1.00" />
<text x="575.75" y="396.00" font-size="14.00" text-anchor="middle" fill="#000" color="#000" >35</text>
<line x1="678.20" y1="379.00" x2="678.20" y2="373.50" stroke="#000" stroke-width="1.00" />
<line x1="678.20" y1="268.50" x2="678.20" y2="274.00" stroke="#000" stroke-width="1.00" />
<text x="678.20" y="396.00" font-size="14.00" text-anchor="middle" fill="#000" color="#000" >40</text>
<line x1="63.50" y1="268.50" x2="69.00" y2="268.50" stroke="#000" stroke-width="1.00" />
<line x1="678.20" y1="268.50" x2="672.70" y2="268.50" stroke="#000" stroke-width="1.00" />
<text x="56.00" y="275.40" font-size="14" text-anchor="end">10<tspan font-size="9" dy="-6.5">&#8722;1</tspan></text>
<line x1="63.50" y1="294.25" x2="66.70" y2="294.25" stroke="#000" stroke-width="1.00" />
<line x1="678.20" y1="294.25" x2="675.00" y2="294.25" stroke="#000" stroke-width="1.00" />
<line x1="63.50" y1="287.76" x2="66.70" y2="287.76" stroke="#000" stroke-width="1.00" />
<line x1="678.20" y1="287.76" x2="675.00" y2="287.76" stroke="#000" stroke-width="1.00" />
<line x1="63.50" y1="283.16" x2="66.70" y2="283.16" stroke="#000" stroke-width="1.00" />
<line x1="678.20" y1="283.16" x2="675.00" y2="283.16" stroke="#000" stroke-width="1.00" />
<line x1="63.50" y1="279.59" x2="66.70" y2="279.59" stroke="#000" stroke-width="1.00" />
<line x1="678.20" y1="279.59" x2="675.00" y2="279.59" stroke="#000" stroke-width="1.00" />
<line x1="63.50" y1="276.67" x2="66.70" y2="276.67" stroke="#000" stroke-width="1.00" />
<line x1="678.20" y1="276.67" x2="675.00" y2="276.67" stroke="#000" stroke-width="1.00" />
<line x1="63.50" y1="274.21" x2="66.70" y2="274.21" stroke="#000" stroke-width="1.00" />
<line x1="678.20" y1="274.21" x2="675.00" y2="274.21" stroke="#000" stroke-width="1.00" />
<line x1="63.50" y1="272.07" x2="66.70" y2="272.07" stroke="#000" stroke-width="1.00" />
<line x1="678.20" y1="272.07" x2="675.00" y2="272.07" stroke="#000" stroke-width="1.00" />
<line x1="63.50" y1="270.19" x2="66.70" y2="270.19" stroke="#000" stroke-width="1.00" />
<line x1="678.20" y1="270.19" x2="675.00" y2="270.19" stroke="#000" stroke-width="1.00" />
<line x1="63.50" y1="305.33" x2="69.00" y2="305.33" stroke="#000" stroke-width="1.00" />
<line x1="678.20" y1="305.33" x2="672.70" y2="305.33" stroke="#000" stroke-width="1.00" />
<text x="56.00" y="312.23" font-size="14" text-anchor="end">10<tspan font-size="9" dy="-6.5">&#8722;2</tspan></text>
<line x1="63.50" y1="331.08" x2="66.70" y2="331.08" stroke="#000" stroke-width="1.00" />
<line x1="678.20" y1="331.08" x2="675.00" y2="331.08" stroke="#000" stroke-width="1.00" />
<line x1="63.50" y1="324.59" x2="66.70" y2="324.59" stroke="#000" stroke-width="1.00" />
<line x1="678.20" y1="324.59" x2="675.00" y2="324.59" stroke="#000" stroke-width="1.00" />
<line x1="63.50" y1="319.99" x2="66.70" y2="319.99" stroke="#000" stroke-width="1.00" />
<line x1="678.20" y1="319.99" x2="675.00" y2="319.99" stroke="#000" stroke-width="1.00" />
<line x1="63.50" y1="316.42" x2="66.70" y2="316.42" stroke="#000" stroke-width="1.00" />
<line x1="678.20" y1="316.42" x2="675.00" y2="316.42" stroke="#000" stroke-width="1.00" />
<line x1="63.50" y1="313.50" x2="66.70" y2="313.50" stroke="#000" stroke-width="1.00" />
<line x1="678.20" y1="313.50" x2="675.00" y2="313.50" stroke="#000" stroke-width="1.00" />
<line x1="63.50" y1="311.04" x2="66.70" y2="311.04" stroke="#000" stroke-width="1.00" />
<line x1="678.20" y1="311.04" x2="675.00" y2="311.04" stroke="#000" stroke-width="1.00" />
<line x1="63.50" y1="308.90" x2="66.70" y2="308.90" stroke="#000" stroke-width="1.00" />
<line x1="678.20" y1="308.90" x2="675.00" y2="308.90" stroke="#000" stroke-width="1.00" />
<line x1="63.50" y1="307.02" x2="66.70" y2="307.02" stroke="#000" stroke-width="1.00" />
<line x1="678.20" y1="307.02" x2="675.00" y2="307.02" stroke="#000" stroke-width="1.00" />
<line x1="63.50" y1="342.17" x2="69.00" y2="342.17" stroke="#000" stroke-width="1.00" />
<line x1="678.20" y1="342.17" x2="672.70" y2="342.17" stroke="#000" stroke-width="1.00" />
<text x="56.00" y="349.07" font-size="14" text-anchor="end">10<tspan font-size="9" dy="-6.5">&#8722;3</tspan></text>
<line x1="63.50" y1="367.91" x2="66.70" y2="367.91" stroke="#000" stroke-width="1.00" />
<line x1="678.20" y1="367.91" x2="675.00" y2="367.91" stroke="#000" stroke-width="1.00" />
<line x1="63.50" y1="361.43" x2="66.70" y2="361.43" stroke="#000" stroke-width="1.00" />
<line x1="678.20" y1="361.43" x2="675.00" y2="361.43" stroke="#000" stroke-width="1.00" />
<line x1="63.50" y1="356.82" x2="66.70" y2="356.82" stroke="#000" stroke-width="1.00" />
<line x1="678.20" y1="356.82" x2="675.00" y2="356.82" stroke="#000" stroke-width="1.00" />
<line x1="63.50" y1="353.25" x2="66.70" y2="353.25" stroke="#000" stroke-width="1.00" />
<line x1="678.20" y1="353.25" x2="675.00" y2="353.25" stroke="#000" stroke-width="1.00" />
<line x1="63.50" y1="350.34" x2="66.70" y2="350.34" stroke="#000" stroke-width="1.00" />
<line x1="678.20" y1="350.34" x2="675.00" y2="350.34" stroke="#000" stroke-width="1.00" />
<line x1="63.50" y1="347.87" x2="66.70" y2="347.87" stroke="#000" stroke-width="1.00" />
<line x1="678.20" y1="347.87" x2="675.00" y2="347.87" stroke="#000" stroke-width="1.00" />
<line x1="63.50" y1="345.74" x2="66.70" y2="345.74" stroke="#000" stroke-width="1.00" />
<line x1="678.20" y1="345.74" x2="675.00" y2="345.74" stroke="#000" stroke-width="1.00" />
<line x1="63.50" y1="343.85" x2="66.70" y2="343.85" stroke="#000" stroke-width="1.00" />
<line x1="678.20" y1="343.85" x2="675.00" y2="343.85" stroke="#000" stroke-width="1.00" />
<line x1="63.50" y1="379.00" x2="69.00" y2="379.00" stroke="#000" stroke-width="1.00" />
<line x1="678.20" y1="379.00" x2="672.70" y2="379.00" stroke="#000" stroke-width="1.00" />
<text x="56.00" y="385.90" font-size="14" text-anchor="end">10<tspan font-size="9" dy="-6.5">&#8722;4</tspan></text>
<text x="335.10" y="416.70" font-size="14.20" text-anchor="start" fill="#000" color="#000" >OSNR (dB)</text>
<text transform="translate(20.2,337.6) rotate(-90)" x="0" y="0" font-size="13.5">BER</text>
<text x="121.5" y="330.8" font-size="13.8">BER=7&#215;10<tspan font-size="10.6" dy="-6.3">&#8722;3</tspan></text>
<clipPath id="cpc"><rect x="63.50" y="268.50" width="614.70" height="110.50"/></clipPath>
<g clip-path="url(#cpc)" fill="none" stroke-width="2.6" stroke-linecap="butt">
<polyline points="143.87,268.50 144.85,268.66 145.87,268.83 146.89,268.99 147.92,269.17 148.94,269.34 149.97,269.51 150.99,269.69 152.02,269.86 153.04,270.04 154.07,270.22 155.09,270.40 156.11,270.58 157.14,270.77 158.16,270.96 159.19,271.14 160.21,271.33 161.24,271.53 162.26,271.72 163.29,271.91 164.31,272.11 165.34,272.31 166.36,272.51 167.38,272.71 168.41,272.92 169.43,273.13 170.46,273.33 171.48,273.54 172.51,273.76 173.53,273.97 174.56,274.19 175.58,274.40 176.60,274.62 177.63,274.85 178.65,275.07 179.68,275.30 180.70,275.53 181.73,275.76 182.75,275.99 183.78,276.22 184.80,276.46 185.83,276.70 186.85,276.94 187.87,277.19 188.90,277.43 189.92,277.68 190.95,277.93 191.97,278.19 193.00,278.44 194.02,278.70 195.05,278.96 196.07,279.23 197.09,279.49 198.12,279.76 199.14,280.03 200.17,280.31 201.19,280.58 202.22,280.86 203.24,281.14 204.27,281.43 205.29,281.71 206.32,282.00 207.34,282.30 208.36,282.59 209.39,282.89 210.41,283.19 211.44,283.50 212.46,283.80 213.49,284.11 214.51,284.43 215.54,284.74 216.56,285.06 217.58,285.38 218.61,285.71 219.63,286.04 220.66,286.37 221.68,286.71 222.71,287.05 223.73,287.39 224.76,287.73 225.78,288.08 226.81,288.43 227.83,288.79 228.85,289.15 229.88,289.51 230.90,289.88 231.93,290.25 232.95,290.62 233.98,291.00 235.00,291.38 236.03,291.76 237.05,292.15 238.07,292.55 239.10,292.94 240.12,293.34 241.15,293.75 242.17,294.16 243.20,294.57 244.22,294.99 245.25,295.41 246.27,295.83 247.30,296.26 248.32,296.70 249.34,297.13 250.37,297.58 251.39,298.02 252.42,298.48 253.44,298.93 254.47,299.39 255.49,299.86 256.52,300.33 257.54,300.81 258.56,301.29 259.59,301.77 260.61,302.26 261.64,302.76 262.66,303.26 263.69,303.76 264.71,304.27 265.74,304.79 266.76,305.31 267.79,305.83 268.81,306.36 269.83,306.90 270.86,307.44 271.88,307.99 272.91,308.55 273.93,309.11 274.96,309.67 275.98,310.24 277.01,310.82 278.03,311.40 279.05,311.99 280.08,312.59 281.10,313.19 282.13,313.80 283.15,314.41 284.18,315.03 285.20,315.66 286.23,316.29 287.25,316.93 288.28,317.58 289.30,318.23 290.32,318.89 291.35,319.56 292.37,320.23 293.40,320.91 294.42,321.60 295.45,322.30 296.47,323.00 297.50,323.71 298.52,324.43 299.54,325.15 300.57,325.89 301.59,326.63 302.62,327.38 303.64,328.13 304.67,328.90 305.69,329.67 306.72,330.45 307.74,331.24 308.77,332.04 309.79,332.84 310.81,333.66 311.84,334.48 312.86,335.31 313.89,336.15 314.91,337.00 315.94,337.86 316.96,338.73 317.99,339.61 319.01,340.49 320.03,341.39 321.06,342.29 322.08,343.21 323.11,344.13 324.13,345.07 325.16,346.01 326.18,346.97 327.21,347.94 328.23,348.91 329.26,349.90 330.28,350.89 331.30,351.90 332.33,352.92 333.35,353.95 334.38,354.99 335.40,356.04 336.43,357.11 337.45,358.18 338.48,359.27 339.50,360.36 340.52,361.47 341.55,362.60 342.57,363.73 343.60,364.88 344.62,366.04 345.65,367.21 346.67,368.39 347.70,369.59 348.72,370.80 349.75,372.02 350.77,373.26 351.79,374.51 352.82,375.77 353.84,377.05 354.87,378.34 355.89,379.65 356.92,380.97 357.94,382.30 358.97,383.65 359.99,385.01 361.01,386.39 362.04,387.78 363.06,389.19 364.09,390.62 365.11,392.06 366.14,393.51 367.16,394.99 368.19,396.47 369.21,397.98" stroke="#126da9"/>
<polyline points="205.54,268.50 206.52,268.66 207.54,268.83 208.57,268.99 209.59,269.17 210.62,269.34 211.64,269.51 212.67,269.69 213.69,269.86 214.72,270.04 215.74,270.22 216.77,270.40 217.79,270.58 218.81,270.77 219.84,270.96 220.86,271.14 221.89,271.33 222.91,271.53 223.94,271.72 224.96,271.91 225.99,272.11 227.01,272.31 228.03,272.51 229.06,272.71 230.08,272.92 231.11,273.13 232.13,273.33 233.16,273.54 234.18,273.76 235.21,273.97 236.23,274.19 237.26,274.40 238.28,274.62 239.30,274.85 240.33,275.07 241.35,275.30 242.38,275.53 243.40,275.76 244.43,275.99 245.45,276.22 246.48,276.46 247.50,276.70 248.52,276.94 249.55,277.19 250.57,277.43 251.60,277.68 252.62,277.93 253.65,278.19 254.67,278.44 255.70,278.70 256.72,278.96 257.75,279.23 258.77,279.49 259.79,279.76 260.82,280.03 261.84,280.31 262.87,280.58 263.89,280.86 264.92,281.14 265.94,281.43 266.97,281.71 267.99,282.00 269.01,282.30 270.04,282.59 271.06,282.89 272.09,283.19 273.11,283.50 274.14,283.80 275.16,284.11 276.19,284.43 277.21,284.74 278.24,285.06 279.26,285.38 280.28,285.71 281.31,286.04 282.33,286.37 283.36,286.71 284.38,287.05 285.41,287.39 286.43,287.73 287.46,288.08 288.48,288.43 289.50,288.79 290.53,289.15 291.55,289.51 292.58,289.88 293.60,290.25 294.63,290.62 295.65,291.00 296.68,291.38 297.70,291.76 298.73,292.15 299.75,292.55 300.77,292.94 301.80,293.34 302.82,293.75 303.85,294.16 304.87,294.57 305.90,294.99 306.92,295.41 307.95,295.83 308.97,296.26 309.99,296.70 311.02,297.13 312.04,297.58 313.07,298.02 314.09,298.48 315.12,298.93 316.14,299.39 317.17,299.86 318.19,300.33 319.22,300.81 320.24,301.29 321.26,301.77 322.29,302.26 323.31,302.76 324.34,303.26 325.36,303.76 326.39,304.27 327.41,304.79 328.44,305.31 329.46,305.83 330.48,306.36 331.51,306.90 332.53,307.44 333.56,307.99 334.58,308.55 335.61,309.11 336.63,309.67 337.66,310.24 338.68,310.82 339.71,311.40 340.73,311.99 341.75,312.59 342.78,313.19 343.80,313.80 344.83,314.41 345.85,315.03 346.88,315.66 347.90,316.29 348.93,316.93 349.95,317.58 350.97,318.23 352.00,318.89 353.02,319.56 354.05,320.23 355.07,320.91 356.10,321.60 357.12,322.30 358.15,323.00 359.17,323.71 360.20,324.43 361.22,325.15 362.24,325.89 363.27,326.63 364.29,327.38 365.32,328.13 366.34,328.90 367.37,329.67 368.39,330.45 369.42,331.24 370.44,332.04 371.46,332.84 372.49,333.66 373.51,334.48 374.54,335.31 375.56,336.15 376.59,337.00 377.61,337.86 378.64,338.73 379.66,339.61 380.69,340.49 381.71,341.39 382.73,342.29 383.76,343.21 384.78,344.13 385.81,345.07 386.83,346.01 387.86,346.97 388.88,347.94 389.91,348.91 390.93,349.90 391.95,350.89 392.98,351.90 394.00,352.92 395.03,353.95 396.05,354.99 397.08,356.04 398.10,357.11 399.13,358.18 400.15,359.27 401.18,360.36 402.20,361.47 403.22,362.60 404.25,363.73 405.27,364.88 406.30,366.04 407.32,367.21 408.35,368.39 409.37,369.59 410.40,370.80 411.42,372.02 412.44,373.26 413.47,374.51 414.49,375.77 415.52,377.05 416.54,378.34 417.57,379.65 418.59,380.97 419.62,382.30 420.64,383.65 421.67,385.01 422.69,386.39 423.71,387.78 424.74,389.19 425.76,390.62 426.79,392.06 427.81,393.51 428.84,394.99 429.86,396.47 430.89,397.98" stroke="#126da9"/>
<polyline points="243.47,268.50 244.22,268.60 245.25,268.73 246.27,268.86 247.30,268.99 248.32,269.13 249.34,269.26 250.37,269.40 251.39,269.54 252.42,269.68 253.44,269.82 254.47,269.96 255.49,270.10 256.52,270.25 257.54,270.39 258.56,270.54 259.59,270.69 260.61,270.84 261.64,270.99 262.66,271.14 263.69,271.29 264.71,271.45 265.74,271.60 266.76,271.76 267.79,271.92 268.81,272.08 269.83,272.24 270.86,272.41 271.88,272.57 272.91,272.74 273.93,272.90 274.96,273.07 275.98,273.25 277.01,273.42 278.03,273.59 279.05,273.77 280.08,273.94 281.10,274.12 282.13,274.30 283.15,274.49 284.18,274.67 285.20,274.85 286.23,275.04 287.25,275.23 288.28,275.42 289.30,275.61 290.32,275.81 291.35,276.00 292.37,276.20 293.40,276.40 294.42,276.60 295.45,276.81 296.47,277.01 297.50,277.22 298.52,277.43 299.54,277.64 300.57,277.85 301.59,278.07 302.62,278.28 303.64,278.50 304.67,278.72 305.69,278.95 306.72,279.17 307.74,279.40 308.77,279.63 309.79,279.86 310.81,280.09 311.84,280.33 312.86,280.57 313.89,280.81 314.91,281.05 315.94,281.29 316.96,281.54 317.99,281.79 319.01,282.04 320.03,282.30 321.06,282.55 322.08,282.81 323.11,283.08 324.13,283.34 325.16,283.61 326.18,283.88 327.21,284.15 328.23,284.42 329.26,284.70 330.28,284.98 331.30,285.26 332.33,285.55 333.35,285.84 334.38,286.13 335.40,286.42 336.43,286.72 337.45,287.02 338.48,287.32 339.50,287.62 340.52,287.93 341.55,288.24 342.57,288.56 343.60,288.87 344.62,289.19 345.65,289.52 346.67,289.85 347.70,290.18 348.72,290.51 349.75,290.84 350.77,291.18 351.79,291.53 352.82,291.87 353.84,292.22 354.87,292.58 355.89,292.93 356.92,293.30 357.94,293.66 358.97,294.03 359.99,294.40 361.01,294.77 362.04,295.15 363.06,295.53 364.09,295.92 365.11,296.31 366.14,296.70 367.16,297.10 368.19,297.50 369.21,297.91 370.24,298.32 371.26,298.74 372.28,299.15 373.31,299.58 374.33,300.00 375.36,300.43 376.38,300.87 377.41,301.31 378.43,301.75 379.46,302.20 380.48,302.66 381.50,303.11 382.53,303.58 383.55,304.04 384.58,304.52 385.60,304.99 386.63,305.47 387.65,305.96 388.68,306.45 389.70,306.95 390.73,307.45 391.75,307.96 392.77,308.47 393.80,308.99 394.82,309.51 395.85,310.04 396.87,310.57 397.90,311.11 398.92,311.66 399.95,312.21 400.97,312.76 401.99,313.32 403.02,313.89 404.04,314.46 405.07,315.04 406.09,315.63 407.12,316.22 408.14,316.82 409.17,317.42 410.19,318.03 411.22,318.65 412.24,319.27 413.26,319.90 414.29,320.53 415.31,321.18 416.34,321.82 417.36,322.48 418.39,323.14 419.41,323.81 420.44,324.49 421.46,325.17 422.48,325.86 423.51,326.56 424.53,327.27 425.56,327.98 426.58,328.70 427.61,329.43 428.63,330.17 429.66,330.91 430.68,331.66 431.71,332.42 432.73,333.19 433.75,333.96 434.78,334.75 435.80,335.54 436.83,336.34 437.85,337.15 438.88,337.96 439.90,338.79 440.93,339.63 441.95,340.47 442.97,341.32 444.00,342.18 445.02,343.05 446.05,343.94 447.07,344.83 448.10,345.72 449.12,346.63 450.15,347.55 451.17,348.48 452.20,349.42 453.22,350.37 454.24,351.33 455.27,352.30 456.29,353.28 457.32,354.27 458.34,355.27 459.37,356.28 460.39,357.30 461.42,358.33 462.44,359.38 463.46,360.43 464.49,361.50 465.51,362.58 466.54,363.67 467.56,364.77 468.59,365.89 469.61,367.01 470.64,368.15 471.66,369.30 472.69,370.46 473.71,371.64 474.73,372.83 475.76,374.03 476.78,375.25 477.81,376.47 478.83,377.71 479.86,378.97 480.88,380.24 481.91,381.52 482.93,382.82 483.95,384.13 484.98,385.45 486.00,386.79 487.03,388.14 488.05,389.51 489.08,390.90 490.10,392.30 491.13,393.71 492.15,395.14 493.18,396.59 494.20,398.05" stroke="#c55a2b"/>
<polyline points="305.14,268.50 305.90,268.60 306.92,268.73 307.95,268.86 308.97,268.99 309.99,269.13 311.02,269.26 312.04,269.40 313.07,269.54 314.09,269.68 315.12,269.82 316.14,269.96 317.17,270.10 318.19,270.25 319.22,270.39 320.24,270.54 321.26,270.69 322.29,270.84 323.31,270.99 324.34,271.14 325.36,271.29 326.39,271.45 327.41,271.60 328.44,271.76 329.46,271.92 330.48,272.08 331.51,272.24 332.53,272.41 333.56,272.57 334.58,272.74 335.61,272.90 336.63,273.07 337.66,273.25 338.68,273.42 339.71,273.59 340.73,273.77 341.75,273.94 342.78,274.12 343.80,274.30 344.83,274.49 345.85,274.67 346.88,274.85 347.90,275.04 348.93,275.23 349.95,275.42 350.97,275.61 352.00,275.81 353.02,276.00 354.05,276.20 355.07,276.40 356.10,276.60 357.12,276.81 358.15,277.01 359.17,277.22 360.20,277.43 361.22,277.64 362.24,277.85 363.27,278.07 364.29,278.28 365.32,278.50 366.34,278.72 367.37,278.95 368.39,279.17 369.42,279.40 370.44,279.63 371.46,279.86 372.49,280.09 373.51,280.33 374.54,280.57 375.56,280.81 376.59,281.05 377.61,281.29 378.64,281.54 379.66,281.79 380.69,282.04 381.71,282.30 382.73,282.55 383.76,282.81 384.78,283.08 385.81,283.34 386.83,283.61 387.86,283.88 388.88,284.15 389.91,284.42 390.93,284.70 391.95,284.98 392.98,285.26 394.00,285.55 395.03,285.84 396.05,286.13 397.08,286.42 398.10,286.72 399.13,287.02 400.15,287.32 401.18,287.62 402.20,287.93 403.22,288.24 404.25,288.56 405.27,288.87 406.30,289.19 407.32,289.52 408.35,289.85 409.37,290.18 410.40,290.51 411.42,290.84 412.44,291.18 413.47,291.53 414.49,291.87 415.52,292.22 416.54,292.58 417.57,292.93 418.59,293.30 419.62,293.66 420.64,294.03 421.67,294.40 422.69,294.77 423.71,295.15 424.74,295.53 425.76,295.92 426.79,296.31 427.81,296.70 428.84,297.10 429.86,297.50 430.89,297.91 431.91,298.32 432.93,298.74 433.96,299.15 434.98,299.58 436.01,300.00 437.03,300.43 438.06,300.87 439.08,301.31 440.11,301.75 441.13,302.20 442.16,302.66 443.18,303.11 444.20,303.58 445.23,304.04 446.25,304.52 447.28,304.99 448.30,305.47 449.33,305.96 450.35,306.45 451.38,306.95 452.40,307.45 453.42,307.96 454.45,308.47 455.47,308.99 456.50,309.51 457.52,310.04 458.55,310.57 459.57,311.11 460.60,311.66 461.62,312.21 462.65,312.76 463.67,313.32 464.69,313.89 465.72,314.46 466.74,315.04 467.77,315.63 468.79,316.22 469.82,316.82 470.84,317.42 471.87,318.03 472.89,318.65 473.91,319.27 474.94,319.90 475.96,320.53 476.99,321.18 478.01,321.82 479.04,322.48 480.06,323.14 481.09,323.81 482.11,324.49 483.14,325.17 484.16,325.86 485.18,326.56 486.21,327.27 487.23,327.98 488.26,328.70 489.28,329.43 490.31,330.17 491.33,330.91 492.36,331.66 493.38,332.42 494.40,333.19 495.43,333.96 496.45,334.75 497.48,335.54 498.50,336.34 499.53,337.15 500.55,337.96 501.58,338.79 502.60,339.63 503.63,340.47 504.65,341.32 505.67,342.18 506.70,343.05 507.72,343.94 508.75,344.83 509.77,345.72 510.80,346.63 511.82,347.55 512.85,348.48 513.87,349.42 514.89,350.37 515.92,351.33 516.94,352.30 517.97,353.28 518.99,354.27 520.02,355.27 521.04,356.28 522.07,357.30 523.09,358.33 524.12,359.38 525.14,360.43 526.16,361.50 527.19,362.58 528.21,363.67 529.24,364.77 530.26,365.89 531.29,367.01 532.31,368.15 533.34,369.30 534.36,370.46 535.38,371.64 536.41,372.83 537.43,374.03 538.46,375.25 539.48,376.47 540.51,377.71 541.53,378.97 542.56,380.24 543.58,381.52 544.61,382.82 545.63,384.13 546.65,385.45 547.68,386.79 548.70,388.14 549.73,389.51 550.75,390.90 551.78,392.30 552.80,393.71 553.83,395.14 554.85,396.59 555.87,398.05" stroke="#c55a2b"/>
<polyline points="336.44,268.50 337.45,268.60 338.48,268.70 339.50,268.80 340.52,268.90 341.55,269.01 342.57,269.11 343.60,269.22 344.62,269.32 345.65,269.43 346.67,269.54 347.70,269.65 348.72,269.76 349.75,269.87 350.77,269.98 351.79,270.09 352.82,270.21 353.84,270.32 354.87,270.44 355.89,270.56 356.92,270.67 357.94,270.79 358.97,270.91 359.99,271.03 361.01,271.15 362.04,271.28 363.06,271.40 364.09,271.53 365.11,271.65 366.14,271.78 367.16,271.91 368.19,272.04 369.21,272.17 370.24,272.30 371.26,272.43 372.28,272.57 373.31,272.70 374.33,272.84 375.36,272.97 376.38,273.11 377.41,273.25 378.43,273.39 379.46,273.54 380.48,273.68 381.50,273.83 382.53,273.97 383.55,274.12 384.58,274.27 385.60,274.42 386.63,274.57 387.65,274.72 388.68,274.88 389.70,275.03 390.73,275.19 391.75,275.35 392.77,275.51 393.80,275.67 394.82,275.83 395.85,276.00 396.87,276.16 397.90,276.33 398.92,276.50 399.95,276.67 400.97,276.84 401.99,277.01 403.02,277.19 404.04,277.36 405.07,277.54 406.09,277.72 407.12,277.90 408.14,278.09 409.17,278.27 410.19,278.46 411.22,278.65 412.24,278.84 413.26,279.03 414.29,279.22 415.31,279.42 416.34,279.61 417.36,279.81 418.39,280.01 419.41,280.21 420.44,280.42 421.46,280.62 422.48,280.83 423.51,281.04 424.53,281.25 425.56,281.47 426.58,281.68 427.61,281.90 428.63,282.12 429.66,282.35 430.68,282.57 431.71,282.80 432.73,283.02 433.75,283.25 434.78,283.49 435.80,283.72 436.83,283.96 437.85,284.20 438.88,284.44 439.90,284.68 440.93,284.93 441.95,285.18 442.97,285.43 444.00,285.68 445.02,285.94 446.05,286.20 447.07,286.46 448.10,286.72 449.12,286.99 450.15,287.26 451.17,287.53 452.20,287.80 453.22,288.08 454.24,288.35 455.27,288.64 456.29,288.92 457.32,289.21 458.34,289.50 459.37,289.79 460.39,290.08 461.42,290.38 462.44,290.68 463.46,290.99 464.49,291.29 465.51,291.60 466.54,291.92 467.56,292.23 468.59,292.55 469.61,292.87 470.64,293.20 471.66,293.53 472.69,293.86 473.71,294.19 474.73,294.53 475.76,294.87 476.78,295.22 477.81,295.57 478.83,295.92 479.86,296.28 480.88,296.63 481.91,297.00 482.93,297.36 483.95,297.73 484.98,298.11 486.00,298.48 487.03,298.86 488.05,299.25 489.08,299.64 490.10,300.03 491.13,300.43 492.15,300.83 493.18,301.23 494.20,301.64 495.22,302.05 496.25,302.47 497.27,302.89 498.30,303.31 499.32,303.74 500.35,304.18 501.37,304.61 502.40,305.06 503.42,305.50 504.44,305.95 505.47,306.41 506.49,306.87 507.52,307.34 508.54,307.81 509.57,308.28 510.59,308.76 511.62,309.25 512.64,309.73 513.67,310.23 514.69,310.73 515.71,311.23 516.74,311.74 517.76,312.26 518.79,312.78 519.81,313.30 520.84,313.84 521.86,314.37 522.89,314.91 523.91,315.46 524.93,316.01 525.96,316.57 526.98,317.14 528.01,317.71 529.03,318.29 530.06,318.87 531.08,319.46 532.11,320.05 533.13,320.65 534.16,321.26 535.18,321.87 536.20,322.49 537.23,323.12 538.25,323.75 539.28,324.39 540.30,325.04 541.33,325.69 542.35,326.35 543.38,327.02 544.40,327.69 545.42,328.37 546.45,329.06 547.47,329.75 548.50,330.45 549.52,331.16 550.55,331.88 551.57,332.61 552.60,333.34 553.62,334.08 554.65,334.83 555.67,335.58 556.69,336.35 557.72,337.12 558.74,337.90 559.77,338.69 560.79,339.48 561.82,340.29 562.84,341.10 563.87,341.92 564.89,342.76 565.91,343.60 566.94,344.44 567.96,345.30 568.99,346.17 570.01,347.05 571.04,347.93 572.06,348.83 573.09,349.73 574.11,350.65 575.14,351.57 576.16,352.50 577.18,353.45 578.21,354.40 579.23,355.37 580.26,356.34 581.28,357.33 582.31,358.32 583.33,359.33 584.36,360.35 585.38,361.38 586.40,362.41 587.43,363.47 588.45,364.53 589.48,365.60 590.50,366.69 591.53,367.78 592.55,368.89 593.58,370.01 594.60,371.15 595.63,372.29 596.65,373.45 597.67,374.62 598.70,375.80 599.72,377.00 600.75,378.21 601.77,379.43 602.80,380.67 603.82,381.91 604.85,383.18 605.87,384.45 606.89,385.74 607.92,387.05 608.94,388.37 609.97,389.70 610.99,391.05 612.02,392.41 613.04,393.79 614.07,395.18 615.09,396.58 616.12,398.01" stroke="#e1b13d"/>
<polyline points="398.11,268.50 399.13,268.60 400.15,268.70 401.18,268.80 402.20,268.90 403.22,269.01 404.25,269.11 405.27,269.22 406.30,269.32 407.32,269.43 408.35,269.54 409.37,269.65 410.40,269.76 411.42,269.87 412.44,269.98 413.47,270.09 414.49,270.21 415.52,270.32 416.54,270.44 417.57,270.56 418.59,270.67 419.62,270.79 420.64,270.91 421.67,271.03 422.69,271.15 423.71,271.28 424.74,271.40 425.76,271.53 426.79,271.65 427.81,271.78 428.84,271.91 429.86,272.04 430.89,272.17 431.91,272.30 432.93,272.43 433.96,272.57 434.98,272.70 436.01,272.84 437.03,272.97 438.06,273.11 439.08,273.25 440.11,273.39 441.13,273.54 442.16,273.68 443.18,273.83 444.20,273.97 445.23,274.12 446.25,274.27 447.28,274.42 448.30,274.57 449.33,274.72 450.35,274.88 451.38,275.03 452.40,275.19 453.42,275.35 454.45,275.51 455.47,275.67 456.50,275.83 457.52,276.00 458.55,276.16 459.57,276.33 460.60,276.50 461.62,276.67 462.65,276.84 463.67,277.01 464.69,277.19 465.72,277.36 466.74,277.54 467.77,277.72 468.79,277.90 469.82,278.09 470.84,278.27 471.87,278.46 472.89,278.65 473.91,278.84 474.94,279.03 475.96,279.22 476.99,279.42 478.01,279.61 479.04,279.81 480.06,280.01 481.09,280.21 482.11,280.42 483.14,280.62 484.16,280.83 485.18,281.04 486.21,281.25 487.23,281.47 488.26,281.68 489.28,281.90 490.31,282.12 491.33,282.35 492.36,282.57 493.38,282.80 494.40,283.02 495.43,283.25 496.45,283.49 497.48,283.72 498.50,283.96 499.53,284.20 500.55,284.44 501.58,284.68 502.60,284.93 503.63,285.18 504.65,285.43 505.67,285.68 506.70,285.94 507.72,286.20 508.75,286.46 509.77,286.72 510.80,286.99 511.82,287.26 512.85,287.53 513.87,287.80 514.89,288.08 515.92,288.35 516.94,288.64 517.97,288.92 518.99,289.21 520.02,289.50 521.04,289.79 522.07,290.08 523.09,290.38 524.12,290.68 525.14,290.99 526.16,291.29 527.19,291.60 528.21,291.92 529.24,292.23 530.26,292.55 531.29,292.87 532.31,293.20 533.34,293.53 534.36,293.86 535.38,294.19 536.41,294.53 537.43,294.87 538.46,295.22 539.48,295.57 540.51,295.92 541.53,296.28 542.56,296.63 543.58,297.00 544.61,297.36 545.63,297.73 546.65,298.11 547.68,298.48 548.70,298.86 549.73,299.25 550.75,299.64 551.78,300.03 552.80,300.43 553.83,300.83 554.85,301.23 555.87,301.64 556.90,302.05 557.92,302.47 558.95,302.89 559.97,303.31 561.00,303.74 562.02,304.18 563.05,304.61 564.07,305.06 565.10,305.50 566.12,305.95 567.14,306.41 568.17,306.87 569.19,307.34 570.22,307.81 571.24,308.28 572.27,308.76 573.29,309.25 574.32,309.73 575.34,310.23 576.36,310.73 577.39,311.23 578.41,311.74 579.44,312.26 580.46,312.78 581.49,313.30 582.51,313.84 583.54,314.37 584.56,314.91 585.59,315.46 586.61,316.01 587.63,316.57 588.66,317.14 589.68,317.71 590.71,318.29 591.73,318.87 592.76,319.46 593.78,320.05 594.81,320.65 595.83,321.26 596.85,321.87 597.88,322.49 598.90,323.12 599.93,323.75 600.95,324.39 601.98,325.04 603.00,325.69 604.03,326.35 605.05,327.02 606.08,327.69 607.10,328.37 608.12,329.06 609.15,329.75 610.17,330.45 611.20,331.16 612.22,331.88 613.25,332.61 614.27,333.34 615.30,334.08 616.32,334.83 617.34,335.58 618.37,336.35 619.39,337.12 620.42,337.90 621.44,338.69 622.47,339.48 623.49,340.29 624.52,341.10 625.54,341.92 626.57,342.76 627.59,343.60 628.61,344.44 629.64,345.30 630.66,346.17 631.69,347.05 632.71,347.93 633.74,348.83 634.76,349.73 635.79,350.65 636.81,351.57 637.83,352.50 638.86,353.45 639.88,354.40 640.91,355.37 641.93,356.34 642.96,357.33 643.98,358.32 645.01,359.33 646.03,360.35 647.06,361.38 648.08,362.41 649.10,363.47 650.13,364.53 651.15,365.60 652.18,366.69 653.20,367.78 654.23,368.89 655.25,370.01 656.28,371.15 657.30,372.29 658.32,373.45 659.35,374.62 660.37,375.80 661.40,377.00 662.42,378.21 663.45,379.43 664.47,380.67 665.50,381.91 666.52,383.18 667.55,384.45 668.57,385.74 669.59,387.05 670.62,388.37 671.64,389.70 672.67,391.05 673.69,392.41 674.72,393.79 675.74,395.18 676.77,396.58 677.79,398.01" stroke="#e1b13d"/>
</g>
<text transform="translate(244.70,292.40) rotate(20.12)" x="-0.70" y="0" font-size="14.00" fill="#000" color="#000">50 GBd</text>
<text transform="translate(300.30,291.40) rotate(18.23)" x="-1.50" y="0" font-size="14.00" fill="#000" color="#000">100 GBd</text>
<text transform="translate(361.10,292.80) rotate(18.43)" x="-0.70" y="0" font-size="14.00" fill="#000" color="#000">50 GBd</text>
<text transform="translate(420.20,291.90) rotate(17.67)" x="-1.50" y="0" font-size="14.00" fill="#000" color="#000">100 GBd</text>
<text transform="translate(476.60,293.60) rotate(18.16)" x="-0.70" y="0" font-size="14.00" fill="#000" color="#000">50 GBd</text>
<text transform="translate(535.10,290.50) rotate(18.60)" x="-1.50" y="0" font-size="14.00" fill="#000" color="#000">100 GBd</text>
<text transform="translate(300.00,321.70) rotate(37.80)" x="-1.20" y="0" font-size="16.20" fill="#126da9" color="#126da9">PM-16QAM</text>
<text transform="translate(427.50,323.30) rotate(37.01)" x="-1.20" y="0" font-size="16.20" fill="#c55a2b" color="#c55a2b">PM-64QAM</text>
<text transform="translate(547.10,322.90) rotate(35.84)" x="-1.20" y="0" font-size="16.20" fill="#e1b13d" color="#e1b13d">PM-256QAM</text>
</svg></div></body></html>
